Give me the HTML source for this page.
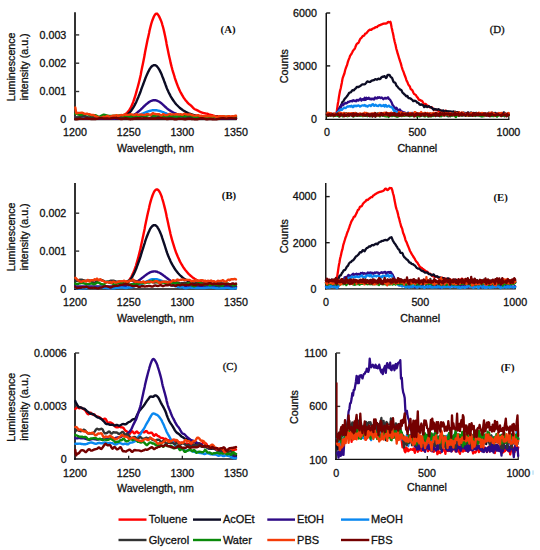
<!DOCTYPE html>
<html><head><meta charset="utf-8"><style>
html,body{margin:0;padding:0;background:#fff;}
svg{display:block;}
text{fill:#111;stroke:#111;stroke-width:0.3px;}
text.nb{stroke:none;}
</style></head><body>
<svg width="540" height="550" viewBox="0 0 540 550">
<rect width="540" height="550" fill="#fff"/>
<path d="M75.00 12.30 L75.00 120.20" stroke="#333" stroke-width="2.00" fill="none"/>
<path d="M74.00 119.60 L236.60 119.60" stroke="#222" stroke-width="1.20" fill="none"/>
<path d="M75.00 91.50 L79.20 91.50" stroke="#333" stroke-width="1.40" fill="none"/>
<path d="M75.00 63.20 L79.20 63.20" stroke="#333" stroke-width="1.40" fill="none"/>
<path d="M75.00 34.90 L79.20 34.90" stroke="#333" stroke-width="1.40" fill="none"/>
<path d="M128.70 119.60 L128.70 116.40" stroke="#222" stroke-width="1.20" fill="none"/>
<path d="M182.30 119.60 L182.30 116.40" stroke="#222" stroke-width="1.20" fill="none"/>
<path d="M236.00 119.60 L236.00 116.40" stroke="#222" stroke-width="1.20" fill="none"/>
<text x="66.30" y="123.30" font-size="10.70" text-anchor="end" font-family="Liberation Sans" font-weight="normal">0</text>
<text x="66.30" y="95.30" font-size="10.70" text-anchor="end" font-family="Liberation Sans" font-weight="normal">0.001</text>
<text x="66.30" y="67.00" font-size="10.70" text-anchor="end" font-family="Liberation Sans" font-weight="normal">0.002</text>
<text x="66.30" y="38.70" font-size="10.70" text-anchor="end" font-family="Liberation Sans" font-weight="normal">0.003</text>
<text x="75.00" y="136.10" font-size="10.70" text-anchor="middle" font-family="Liberation Sans" font-weight="normal">1200</text>
<text x="128.70" y="136.10" font-size="10.70" text-anchor="middle" font-family="Liberation Sans" font-weight="normal">1250</text>
<text x="182.30" y="136.10" font-size="10.70" text-anchor="middle" font-family="Liberation Sans" font-weight="normal">1300</text>
<text x="236.00" y="136.10" font-size="10.70" text-anchor="middle" font-family="Liberation Sans" font-weight="normal">1350</text>
<text x="155.40" y="151.80" font-size="10.70" text-anchor="middle" font-family="Liberation Sans" font-weight="normal">Wavelength, nm</text>
<text transform="translate(15.20,66.90) rotate(-90)" font-size="10.70" text-anchor="middle" font-family="Liberation Sans">Luminescence</text>
<text transform="translate(27.60,66.90) rotate(-90)" font-size="10.70" text-anchor="middle" font-family="Liberation Sans">intensity (a.u.)</text>
<path d="M75.3 117.7 75.8 117.7 76.3 117.6 76.8 117.5 77.3 117.4 77.7 117.3 78.2 117.2 78.7 117.2 79.2 117.2 79.7 117.2 80.2 117.2 80.7 117.2 81.2 117.2 81.6 117.2 82.1 117.2 82.6 117.2 83.1 117.3 83.6 117.3 84.1 117.4 84.6 117.5 85.1 117.5 85.6 117.6 86.0 117.6 86.5 117.6 87.0 117.6 87.5 117.6 88.0 117.6 88.5 117.6 89.0 117.7 89.5 117.7 90.0 117.8 90.4 117.8 90.9 117.7 91.4 117.7 91.9 117.6 92.4 117.6 92.9 117.6 93.4 117.6 93.9 117.6 94.3 117.6 94.8 117.6 95.3 117.6 95.8 117.5 96.3 117.5 96.8 117.4 97.3 117.4 97.8 117.3 98.3 117.3 98.7 117.2 99.2 117.2 99.7 117.1 100.2 117.1 100.7 117.1 101.2 117.1 101.7 117.2 102.2 117.2 102.7 117.1 103.1 117.1 103.6 117.1 104.1 117.1 104.6 117.2 105.1 117.3 105.6 117.3 106.1 117.4 106.6 117.5 107.0 117.5 107.5 117.5 108.0 117.4 108.5 117.4 109.0 117.3 109.5 117.3 110.0 117.3 110.5 117.3 111.0 117.3 111.4 117.4 111.9 117.4 112.4 117.4 112.9 117.4 113.4 117.4 113.9 117.4 114.4 117.3 114.9 117.3 115.4 117.3 115.8 117.2 116.3 117.2 116.8 117.1 117.3 117.1 117.8 117.1 118.3 117.1 118.8 117.1 119.3 117.0 119.7 117.0 120.2 116.9 120.7 116.7 121.2 116.5 121.7 116.3 122.2 116.0 122.7 115.8 123.2 115.5 123.7 115.2 124.1 115.0 124.6 114.7 125.1 114.4 125.6 114.1 126.1 113.7 126.6 113.3 127.1 112.8 127.6 112.2 128.1 111.7 128.5 111.1 129.0 110.4 129.5 109.7 130.0 108.9 130.5 108.0 131.0 107.1 131.5 106.1 132.0 105.1 132.4 103.9 132.9 102.7 133.4 101.4 133.9 100.0 134.4 98.5 134.9 96.9 135.4 95.3 135.9 93.6 136.4 91.9 136.8 90.2 137.3 88.5 137.8 86.7 138.3 84.9 138.8 83.0 139.3 81.0 139.8 78.9 140.3 76.7 140.8 74.4 141.2 72.0 141.7 69.6 142.2 67.1 142.7 64.7 143.2 62.2 143.7 59.7 144.2 57.2 144.7 54.6 145.1 52.0 145.6 49.4 146.1 46.9 146.6 44.4 147.1 42.0 147.6 39.6 148.1 37.4 148.6 35.2 149.1 33.0 149.5 30.8 150.0 28.7 150.5 26.7 151.0 24.8 151.5 23.0 152.0 21.4 152.5 20.0 153.0 18.7 153.5 17.5 153.9 16.5 154.4 15.6 154.9 14.8 155.4 14.2 155.9 13.8 156.4 13.6 156.9 13.6 157.4 13.9 157.8 14.4 158.3 15.1 158.8 15.9 159.3 16.9 159.8 17.9 160.3 19.0 160.8 20.2 161.3 21.4 161.8 22.8 162.2 24.3 162.7 26.0 163.2 27.8 163.7 29.8 164.2 31.9 164.7 34.2 165.2 36.5 165.7 38.9 166.2 41.4 166.6 43.9 167.1 46.4 167.6 48.8 168.1 51.3 168.6 53.7 169.1 56.0 169.6 58.2 170.1 60.3 170.5 62.4 171.0 64.4 171.5 66.4 172.0 68.2 172.5 70.1 173.0 71.8 173.5 73.4 174.0 75.0 174.5 76.6 174.9 78.1 175.4 79.6 175.9 81.0 176.4 82.4 176.9 83.8 177.4 85.1 177.9 86.4 178.4 87.5 178.9 88.7 179.3 89.8 179.8 90.8 180.3 91.8 180.8 92.7 181.3 93.6 181.8 94.5 182.3 95.3 182.8 96.1 183.2 96.9 183.7 97.7 184.2 98.4 184.7 99.1 185.2 99.8 185.7 100.4 186.2 101.0 186.7 101.6 187.2 102.2 187.6 102.7 188.1 103.2 188.6 103.7 189.1 104.1 189.6 104.5 190.1 104.9 190.6 105.3 191.1 105.7 191.6 106.2 192.0 106.6 192.5 107.1 193.0 107.7 193.5 108.1 194.0 108.6 194.5 109.0 195.0 109.3 195.5 109.5 195.9 109.7 196.4 109.9 196.9 110.2 197.4 110.4 197.9 110.7 198.4 110.9 198.9 111.2 199.4 111.5 199.9 111.7 200.3 112.0 200.8 112.2 201.3 112.4 201.8 112.5 202.3 112.7 202.8 112.9 203.3 113.0 203.8 113.1 204.3 113.2 204.7 113.3 205.2 113.4 205.7 113.5 206.2 113.6 206.7 113.6 207.2 113.7 207.7 113.9 208.2 114.1 208.6 114.3 209.1 114.5 209.6 114.6 210.1 114.8 210.6 114.9 211.1 115.0 211.6 115.1 212.1 115.2 212.6 115.4 213.0 115.5 213.5 115.7 214.0 115.8 214.5 116.0 215.0 116.1 215.5 116.1 216.0 116.2 216.5 116.2 217.0 116.3 217.4 116.3 217.9 116.4 218.4 116.4 218.9 116.5 219.4 116.6 219.9 116.6 220.4 116.6 220.9 116.5 221.3 116.4 221.8 116.4 222.3 116.4 222.8 116.5 223.3 116.7 223.8 116.9 224.3 117.1 224.8 117.2 225.3 117.2 225.7 117.2 226.2 117.1 226.7 117.0 227.2 117.0 227.7 117.0 228.2 117.0 228.7 117.1 229.2 117.1 229.7 117.1 230.1 117.1 230.6 117.1 231.1 117.1 231.6 117.1 232.1 117.1 232.6 117.1 233.1 117.1 233.6 117.1 234.0 117.1 234.5 117.2 235.0 117.2 235.5 117.2 236.0 117.1" stroke="#ff0000" stroke-width="2.40" fill="none" stroke-linejoin="round" stroke-linecap="round"/>
<path d="M75.3 118.6 75.8 118.6 76.3 118.6 76.8 118.6 77.3 118.6 77.7 118.6 78.2 118.6 78.7 118.6 79.2 118.6 79.7 118.6 80.2 118.6 80.7 118.6 81.2 118.6 81.6 118.6 82.1 118.6 82.6 118.6 83.1 118.6 83.6 118.6 84.1 118.6 84.6 118.6 85.1 118.6 85.6 118.6 86.0 118.6 86.5 118.6 87.0 118.6 87.5 118.6 88.0 118.6 88.5 118.6 89.0 118.6 89.5 118.6 90.0 118.6 90.4 118.6 90.9 118.6 91.4 118.6 91.9 118.6 92.4 118.6 92.9 118.6 93.4 118.6 93.9 118.6 94.3 118.6 94.8 118.6 95.3 118.6 95.8 118.6 96.3 118.6 96.8 118.6 97.3 118.6 97.8 118.6 98.3 118.6 98.7 118.6 99.2 118.6 99.7 118.6 100.2 118.6 100.7 118.6 101.2 118.6 101.7 118.6 102.2 118.6 102.7 118.6 103.1 118.6 103.6 118.6 104.1 118.6 104.6 118.6 105.1 118.6 105.6 118.6 106.1 118.6 106.6 118.6 107.0 118.6 107.5 118.6 108.0 118.6 108.5 118.6 109.0 118.6 109.5 118.6 110.0 118.5 110.5 118.5 111.0 118.5 111.4 118.5 111.9 118.5 112.4 118.5 112.9 118.5 113.4 118.5 113.9 118.4 114.4 118.4 114.9 118.4 115.4 118.4 115.8 118.3 116.3 118.3 116.8 118.2 117.3 118.2 117.8 118.1 118.3 118.1 118.8 118.0 119.3 117.9 119.7 117.8 120.2 117.7 120.7 117.6 121.2 117.5 121.7 117.4 122.2 117.2 122.7 117.1 123.2 116.9 123.7 116.7 124.1 116.5 124.6 116.3 125.1 116.0 125.6 115.7 126.1 115.4 126.6 115.1 127.1 114.8 127.6 114.4 128.1 114.0 128.5 113.6 129.0 113.1 129.5 112.6 130.0 112.1 130.5 111.5 131.0 110.9 131.5 110.2 132.0 109.6 132.4 108.8 132.9 108.1 133.4 107.3 133.9 106.4 134.4 105.6 134.9 104.6 135.4 103.7 135.9 102.7 136.4 101.7 136.8 100.6 137.3 99.5 137.8 98.3 138.3 97.2 138.8 95.9 139.3 94.7 139.8 93.5 140.3 92.2 140.8 90.9 141.2 89.6 141.7 88.2 142.2 86.9 142.7 85.6 143.2 84.3 143.7 82.9 144.2 81.6 144.7 80.3 145.1 79.1 145.6 77.8 146.1 76.6 146.6 75.4 147.1 74.3 147.6 73.2 148.1 72.1 148.6 71.2 149.1 70.2 149.5 69.4 150.0 68.6 150.5 67.9 151.0 67.2 151.5 66.7 152.0 66.2 152.5 65.8 153.0 65.5 153.5 65.3 153.9 65.1 154.4 65.1 154.9 65.2 155.4 65.3 155.9 65.5 156.4 65.9 156.9 66.3 157.4 66.8 157.8 67.4 158.3 68.1 158.8 68.9 159.3 69.7 159.8 70.6 160.3 71.6 160.8 72.6 161.3 73.7 161.8 74.8 162.2 76.0 162.7 77.3 163.2 78.5 163.7 79.8 164.2 81.2 164.7 82.5 165.2 83.8 165.7 85.2 166.2 86.5 166.6 87.7 167.1 88.9 167.6 90.0 168.1 91.1 168.6 92.2 169.1 93.2 169.6 94.2 170.1 95.1 170.5 96.0 171.0 96.9 171.5 97.7 172.0 98.5 172.5 99.3 173.0 100.0 173.5 100.7 174.0 101.4 174.5 102.1 174.9 102.7 175.4 103.3 175.9 103.9 176.4 104.5 176.9 105.0 177.4 105.5 177.9 106.0 178.4 106.5 178.9 107.0 179.3 107.4 179.8 107.8 180.3 108.3 180.8 108.6 181.3 109.0 181.8 109.4 182.3 109.7 182.8 110.1 183.2 110.4 183.7 110.7 184.2 111.0 184.7 111.3 185.2 111.6 185.7 111.9 186.2 112.1 186.7 112.4 187.2 112.6 187.6 112.8 188.1 113.1 188.6 113.3 189.1 113.5 189.6 113.7 190.1 113.9 190.6 114.0 191.1 114.2 191.6 114.4 192.0 114.5 192.5 114.7 193.0 114.9 193.5 115.0 194.0 115.1 194.5 115.3 195.0 115.4 195.5 115.5 195.9 115.6 196.4 115.7 196.9 115.9 197.4 116.0 197.9 116.1 198.4 116.2 198.9 116.3 199.4 116.3 199.9 116.4 200.3 116.5 200.8 116.6 201.3 116.7 201.8 116.7 202.3 116.8 202.8 116.9 203.3 117.0 203.8 117.0 204.3 117.1 204.7 117.1 205.2 117.2 205.7 117.2 206.2 117.3 206.7 117.3 207.2 117.4 207.7 117.4 208.2 117.5 208.6 117.5 209.1 117.6 209.6 117.6 210.1 117.6 210.6 117.7 211.1 117.7 211.6 117.8 212.1 117.8 212.6 117.8 213.0 117.8 213.5 117.9 214.0 117.9 214.5 117.9 215.0 118.0 215.5 118.0 216.0 118.0 216.5 118.0 217.0 118.0 217.4 118.1 217.9 118.1 218.4 118.1 218.9 118.1 219.4 118.1 219.9 118.2 220.4 118.2 220.9 118.2 221.3 118.2 221.8 118.2 222.3 118.2 222.8 118.3 223.3 118.3 223.8 118.3 224.3 118.3 224.8 118.3 225.3 118.3 225.7 118.3 226.2 118.3 226.7 118.3 227.2 118.4 227.7 118.4 228.2 118.4 228.7 118.4 229.2 118.4 229.7 118.4 230.1 118.4 230.6 118.4 231.1 118.4 231.6 118.4 232.1 118.4 232.6 118.4 233.1 118.4 233.6 118.5 234.0 118.5 234.5 118.5 235.0 118.5 235.5 118.5 236.0 118.5" stroke="#0c0c24" stroke-width="2.40" fill="none" stroke-linejoin="round" stroke-linecap="round"/>
<path d="M75.3 118.7 75.8 118.7 76.3 118.7 76.8 118.7 77.3 118.7 77.7 118.7 78.2 118.7 78.7 118.7 79.2 118.7 79.7 118.7 80.2 118.7 80.7 118.7 81.2 118.7 81.6 118.7 82.1 118.7 82.6 118.7 83.1 118.7 83.6 118.7 84.1 118.7 84.6 118.7 85.1 118.7 85.6 118.7 86.0 118.7 86.5 118.7 87.0 118.7 87.5 118.7 88.0 118.7 88.5 118.7 89.0 118.7 89.5 118.7 90.0 118.7 90.4 118.7 90.9 118.7 91.4 118.7 91.9 118.7 92.4 118.7 92.9 118.7 93.4 118.7 93.9 118.7 94.3 118.7 94.8 118.7 95.3 118.7 95.8 118.7 96.3 118.7 96.8 118.7 97.3 118.7 97.8 118.7 98.3 118.7 98.7 118.7 99.2 118.7 99.7 118.7 100.2 118.7 100.7 118.7 101.2 118.7 101.7 118.7 102.2 118.7 102.7 118.7 103.1 118.7 103.6 118.7 104.1 118.7 104.6 118.7 105.1 118.7 105.6 118.7 106.1 118.7 106.6 118.7 107.0 118.7 107.5 118.7 108.0 118.7 108.5 118.7 109.0 118.7 109.5 118.7 110.0 118.7 110.5 118.7 111.0 118.7 111.4 118.7 111.9 118.7 112.4 118.7 112.9 118.7 113.4 118.7 113.9 118.7 114.4 118.7 114.9 118.6 115.4 118.6 115.8 118.6 116.3 118.6 116.8 118.6 117.3 118.6 117.8 118.6 118.3 118.6 118.8 118.5 119.3 118.5 119.7 118.5 120.2 118.5 120.7 118.4 121.2 118.4 121.7 118.4 122.2 118.3 122.7 118.3 123.2 118.2 123.7 118.2 124.1 118.1 124.6 118.1 125.1 118.0 125.6 117.9 126.1 117.8 126.6 117.7 127.1 117.6 127.6 117.5 128.1 117.4 128.5 117.2 129.0 117.1 129.5 116.9 130.0 116.7 130.5 116.6 131.0 116.4 131.5 116.2 132.0 115.9 132.4 115.7 132.9 115.5 133.4 115.2 133.9 114.9 134.4 114.6 134.9 114.3 135.4 114.0 135.9 113.7 136.4 113.3 136.8 112.9 137.3 112.5 137.8 112.2 138.3 111.7 138.8 111.3 139.3 110.9 139.8 110.5 140.3 110.0 140.8 109.6 141.2 109.1 141.7 108.6 142.2 108.1 142.7 107.7 143.2 107.2 143.7 106.7 144.2 106.2 144.7 105.8 145.1 105.3 145.6 104.9 146.1 104.4 146.6 104.0 147.1 103.6 147.6 103.2 148.1 102.8 148.6 102.4 149.1 102.1 149.5 101.8 150.0 101.5 150.5 101.2 151.0 101.0 151.5 100.8 152.0 100.6 152.5 100.5 153.0 100.3 153.5 100.3 153.9 100.2 154.4 100.2 154.9 100.2 155.4 100.3 155.9 100.4 156.4 100.5 156.9 100.6 157.4 100.8 157.8 101.0 158.3 101.3 158.8 101.5 159.3 101.8 159.8 102.1 160.3 102.5 160.8 102.8 161.3 103.2 161.8 103.6 162.2 104.0 162.7 104.5 163.2 104.9 163.7 105.4 164.2 105.8 164.7 106.3 165.2 106.8 165.7 107.2 166.2 107.7 166.6 108.1 167.1 108.5 167.6 108.9 168.1 109.3 168.6 109.6 169.1 110.0 169.6 110.3 170.1 110.6 170.5 110.9 171.0 111.2 171.5 111.5 172.0 111.8 172.5 112.1 173.0 112.3 173.5 112.6 174.0 112.8 174.5 113.0 174.9 113.2 175.4 113.4 175.9 113.7 176.4 113.8 176.9 114.0 177.4 114.2 177.9 114.4 178.4 114.5 178.9 114.7 179.3 114.9 179.8 115.0 180.3 115.1 180.8 115.3 181.3 115.4 181.8 115.5 182.3 115.7 182.8 115.8 183.2 115.9 183.7 116.0 184.2 116.1 184.7 116.2 185.2 116.3 185.7 116.4 186.2 116.5 186.7 116.6 187.2 116.6 187.6 116.7 188.1 116.8 188.6 116.9 189.1 116.9 189.6 117.0 190.1 117.1 190.6 117.1 191.1 117.2 191.6 117.3 192.0 117.3 192.5 117.4 193.0 117.4 193.5 117.5 194.0 117.5 194.5 117.6 195.0 117.6 195.5 117.6 195.9 117.7 196.4 117.7 196.9 117.8 197.4 117.8 197.9 117.8 198.4 117.9 198.9 117.9 199.4 117.9 199.9 118.0 200.3 118.0 200.8 118.0 201.3 118.0 201.8 118.1 202.3 118.1 202.8 118.1 203.3 118.1 203.8 118.2 204.3 118.2 204.7 118.2 205.2 118.2 205.7 118.2 206.2 118.3 206.7 118.3 207.2 118.3 207.7 118.3 208.2 118.3 208.6 118.3 209.1 118.3 209.6 118.4 210.1 118.4 210.6 118.4 211.1 118.4 211.6 118.4 212.1 118.4 212.6 118.4 213.0 118.4 213.5 118.5 214.0 118.5 214.5 118.5 215.0 118.5 215.5 118.5 216.0 118.5 216.5 118.5 217.0 118.5 217.4 118.5 217.9 118.5 218.4 118.5 218.9 118.5 219.4 118.5 219.9 118.6 220.4 118.6 220.9 118.6 221.3 118.6 221.8 118.6 222.3 118.6 222.8 118.6 223.3 118.6 223.8 118.6 224.3 118.6 224.8 118.6 225.3 118.6 225.7 118.6 226.2 118.6 226.7 118.6 227.2 118.6 227.7 118.6 228.2 118.6 228.7 118.6 229.2 118.6 229.7 118.6 230.1 118.6 230.6 118.6 231.1 118.6 231.6 118.6 232.1 118.6 232.6 118.6 233.1 118.6 233.6 118.6 234.0 118.7 234.5 118.7 235.0 118.7 235.5 118.7 236.0 118.7" stroke="#2e0a86" stroke-width="2.40" fill="none" stroke-linejoin="round" stroke-linecap="round"/>
<path d="M75.3 117.7 75.8 117.7 76.3 117.7 76.8 117.7 77.3 117.7 77.7 117.7 78.2 117.7 78.7 117.7 79.2 117.7 79.7 117.7 80.2 117.7 80.7 117.7 81.2 117.7 81.6 117.7 82.1 117.7 82.6 117.7 83.1 117.7 83.6 117.7 84.1 117.7 84.6 117.7 85.1 117.7 85.6 117.7 86.0 117.7 86.5 117.7 87.0 117.7 87.5 117.7 88.0 117.7 88.5 117.7 89.0 117.7 89.5 117.7 90.0 117.7 90.4 117.7 90.9 117.7 91.4 117.7 91.9 117.7 92.4 117.7 92.9 117.7 93.4 117.7 93.9 117.7 94.3 117.7 94.8 117.7 95.3 117.7 95.8 117.7 96.3 117.7 96.8 117.7 97.3 117.7 97.8 117.7 98.3 117.7 98.7 117.7 99.2 117.7 99.7 117.7 100.2 117.7 100.7 117.7 101.2 117.7 101.7 117.7 102.2 117.7 102.7 117.7 103.1 117.7 103.6 117.7 104.1 117.7 104.6 117.7 105.1 117.7 105.6 117.7 106.1 117.7 106.6 117.7 107.0 117.7 107.5 117.7 108.0 117.7 108.5 117.7 109.0 117.7 109.5 117.7 110.0 117.7 110.5 117.7 111.0 117.7 111.4 117.7 111.9 117.7 112.4 117.7 112.9 117.7 113.4 117.7 113.9 117.7 114.4 117.7 114.9 117.7 115.4 117.7 115.8 117.7 116.3 117.7 116.8 117.7 117.3 117.7 117.8 117.7 118.3 117.7 118.8 117.7 119.3 117.7 119.7 117.7 120.2 117.6 120.7 117.6 121.2 117.6 121.7 117.6 122.2 117.6 122.7 117.6 123.2 117.6 123.7 117.6 124.1 117.5 124.6 117.5 125.1 117.5 125.6 117.5 126.1 117.4 126.6 117.4 127.1 117.4 127.6 117.3 128.1 117.3 128.5 117.2 129.0 117.2 129.5 117.1 130.0 117.1 130.5 117.0 131.0 117.0 131.5 116.9 132.0 116.8 132.4 116.7 132.9 116.6 133.4 116.5 133.9 116.4 134.4 116.3 134.9 116.2 135.4 116.1 135.9 115.9 136.4 115.8 136.8 115.7 137.3 115.5 137.8 115.4 138.3 115.2 138.8 115.0 139.3 114.9 139.8 114.7 140.3 114.5 140.8 114.3 141.2 114.1 141.7 113.9 142.2 113.7 142.7 113.5 143.2 113.3 143.7 113.1 144.2 112.9 144.7 112.7 145.1 112.5 145.6 112.3 146.1 112.1 146.6 111.9 147.1 111.8 147.6 111.6 148.1 111.4 148.6 111.2 149.1 111.1 149.5 111.0 150.0 110.8 150.5 110.7 151.0 110.6 151.5 110.5 152.0 110.4 152.5 110.3 153.0 110.3 153.5 110.2 153.9 110.2 154.4 110.2 154.9 110.2 155.4 110.2 155.9 110.3 156.4 110.3 156.9 110.4 157.4 110.4 157.8 110.5 158.3 110.6 158.8 110.7 159.3 110.9 159.8 111.0 160.3 111.1 160.8 111.3 161.3 111.5 161.8 111.6 162.2 111.8 162.7 112.0 163.2 112.2 163.7 112.4 164.2 112.6 164.7 112.8 165.2 113.0 165.7 113.2 166.2 113.4 166.6 113.6 167.1 113.8 167.6 114.0 168.1 114.2 168.6 114.4 169.1 114.5 169.6 114.7 170.1 114.9 170.5 115.1 171.0 115.2 171.5 115.4 172.0 115.6 172.5 115.7 173.0 115.8 173.5 116.0 174.0 116.1 174.5 116.2 174.9 116.3 175.4 116.5 175.9 116.6 176.4 116.6 176.9 116.7 177.4 116.8 177.9 116.9 178.4 117.0 178.9 117.0 179.3 117.1 179.8 117.2 180.3 117.2 180.8 117.3 181.3 117.3 181.8 117.3 182.3 117.4 182.8 117.4 183.2 117.4 183.7 117.5 184.2 117.5 184.7 117.5 185.2 117.5 185.7 117.6 186.2 117.6 186.7 117.6 187.2 117.6 187.6 117.6 188.1 117.6 188.6 117.6 189.1 117.6 189.6 117.7 190.1 117.7 190.6 117.7 191.1 117.7 191.6 117.7 192.0 117.7 192.5 117.7 193.0 117.7 193.5 117.7 194.0 117.7 194.5 117.7 195.0 117.7 195.5 117.7 195.9 117.7 196.4 117.7 196.9 117.7 197.4 117.7 197.9 117.7 198.4 117.7 198.9 117.7 199.4 117.7 199.9 117.7 200.3 117.7 200.8 117.7 201.3 117.7 201.8 117.7 202.3 117.7 202.8 117.7 203.3 117.7 203.8 117.7 204.3 117.7 204.7 117.7 205.2 117.7 205.7 117.7 206.2 117.7 206.7 117.7 207.2 117.7 207.7 117.7 208.2 117.7 208.6 117.7 209.1 117.7 209.6 117.7 210.1 117.7 210.6 117.7 211.1 117.7 211.6 117.7 212.1 117.7 212.6 117.7 213.0 117.7 213.5 117.7 214.0 117.7 214.5 117.7 215.0 117.7 215.5 117.7 216.0 117.7 216.5 117.7 217.0 117.7 217.4 117.7 217.9 117.7 218.4 117.7 218.9 117.7 219.4 117.7 219.9 117.7 220.4 117.7 220.9 117.7 221.3 117.7 221.8 117.7 222.3 117.7 222.8 117.7 223.3 117.7 223.8 117.7 224.3 117.7 224.8 117.7 225.3 117.7 225.7 117.7 226.2 117.7 226.7 117.7 227.2 117.7 227.7 117.7 228.2 117.7 228.7 117.7 229.2 117.7 229.7 117.7 230.1 117.7 230.6 117.7 231.1 117.7 231.6 117.7 232.1 117.7 232.6 117.7 233.1 117.7 233.6 117.7 234.0 117.7 234.5 117.7 235.0 117.7 235.5 117.7 236.0 117.7" stroke="#0a88f0" stroke-width="2.40" fill="none" stroke-linejoin="round" stroke-linecap="round"/>
<path d="M75.3 117.4 75.8 117.4 76.3 117.4 76.8 117.4 77.3 117.5 77.7 117.5 78.2 117.5 78.7 117.4 79.2 117.3 79.7 117.1 80.2 116.9 80.7 116.7 81.2 116.5 81.6 116.3 82.1 116.1 82.6 115.9 83.1 115.9 83.6 115.9 84.1 115.9 84.6 116.1 85.1 116.2 85.6 116.4 86.0 116.7 86.5 116.9 87.0 117.1 87.5 117.3 88.0 117.4 88.5 117.5 89.0 117.5 89.5 117.5 90.0 117.4 90.4 117.3 90.9 117.1 91.4 117.0 91.9 116.8 92.4 116.7 92.9 116.7 93.4 116.7 93.9 116.8 94.3 116.9 94.8 117.1 95.3 117.3 95.8 117.5 96.3 117.6 96.8 117.7 97.3 117.7 97.8 117.6 98.3 117.5 98.7 117.4 99.2 117.3 99.7 117.2 100.2 117.1 100.7 117.1 101.2 117.1 101.7 117.1 102.2 117.2 102.7 117.2 103.1 117.3 103.6 117.4 104.1 117.5 104.6 117.6 105.1 117.7 105.6 117.8 106.1 117.9 106.6 118.0 107.0 118.0 107.5 118.0 108.0 117.9 108.5 117.8 109.0 117.7 109.5 117.6 110.0 117.5 110.5 117.3 111.0 117.2 111.4 117.1 111.9 117.1 112.4 117.1 112.9 117.1 113.4 117.2 113.9 117.2 114.4 117.3 114.9 117.4 115.4 117.5 115.8 117.6 116.3 117.6 116.8 117.6 117.3 117.6 117.8 117.5 118.3 117.4 118.8 117.3 119.3 117.2 119.7 117.2 120.2 117.1 120.7 117.0 121.2 116.9 121.7 116.9 122.2 116.9 122.7 117.0 123.2 117.1 123.7 117.2 124.1 117.3 124.6 117.5 125.1 117.6 125.6 117.7 126.1 117.8 126.6 117.9 127.1 117.8 127.6 117.8 128.1 117.7 128.5 117.6 129.0 117.5 129.5 117.4 130.0 117.3 130.5 117.3 131.0 117.3 131.5 117.3 132.0 117.2 132.4 117.2 132.9 117.1 133.4 117.0 133.9 117.0 134.4 116.9 134.9 117.0 135.4 117.0 135.9 117.1 136.4 117.3 136.8 117.4 137.3 117.5 137.8 117.6 138.3 117.6 138.8 117.5 139.3 117.3 139.8 117.1 140.3 116.8 140.8 116.6 141.2 116.5 141.7 116.4 142.2 116.4 142.7 116.5 143.2 116.6 143.7 116.8 144.2 117.0 144.7 117.2 145.1 117.5 145.6 117.7 146.1 118.0 146.6 118.2 147.1 118.3 147.6 118.5 148.1 118.5 148.6 118.5 149.1 118.4 149.5 118.2 150.0 118.0 150.5 117.8 151.0 117.5 151.5 117.3 152.0 117.2 152.5 117.1 153.0 117.0 153.5 117.1 153.9 117.1 154.4 117.2 154.9 117.2 155.4 117.3 155.9 117.4 156.4 117.4 156.9 117.3 157.4 117.3 157.8 117.2 158.3 117.1 158.8 117.1 159.3 117.0 159.8 116.9 160.3 116.9 160.8 116.8 161.3 116.7 161.8 116.7 162.2 116.6 162.7 116.6 163.2 116.6 163.7 116.6 164.2 116.6 164.7 116.6 165.2 116.7 165.7 116.7 166.2 116.7 166.6 116.8 167.1 116.8 167.6 116.9 168.1 117.0 168.6 117.1 169.1 117.2 169.6 117.4 170.1 117.5 170.5 117.6 171.0 117.7 171.5 117.7 172.0 117.7 172.5 117.7 173.0 117.6 173.5 117.5 174.0 117.5 174.5 117.4 174.9 117.4 175.4 117.4 175.9 117.5 176.4 117.5 176.9 117.5 177.4 117.4 177.9 117.3 178.4 117.2 178.9 117.0 179.3 116.7 179.8 116.4 180.3 116.2 180.8 116.0 181.3 116.0 181.8 116.1 182.3 116.2 182.8 116.4 183.2 116.6 183.7 116.8 184.2 116.9 184.7 117.1 185.2 117.2 185.7 117.2 186.2 117.2 186.7 117.1 187.2 117.0 187.6 116.9 188.1 116.8 188.6 116.8 189.1 116.8 189.6 116.9 190.1 117.1 190.6 117.3 191.1 117.4 191.6 117.6 192.0 117.9 192.5 118.1 193.0 118.2 193.5 118.4 194.0 118.4 194.5 118.5 195.0 118.5 195.5 118.4 195.9 118.4 196.4 118.3 196.9 118.3 197.4 118.1 197.9 118.0 198.4 117.9 198.9 117.7 199.4 117.6 199.9 117.5 200.3 117.3 200.8 117.2 201.3 117.1 201.8 117.0 202.3 116.9 202.8 116.8 203.3 116.8 203.8 116.8 204.3 116.8 204.7 116.9 205.2 117.0 205.7 117.1 206.2 117.3 206.7 117.4 207.2 117.5 207.7 117.6 208.2 117.6 208.6 117.6 209.1 117.6 209.6 117.5 210.1 117.5 210.6 117.4 211.1 117.4 211.6 117.3 212.1 117.2 212.6 117.2 213.0 117.1 213.5 117.0 214.0 116.9 214.5 116.8 215.0 116.7 215.5 116.6 216.0 116.6 216.5 116.7 217.0 116.8 217.4 117.0 217.9 117.1 218.4 117.2 218.9 117.3 219.4 117.3 219.9 117.2 220.4 117.2 220.9 117.1 221.3 117.1 221.8 117.1 222.3 117.1 222.8 117.2 223.3 117.3 223.8 117.4 224.3 117.5 224.8 117.6 225.3 117.6 225.7 117.6 226.2 117.6 226.7 117.6 227.2 117.6 227.7 117.6 228.2 117.5 228.7 117.5 229.2 117.5 229.7 117.5 230.1 117.5 230.6 117.5 231.1 117.5 231.6 117.6 232.1 117.7 232.6 117.8 233.1 117.9 233.6 118.0 234.0 118.1 234.5 118.2 235.0 118.2 235.5 118.2 236.0 118.1" stroke="#333333" stroke-width="2.40" fill="none" stroke-linejoin="round" stroke-linecap="round"/>
<path d="M75.3 113.8 75.8 113.9 76.3 113.9 76.8 114.0 77.3 114.2 77.7 114.4 78.2 114.5 78.7 114.6 79.2 114.7 79.7 114.8 80.2 114.8 80.7 114.7 81.2 114.7 81.6 114.5 82.1 114.4 82.6 114.3 83.1 114.2 83.6 114.1 84.1 114.1 84.6 114.1 85.1 114.1 85.6 114.1 86.0 114.1 86.5 114.2 87.0 114.2 87.5 114.3 88.0 114.5 88.5 114.6 89.0 114.8 89.5 115.0 90.0 115.1 90.4 115.3 90.9 115.3 91.4 115.4 91.9 115.3 92.4 115.3 92.9 115.2 93.4 115.1 93.9 115.1 94.3 115.1 94.8 115.1 95.3 115.3 95.8 115.4 96.3 115.7 96.8 115.9 97.3 116.2 97.8 116.4 98.3 116.6 98.7 116.7 99.2 116.7 99.7 116.6 100.2 116.4 100.7 116.2 101.2 115.9 101.7 115.6 102.2 115.3 102.7 115.1 103.1 114.9 103.6 114.8 104.1 114.8 104.6 114.9 105.1 115.0 105.6 115.1 106.1 115.3 106.6 115.4 107.0 115.6 107.5 115.7 108.0 115.8 108.5 115.9 109.0 115.9 109.5 116.0 110.0 116.0 110.5 116.0 111.0 116.0 111.4 116.0 111.9 116.0 112.4 115.9 112.9 115.9 113.4 115.9 113.9 115.8 114.4 115.8 114.9 115.8 115.4 115.8 115.8 115.8 116.3 115.9 116.8 115.8 117.3 115.8 117.8 115.7 118.3 115.6 118.8 115.5 119.3 115.4 119.7 115.4 120.2 115.3 120.7 115.4 121.2 115.4 121.7 115.6 122.2 115.7 122.7 115.9 123.2 116.1 123.7 116.3 124.1 116.4 124.6 116.5 125.1 116.6 125.6 116.6 126.1 116.7 126.6 116.7 127.1 116.7 127.6 116.6 128.1 116.6 128.5 116.5 129.0 116.4 129.5 116.3 130.0 116.3 130.5 116.3 131.0 116.2 131.5 116.2 132.0 116.1 132.4 116.1 132.9 116.0 133.4 116.0 133.9 115.9 134.4 115.9 134.9 115.8 135.4 115.8 135.9 115.8 136.4 115.8 136.8 115.8 137.3 115.9 137.8 115.9 138.3 115.9 138.8 115.9 139.3 115.8 139.8 115.7 140.3 115.6 140.8 115.4 141.2 115.3 141.7 115.2 142.2 115.2 142.7 115.3 143.2 115.4 143.7 115.5 144.2 115.6 144.7 115.7 145.1 115.8 145.6 115.9 146.1 115.9 146.6 115.8 147.1 115.7 147.6 115.5 148.1 115.4 148.6 115.3 149.1 115.1 149.5 115.1 150.0 115.0 150.5 115.0 151.0 115.1 151.5 115.1 152.0 115.3 152.5 115.4 153.0 115.6 153.5 115.7 153.9 115.8 154.4 115.8 154.9 115.8 155.4 115.7 155.9 115.5 156.4 115.3 156.9 115.1 157.4 114.9 157.8 114.7 158.3 114.7 158.8 114.7 159.3 114.7 159.8 114.9 160.3 115.1 160.8 115.3 161.3 115.6 161.8 115.8 162.2 116.0 162.7 116.1 163.2 116.2 163.7 116.3 164.2 116.4 164.7 116.4 165.2 116.3 165.7 116.3 166.2 116.2 166.6 116.0 167.1 115.9 167.6 115.8 168.1 115.7 168.6 115.7 169.1 115.6 169.6 115.7 170.1 115.7 170.5 115.8 171.0 115.9 171.5 116.0 172.0 116.0 172.5 116.1 173.0 116.2 173.5 116.2 174.0 116.3 174.5 116.3 174.9 116.4 175.4 116.4 175.9 116.5 176.4 116.5 176.9 116.6 177.4 116.6 177.9 116.5 178.4 116.5 178.9 116.4 179.3 116.3 179.8 116.2 180.3 116.1 180.8 116.1 181.3 116.1 181.8 116.1 182.3 116.1 182.8 116.1 183.2 116.1 183.7 116.2 184.2 116.2 184.7 116.2 185.2 116.1 185.7 116.0 186.2 115.8 186.7 115.7 187.2 115.5 187.6 115.4 188.1 115.3 188.6 115.3 189.1 115.3 189.6 115.4 190.1 115.5 190.6 115.6 191.1 115.7 191.6 115.9 192.0 116.0 192.5 116.2 193.0 116.5 193.5 116.7 194.0 116.9 194.5 117.1 195.0 117.3 195.5 117.4 195.9 117.5 196.4 117.5 196.9 117.5 197.4 117.5 197.9 117.4 198.4 117.3 198.9 117.2 199.4 117.2 199.9 117.2 200.3 117.2 200.8 117.2 201.3 117.2 201.8 117.1 202.3 117.0 202.8 116.9 203.3 116.8 203.8 116.7 204.3 116.7 204.7 116.7 205.2 116.7 205.7 116.8 206.2 116.9 206.7 117.1 207.2 117.2 207.7 117.3 208.2 117.4 208.6 117.4 209.1 117.4 209.6 117.4 210.1 117.4 210.6 117.3 211.1 117.2 211.6 117.2 212.1 117.1 212.6 117.0 213.0 117.0 213.5 117.1 214.0 117.1 214.5 117.1 215.0 117.2 215.5 117.2 216.0 117.2 216.5 117.2 217.0 117.2 217.4 117.2 217.9 117.2 218.4 117.2 218.9 117.3 219.4 117.3 219.9 117.4 220.4 117.5 220.9 117.6 221.3 117.6 221.8 117.5 222.3 117.4 222.8 117.2 223.3 117.1 223.8 116.9 224.3 116.7 224.8 116.7 225.3 116.6 225.7 116.7 226.2 116.7 226.7 116.9 227.2 117.0 227.7 117.1 228.2 117.2 228.7 117.2 229.2 117.2 229.7 117.2 230.1 117.1 230.6 117.1 231.1 117.1 231.6 117.2 232.1 117.2 232.6 117.2 233.1 117.1 233.6 117.0 234.0 116.9 234.5 116.8 235.0 116.6 235.5 116.5 236.0 116.4" stroke="#0a8a0a" stroke-width="2.40" fill="none" stroke-linejoin="round" stroke-linecap="round"/>
<path d="M75.3 107.5 75.8 110.5 76.3 113.2 76.8 113.3 77.3 113.2 77.7 113.0 78.2 112.9 78.7 112.9 79.2 112.9 79.7 112.9 80.2 112.9 80.7 112.9 81.2 112.7 81.6 112.6 82.1 112.7 82.6 112.9 83.1 113.2 83.6 113.4 84.1 113.6 84.6 113.8 85.1 113.9 85.6 113.9 86.0 113.8 86.5 113.7 87.0 113.7 87.5 113.8 88.0 114.0 88.5 114.2 89.0 114.3 89.5 114.3 90.0 114.4 90.4 114.6 90.9 114.9 91.4 115.0 91.9 115.0 92.4 115.0 92.9 114.9 93.4 115.0 93.9 115.2 94.3 115.5 94.8 115.9 95.3 116.2 95.8 116.3 96.3 116.4 96.8 116.6 97.3 116.8 97.8 117.0 98.3 117.2 98.7 117.3 99.2 117.5 99.7 117.7 100.2 117.8 100.7 117.8 101.2 117.7 101.7 117.5 102.2 117.3 102.7 117.1 103.1 116.9 103.6 116.8 104.1 116.9 104.6 117.0 105.1 117.1 105.6 116.9 106.1 116.6 106.6 116.2 107.0 115.9 107.5 115.9 108.0 116.2 108.5 116.5 109.0 116.6 109.5 116.7 110.0 116.6 110.5 116.5 111.0 116.4 111.4 116.3 111.9 116.1 112.4 115.9 112.9 115.7 113.4 115.6 113.9 115.7 114.4 115.8 114.9 115.8 115.4 115.7 115.8 115.4 116.3 115.3 116.8 115.3 117.3 115.6 117.8 115.8 118.3 115.8 118.8 115.8 119.3 115.7 119.7 115.5 120.2 115.3 120.7 115.1 121.2 115.0 121.7 115.1 122.2 115.3 122.7 115.3 123.2 115.1 123.7 114.8 124.1 114.6 124.6 114.6 125.1 114.7 125.6 114.8 126.1 114.8 126.6 114.8 127.1 114.8 127.6 114.9 128.1 114.9 128.5 114.9 129.0 114.8 129.5 114.6 130.0 114.4 130.5 114.3 131.0 114.4 131.5 114.4 132.0 114.5 132.4 114.6 132.9 114.8 133.4 115.0 133.9 115.1 134.4 115.0 134.9 114.8 135.4 114.6 135.9 114.4 136.4 114.2 136.8 114.3 137.3 114.6 137.8 114.9 138.3 115.0 138.8 114.9 139.3 114.7 139.8 114.6 140.3 114.6 140.8 114.6 141.2 114.5 141.7 114.6 142.2 114.7 142.7 114.9 143.2 114.9 143.7 114.9 144.2 114.9 144.7 114.9 145.1 114.8 145.6 114.6 146.1 114.4 146.6 114.3 147.1 114.3 147.6 114.3 148.1 114.3 148.6 114.3 149.1 114.5 149.5 114.7 150.0 114.9 150.5 115.1 151.0 114.9 151.5 114.5 152.0 113.9 152.5 113.4 153.0 113.2 153.5 113.4 153.9 113.7 154.4 113.9 154.9 114.0 155.4 114.0 155.9 114.1 156.4 114.2 156.9 114.3 157.4 114.3 157.8 114.3 158.3 114.2 158.8 114.2 159.3 114.4 159.8 114.8 160.3 115.1 160.8 115.3 161.3 115.4 161.8 115.2 162.2 114.9 162.7 114.4 163.2 114.2 163.7 114.2 164.2 114.5 164.7 114.8 165.2 115.0 165.7 115.1 166.2 115.1 166.6 115.1 167.1 115.0 167.6 114.9 168.1 114.7 168.6 114.5 169.1 114.2 169.6 113.9 170.1 113.9 170.5 114.1 171.0 114.5 171.5 114.6 172.0 114.5 172.5 114.4 173.0 114.4 173.5 114.4 174.0 114.4 174.5 114.5 174.9 114.4 175.4 114.3 175.9 114.2 176.4 114.2 176.9 114.2 177.4 114.3 177.9 114.5 178.4 114.5 178.9 114.5 179.3 114.5 179.8 114.4 180.3 114.3 180.8 114.3 181.3 114.4 181.8 114.7 182.3 114.8 182.8 114.7 183.2 114.4 183.7 114.0 184.2 113.8 184.7 113.7 185.2 114.0 185.7 114.2 186.2 114.3 186.7 114.4 187.2 114.5 187.6 114.5 188.1 114.5 188.6 114.6 189.1 114.5 189.6 114.4 190.1 114.4 190.6 114.5 191.1 114.7 191.6 114.9 192.0 115.1 192.5 115.2 193.0 115.3 193.5 115.5 194.0 115.6 194.5 115.6 195.0 115.6 195.5 115.6 195.9 115.7 196.4 115.6 196.9 115.5 197.4 115.2 197.9 115.1 198.4 115.2 198.9 115.4 199.4 115.8 199.9 116.0 200.3 116.0 200.8 115.7 201.3 115.7 201.8 115.9 202.3 116.2 202.8 116.5 203.3 116.5 203.8 116.3 204.3 116.2 204.7 116.2 205.2 116.2 205.7 116.2 206.2 116.2 206.7 116.2 207.2 116.2 207.7 116.2 208.2 116.2 208.6 116.1 209.1 116.1 209.6 116.2 210.1 116.3 210.6 116.3 211.1 116.2 211.6 116.2 212.1 116.2 212.6 116.2 213.0 116.2 213.5 116.1 214.0 116.1 214.5 116.2 215.0 116.5 215.5 116.7 216.0 116.9 216.5 117.0 217.0 117.1 217.4 117.2 217.9 117.2 218.4 116.9 218.9 116.6 219.4 116.3 219.9 116.2 220.4 116.2 220.9 116.4 221.3 116.5 221.8 116.5 222.3 116.3 222.8 116.2 223.3 116.1 223.8 116.2 224.3 116.3 224.8 116.5 225.3 116.6 225.7 116.8 226.2 116.8 226.7 116.7 227.2 116.5 227.7 116.3 228.2 116.2 228.7 116.1 229.2 116.1 229.7 116.2 230.1 116.3 230.6 116.6 231.1 116.6 231.6 116.4 232.1 116.2 232.6 116.1 233.1 116.3 233.6 116.4 234.0 116.4 234.5 116.2 235.0 115.9 235.5 115.7 236.0 115.7" stroke="#f43c08" stroke-width="2.40" fill="none" stroke-linejoin="round" stroke-linecap="round"/>
<path d="M75.3 119.0 75.8 119.2 76.3 119.3 76.8 119.3 77.3 119.2 77.7 119.1 78.2 119.0 78.7 118.9 79.2 118.8 79.7 118.7 80.2 118.6 80.7 118.6 81.2 118.6 81.6 118.6 82.1 118.7 82.6 118.7 83.1 118.7 83.6 118.7 84.1 118.6 84.6 118.6 85.1 118.5 85.6 118.5 86.0 118.4 86.5 118.4 87.0 118.5 87.5 118.5 88.0 118.6 88.5 118.7 89.0 118.8 89.5 118.8 90.0 118.9 90.4 118.9 90.9 119.0 91.4 119.0 91.9 119.0 92.4 119.0 92.9 119.0 93.4 119.0 93.9 119.0 94.3 119.0 94.8 119.0 95.3 119.0 95.8 119.0 96.3 118.9 96.8 118.9 97.3 118.7 97.8 118.6 98.3 118.5 98.7 118.4 99.2 118.3 99.7 118.2 100.2 118.2 100.7 118.2 101.2 118.2 101.7 118.2 102.2 118.3 102.7 118.4 103.1 118.4 103.6 118.5 104.1 118.5 104.6 118.5 105.1 118.5 105.6 118.5 106.1 118.5 106.6 118.5 107.0 118.6 107.5 118.6 108.0 118.6 108.5 118.6 109.0 118.6 109.5 118.6 110.0 118.6 110.5 118.5 111.0 118.4 111.4 118.3 111.9 118.2 112.4 118.1 112.9 118.0 113.4 118.0 113.9 117.9 114.4 117.9 114.9 117.9 115.4 118.0 115.8 118.0 116.3 118.0 116.8 118.1 117.3 118.2 117.8 118.3 118.3 118.4 118.8 118.5 119.3 118.7 119.7 118.8 120.2 118.9 120.7 119.0 121.2 119.1 121.7 119.1 122.2 119.0 122.7 118.9 123.2 118.8 123.7 118.7 124.1 118.6 124.6 118.4 125.1 118.4 125.6 118.3 126.1 118.3 126.6 118.4 127.1 118.5 127.6 118.6 128.1 118.7 128.5 118.9 129.0 119.0 129.5 119.1 130.0 119.1 130.5 119.2 131.0 119.1 131.5 119.1 132.0 119.1 132.4 119.0 132.9 119.0 133.4 118.9 133.9 118.8 134.4 118.7 134.9 118.6 135.4 118.6 135.9 118.5 136.4 118.4 136.8 118.4 137.3 118.3 137.8 118.3 138.3 118.3 138.8 118.4 139.3 118.4 139.8 118.5 140.3 118.5 140.8 118.5 141.2 118.5 141.7 118.5 142.2 118.5 142.7 118.5 143.2 118.4 143.7 118.4 144.2 118.4 144.7 118.4 145.1 118.4 145.6 118.4 146.1 118.4 146.6 118.4 147.1 118.4 147.6 118.4 148.1 118.4 148.6 118.5 149.1 118.5 149.5 118.6 150.0 118.6 150.5 118.6 151.0 118.7 151.5 118.7 152.0 118.8 152.5 118.8 153.0 118.8 153.5 118.8 153.9 118.8 154.4 118.8 154.9 118.7 155.4 118.7 155.9 118.5 156.4 118.4 156.9 118.3 157.4 118.2 157.8 118.1 158.3 118.1 158.8 118.1 159.3 118.2 159.8 118.2 160.3 118.2 160.8 118.3 161.3 118.3 161.8 118.3 162.2 118.3 162.7 118.3 163.2 118.4 163.7 118.4 164.2 118.5 164.7 118.6 165.2 118.7 165.7 118.8 166.2 118.9 166.6 119.0 167.1 119.1 167.6 119.1 168.1 119.0 168.6 118.9 169.1 118.8 169.6 118.7 170.1 118.7 170.5 118.6 171.0 118.5 171.5 118.6 172.0 118.6 172.5 118.7 173.0 118.8 173.5 119.0 174.0 119.1 174.5 119.2 174.9 119.3 175.4 119.3 175.9 119.2 176.4 119.2 176.9 119.1 177.4 119.0 177.9 118.9 178.4 118.8 178.9 118.8 179.3 118.7 179.8 118.7 180.3 118.7 180.8 118.7 181.3 118.7 181.8 118.7 182.3 118.8 182.8 118.9 183.2 119.0 183.7 119.0 184.2 119.1 184.7 119.2 185.2 119.2 185.7 119.2 186.2 119.1 186.7 119.1 187.2 118.9 187.6 118.8 188.1 118.8 188.6 118.7 189.1 118.7 189.6 118.7 190.1 118.8 190.6 118.9 191.1 118.9 191.6 119.0 192.0 119.0 192.5 119.0 193.0 119.1 193.5 119.1 194.0 119.1 194.5 119.2 195.0 119.2 195.5 119.3 195.9 119.3 196.4 119.3 196.9 119.3 197.4 119.2 197.9 119.1 198.4 119.0 198.9 118.8 199.4 118.7 199.9 118.5 200.3 118.4 200.8 118.3 201.3 118.3 201.8 118.3 202.3 118.3 202.8 118.3 203.3 118.4 203.8 118.5 204.3 118.7 204.7 118.8 205.2 119.0 205.7 119.1 206.2 119.2 206.7 119.2 207.2 119.2 207.7 119.2 208.2 119.2 208.6 119.1 209.1 119.1 209.6 119.0 210.1 119.0 210.6 119.0 211.1 119.0 211.6 119.1 212.1 119.2 212.6 119.2 213.0 119.3 213.5 119.3 214.0 119.4 214.5 119.4 215.0 119.4 215.5 119.4 216.0 119.4 216.5 119.3 217.0 119.2 217.4 119.1 217.9 119.0 218.4 118.9 218.9 118.8 219.4 118.7 219.9 118.6 220.4 118.5 220.9 118.4 221.3 118.4 221.8 118.3 222.3 118.3 222.8 118.3 223.3 118.3 223.8 118.3 224.3 118.4 224.8 118.5 225.3 118.5 225.7 118.6 226.2 118.6 226.7 118.6 227.2 118.6 227.7 118.5 228.2 118.4 228.7 118.3 229.2 118.3 229.7 118.2 230.1 118.2 230.6 118.3 231.1 118.3 231.6 118.3 232.1 118.3 232.6 118.4 233.1 118.4 233.6 118.4 234.0 118.4 234.5 118.4 235.0 118.4 235.5 118.5 236.0 118.5" stroke="#740000" stroke-width="2.40" fill="none" stroke-linejoin="round" stroke-linecap="round"/>
<path d="M75.00 183.00 L75.00 289.65" stroke="#333" stroke-width="2.00" fill="none"/>
<path d="M74.00 289.00 L236.60 289.00" stroke="#111" stroke-width="1.30" fill="none"/>
<path d="M75.00 251.10 L79.20 251.10" stroke="#333" stroke-width="1.40" fill="none"/>
<path d="M75.00 213.20 L79.20 213.20" stroke="#333" stroke-width="1.40" fill="none"/>
<path d="M128.70 289.00 L128.70 285.80" stroke="#111" stroke-width="1.20" fill="none"/>
<path d="M182.30 289.00 L182.30 285.80" stroke="#111" stroke-width="1.20" fill="none"/>
<path d="M236.00 289.00 L236.00 285.80" stroke="#111" stroke-width="1.20" fill="none"/>
<text x="66.30" y="292.80" font-size="10.70" text-anchor="end" font-family="Liberation Sans" font-weight="normal">0</text>
<text x="66.30" y="254.90" font-size="10.70" text-anchor="end" font-family="Liberation Sans" font-weight="normal">0.001</text>
<text x="66.30" y="217.00" font-size="10.70" text-anchor="end" font-family="Liberation Sans" font-weight="normal">0.002</text>
<text x="75.00" y="306.30" font-size="10.70" text-anchor="middle" font-family="Liberation Sans" font-weight="normal">1200</text>
<text x="128.70" y="306.30" font-size="10.70" text-anchor="middle" font-family="Liberation Sans" font-weight="normal">1250</text>
<text x="182.30" y="306.30" font-size="10.70" text-anchor="middle" font-family="Liberation Sans" font-weight="normal">1300</text>
<text x="236.00" y="306.30" font-size="10.70" text-anchor="middle" font-family="Liberation Sans" font-weight="normal">1350</text>
<text x="155.40" y="321.90" font-size="10.70" text-anchor="middle" font-family="Liberation Sans" font-weight="normal">Wavelength, nm</text>
<text transform="translate(15.20,236.90) rotate(-90)" font-size="10.70" text-anchor="middle" font-family="Liberation Sans">Luminescence</text>
<text transform="translate(27.60,236.90) rotate(-90)" font-size="10.70" text-anchor="middle" font-family="Liberation Sans">intensity (a.u.)</text>
<path d="M75.3 287.1 75.8 287.1 76.3 287.1 76.8 287.1 77.3 287.1 77.7 287.1 78.2 287.1 78.7 287.1 79.2 287.1 79.7 287.1 80.2 287.1 80.7 287.1 81.2 287.1 81.6 287.1 82.1 287.1 82.6 287.1 83.1 287.1 83.6 287.1 84.1 287.1 84.6 287.1 85.1 287.1 85.6 287.1 86.0 287.1 86.5 287.1 87.0 287.1 87.5 287.1 88.0 287.1 88.5 287.1 89.0 287.1 89.5 287.1 90.0 287.1 90.4 287.1 90.9 287.1 91.4 287.1 91.9 287.1 92.4 287.1 92.9 287.1 93.4 287.1 93.9 287.1 94.3 287.1 94.8 287.1 95.3 287.1 95.8 287.1 96.3 287.1 96.8 287.1 97.3 287.1 97.8 287.1 98.3 287.1 98.7 287.1 99.2 287.1 99.7 287.1 100.2 287.1 100.7 287.1 101.2 287.1 101.7 287.1 102.2 287.1 102.7 287.1 103.1 287.1 103.6 287.1 104.1 287.1 104.6 287.1 105.1 287.1 105.6 287.1 106.1 287.1 106.6 287.1 107.0 287.1 107.5 287.1 108.0 287.1 108.5 287.1 109.0 287.1 109.5 287.1 110.0 287.1 110.5 287.0 111.0 287.0 111.4 287.0 111.9 287.0 112.4 287.0 112.9 287.0 113.4 287.0 113.9 286.9 114.4 286.9 114.9 286.9 115.4 286.8 115.8 286.8 116.3 286.8 116.8 286.7 117.3 286.7 117.8 286.6 118.3 286.5 118.8 286.5 119.3 286.4 119.7 286.3 120.2 286.2 120.7 286.0 121.2 285.9 121.7 285.7 122.2 285.6 122.7 285.4 123.2 285.2 123.7 284.9 124.1 284.7 124.6 284.4 125.1 284.1 125.6 283.8 126.1 283.4 126.6 283.0 127.1 282.6 127.6 282.1 128.1 281.6 128.5 281.0 129.0 280.4 129.5 279.7 130.0 279.0 130.5 278.3 131.0 277.4 131.5 276.6 132.0 275.6 132.4 274.6 132.9 273.6 133.4 272.4 133.9 271.2 134.4 270.0 134.9 268.6 135.4 267.2 135.9 265.8 136.4 264.2 136.8 262.6 137.3 260.9 137.8 259.1 138.3 257.3 138.8 255.4 139.3 253.4 139.8 251.4 140.3 249.3 140.8 247.1 141.2 244.9 141.7 242.7 142.2 240.4 142.7 238.1 143.2 235.7 143.7 233.3 144.2 230.9 144.7 228.5 145.1 226.1 145.6 223.7 146.1 221.3 146.6 219.0 147.1 216.6 147.6 214.3 148.1 212.1 148.6 209.9 149.1 207.8 149.5 205.7 150.0 203.8 150.5 201.9 151.0 200.1 151.5 198.5 152.0 197.0 152.5 195.5 153.0 194.3 153.5 193.1 153.9 192.1 154.4 191.3 154.9 190.6 155.4 190.1 155.9 189.7 156.4 189.5 156.9 189.4 157.4 189.5 157.8 189.8 158.3 190.2 158.8 190.7 159.3 191.4 159.8 192.3 160.3 193.3 160.8 194.4 161.3 195.6 161.8 197.0 162.2 198.5 162.7 200.1 163.2 201.8 163.7 203.7 164.2 205.6 164.7 207.6 165.2 209.6 165.7 211.7 166.2 213.9 166.6 216.2 167.1 218.4 167.6 220.7 168.1 223.1 168.6 225.4 169.1 227.7 169.6 229.9 170.1 232.0 170.5 234.0 171.0 236.0 171.5 237.9 172.0 239.7 172.5 241.4 173.0 243.1 173.5 244.7 174.0 246.3 174.5 247.8 174.9 249.2 175.4 250.6 175.9 252.0 176.4 253.3 176.9 254.5 177.4 255.7 177.9 256.9 178.4 258.0 178.9 259.1 179.3 260.1 179.8 261.1 180.3 262.1 180.8 263.0 181.3 263.9 181.8 264.7 182.3 265.6 182.8 266.3 183.2 267.1 183.7 267.8 184.2 268.6 184.7 269.2 185.2 269.9 185.7 270.5 186.2 271.1 186.7 271.7 187.2 272.3 187.6 272.8 188.1 273.4 188.6 273.9 189.1 274.4 189.6 274.8 190.1 275.3 190.6 275.7 191.1 276.1 191.6 276.5 192.0 276.9 192.5 277.3 193.0 277.7 193.5 278.0 194.0 278.4 194.5 278.7 195.0 279.0 195.5 279.3 195.9 279.6 196.4 279.9 196.9 280.1 197.4 280.4 197.9 280.6 198.4 280.9 198.9 281.1 199.4 281.3 199.9 281.5 200.3 281.7 200.8 281.9 201.3 282.1 201.8 282.3 202.3 282.5 202.8 282.7 203.3 282.8 203.8 283.0 204.3 283.1 204.7 283.3 205.2 283.4 205.7 283.6 206.2 283.7 206.7 283.8 207.2 283.9 207.7 284.0 208.2 284.2 208.6 284.3 209.1 284.4 209.6 284.5 210.1 284.6 210.6 284.7 211.1 284.8 211.6 284.8 212.1 284.9 212.6 285.0 213.0 285.1 213.5 285.2 214.0 285.2 214.5 285.3 215.0 285.4 215.5 285.4 216.0 285.5 216.5 285.5 217.0 285.6 217.4 285.7 217.9 285.7 218.4 285.8 218.9 285.8 219.4 285.9 219.9 285.9 220.4 286.0 220.9 286.0 221.3 286.0 221.8 286.1 222.3 286.1 222.8 286.1 223.3 286.2 223.8 286.2 224.3 286.2 224.8 286.3 225.3 286.3 225.7 286.3 226.2 286.4 226.7 286.4 227.2 286.4 227.7 286.4 228.2 286.5 228.7 286.5 229.2 286.5 229.7 286.5 230.1 286.6 230.6 286.6 231.1 286.6 231.6 286.6 232.1 286.6 232.6 286.7 233.1 286.7 233.6 286.7 234.0 286.7 234.5 286.7 235.0 286.7 235.5 286.7 236.0 286.8" stroke="#ff0000" stroke-width="2.40" fill="none" stroke-linejoin="round" stroke-linecap="round"/>
<path d="M75.3 287.6 75.8 287.6 76.3 287.6 76.8 287.6 77.3 287.6 77.7 287.6 78.2 287.6 78.7 287.6 79.2 287.6 79.7 287.6 80.2 287.6 80.7 287.6 81.2 287.6 81.6 287.6 82.1 287.6 82.6 287.6 83.1 287.6 83.6 287.6 84.1 287.6 84.6 287.6 85.1 287.6 85.6 287.6 86.0 287.6 86.5 287.6 87.0 287.6 87.5 287.6 88.0 287.6 88.5 287.6 89.0 287.6 89.5 287.6 90.0 287.6 90.4 287.6 90.9 287.6 91.4 287.6 91.9 287.6 92.4 287.6 92.9 287.6 93.4 287.6 93.9 287.6 94.3 287.6 94.8 287.6 95.3 287.6 95.8 287.6 96.3 287.6 96.8 287.6 97.3 287.6 97.8 287.6 98.3 287.6 98.7 287.6 99.2 287.6 99.7 287.6 100.2 287.6 100.7 287.6 101.2 287.6 101.7 287.6 102.2 287.6 102.7 287.6 103.1 287.6 103.6 287.6 104.1 287.6 104.6 287.6 105.1 287.6 105.6 287.6 106.1 287.6 106.6 287.6 107.0 287.6 107.5 287.6 108.0 287.6 108.5 287.6 109.0 287.6 109.5 287.6 110.0 287.5 110.5 287.5 111.0 287.5 111.4 287.5 111.9 287.5 112.4 287.5 112.9 287.5 113.4 287.5 113.9 287.4 114.4 287.4 114.9 287.4 115.4 287.3 115.8 287.3 116.3 287.3 116.8 287.2 117.3 287.2 117.8 287.1 118.3 287.0 118.8 286.9 119.3 286.9 119.7 286.8 120.2 286.7 120.7 286.5 121.2 286.4 121.7 286.3 122.2 286.1 122.7 285.9 123.2 285.7 123.7 285.5 124.1 285.3 124.6 285.0 125.1 284.7 125.6 284.4 126.1 284.1 126.6 283.7 127.1 283.3 127.6 282.9 128.1 282.4 128.5 281.9 129.0 281.4 129.5 280.8 130.0 280.2 130.5 279.6 131.0 278.9 131.5 278.1 132.0 277.4 132.4 276.5 132.9 275.6 133.4 274.7 133.9 273.8 134.4 272.7 134.9 271.7 135.4 270.6 135.9 269.4 136.4 268.2 136.8 266.9 137.3 265.6 137.8 264.3 138.3 262.9 138.8 261.5 139.3 260.1 139.8 258.6 140.3 257.1 140.8 255.6 141.2 254.0 141.7 252.5 142.2 250.9 142.7 249.4 143.2 247.8 143.7 246.2 144.2 244.7 144.7 243.1 145.1 241.6 145.6 240.2 146.1 238.7 146.6 237.3 147.1 236.0 147.6 234.7 148.1 233.5 148.6 232.3 149.1 231.2 149.5 230.2 150.0 229.2 150.5 228.4 151.0 227.6 151.5 227.0 152.0 226.4 152.5 225.9 153.0 225.6 153.5 225.3 153.9 225.1 154.4 225.1 154.9 225.2 155.4 225.3 155.9 225.6 156.4 226.0 156.9 226.5 157.4 227.1 157.8 227.8 158.3 228.6 158.8 229.5 159.3 230.5 159.8 231.5 160.3 232.7 160.8 233.9 161.3 235.1 161.8 236.5 162.2 237.9 162.7 239.3 163.2 240.8 163.7 242.3 164.2 243.9 164.7 245.4 165.2 247.0 165.7 248.6 166.2 250.1 166.6 251.5 167.1 252.9 167.6 254.2 168.1 255.5 168.6 256.7 169.1 257.9 169.6 259.0 170.1 260.1 170.5 261.2 171.0 262.2 171.5 263.2 172.0 264.1 172.5 265.0 173.0 265.9 173.5 266.7 174.0 267.5 174.5 268.3 174.9 269.0 175.4 269.7 175.9 270.4 176.4 271.1 176.9 271.7 177.4 272.3 177.9 272.9 178.4 273.5 178.9 274.0 179.3 274.5 179.8 275.0 180.3 275.5 180.8 276.0 181.3 276.4 181.8 276.8 182.3 277.3 182.8 277.7 183.2 278.0 183.7 278.4 184.2 278.8 184.7 279.1 185.2 279.4 185.7 279.7 186.2 280.0 186.7 280.3 187.2 280.6 187.6 280.9 188.1 281.1 188.6 281.4 189.1 281.6 189.6 281.8 190.1 282.1 190.6 282.3 191.1 282.5 191.6 282.7 192.0 282.9 192.5 283.0 193.0 283.2 193.5 283.4 194.0 283.6 194.5 283.7 195.0 283.9 195.5 284.0 195.9 284.1 196.4 284.3 196.9 284.4 197.4 284.5 197.9 284.6 198.4 284.8 198.9 284.9 199.4 285.0 199.9 285.1 200.3 285.2 200.8 285.3 201.3 285.3 201.8 285.4 202.3 285.5 202.8 285.6 203.3 285.7 203.8 285.7 204.3 285.8 204.7 285.9 205.2 286.0 205.7 286.0 206.2 286.1 206.7 286.1 207.2 286.2 207.7 286.2 208.2 286.3 208.6 286.3 209.1 286.4 209.6 286.4 210.1 286.5 210.6 286.5 211.1 286.6 211.6 286.6 212.1 286.6 212.6 286.7 213.0 286.7 213.5 286.8 214.0 286.8 214.5 286.8 215.0 286.8 215.5 286.9 216.0 286.9 216.5 286.9 217.0 287.0 217.4 287.0 217.9 287.0 218.4 287.0 218.9 287.0 219.4 287.1 219.9 287.1 220.4 287.1 220.9 287.1 221.3 287.1 221.8 287.2 222.3 287.2 222.8 287.2 223.3 287.2 223.8 287.2 224.3 287.2 224.8 287.3 225.3 287.3 225.7 287.3 226.2 287.3 226.7 287.3 227.2 287.3 227.7 287.3 228.2 287.3 228.7 287.3 229.2 287.4 229.7 287.4 230.1 287.4 230.6 287.4 231.1 287.4 231.6 287.4 232.1 287.4 232.6 287.4 233.1 287.4 233.6 287.4 234.0 287.4 234.5 287.4 235.0 287.4 235.5 287.5 236.0 287.5" stroke="#0c0c24" stroke-width="2.40" fill="none" stroke-linejoin="round" stroke-linecap="round"/>
<path d="M75.3 286.4 75.8 286.4 76.3 286.4 76.8 286.4 77.3 286.4 77.7 286.4 78.2 286.4 78.7 286.4 79.2 286.4 79.7 286.4 80.2 286.4 80.7 286.4 81.2 286.4 81.6 286.4 82.1 286.4 82.6 286.4 83.1 286.4 83.6 286.4 84.1 286.4 84.6 286.4 85.1 286.4 85.6 286.4 86.0 286.4 86.5 286.4 87.0 286.4 87.5 286.4 88.0 286.4 88.5 286.4 89.0 286.4 89.5 286.4 90.0 286.4 90.4 286.4 90.9 286.4 91.4 286.4 91.9 286.4 92.4 286.4 92.9 286.4 93.4 286.4 93.9 286.4 94.3 286.4 94.8 286.4 95.3 286.4 95.8 286.4 96.3 286.4 96.8 286.4 97.3 286.4 97.8 286.4 98.3 286.4 98.7 286.4 99.2 286.4 99.7 286.4 100.2 286.4 100.7 286.4 101.2 286.4 101.7 286.4 102.2 286.4 102.7 286.4 103.1 286.4 103.6 286.4 104.1 286.4 104.6 286.4 105.1 286.4 105.6 286.4 106.1 286.4 106.6 286.4 107.0 286.4 107.5 286.4 108.0 286.4 108.5 286.4 109.0 286.4 109.5 286.4 110.0 286.4 110.5 286.4 111.0 286.4 111.4 286.4 111.9 286.4 112.4 286.4 112.9 286.4 113.4 286.4 113.9 286.4 114.4 286.4 114.9 286.4 115.4 286.4 115.8 286.3 116.3 286.3 116.8 286.3 117.3 286.3 117.8 286.3 118.3 286.3 118.8 286.3 119.3 286.3 119.7 286.2 120.2 286.2 120.7 286.2 121.2 286.2 121.7 286.1 122.2 286.1 122.7 286.1 123.2 286.0 123.7 286.0 124.1 285.9 124.6 285.9 125.1 285.8 125.6 285.7 126.1 285.7 126.6 285.6 127.1 285.5 127.6 285.4 128.1 285.3 128.5 285.2 129.0 285.1 129.5 285.0 130.0 284.8 130.5 284.7 131.0 284.5 131.5 284.3 132.0 284.2 132.4 284.0 132.9 283.8 133.4 283.6 133.9 283.3 134.4 283.1 134.9 282.8 135.4 282.6 135.9 282.3 136.4 282.0 136.8 281.7 137.3 281.4 137.8 281.1 138.3 280.8 138.8 280.4 139.3 280.1 139.8 279.7 140.3 279.4 140.8 279.0 141.2 278.6 141.7 278.2 142.2 277.8 142.7 277.5 143.2 277.1 143.7 276.7 144.2 276.3 144.7 275.9 145.1 275.5 145.6 275.2 146.1 274.8 146.6 274.5 147.1 274.1 147.6 273.8 148.1 273.5 148.6 273.2 149.1 272.9 149.5 272.7 150.0 272.4 150.5 272.2 151.0 272.0 151.5 271.9 152.0 271.7 152.5 271.6 153.0 271.5 153.5 271.5 153.9 271.4 154.4 271.4 154.9 271.4 155.4 271.5 155.9 271.5 156.4 271.6 156.9 271.7 157.4 271.9 157.8 272.1 158.3 272.3 158.8 272.5 159.3 272.7 159.8 273.0 160.3 273.3 160.8 273.6 161.3 273.9 161.8 274.2 162.2 274.5 162.7 274.9 163.2 275.2 163.7 275.6 164.2 276.0 164.7 276.3 165.2 276.7 165.7 277.1 166.2 277.5 166.6 277.8 167.1 278.2 167.6 278.6 168.1 278.9 168.6 279.3 169.1 279.7 169.6 280.0 170.1 280.3 170.5 280.7 171.0 281.0 171.5 281.3 172.0 281.6 172.5 281.9 173.0 282.2 173.5 282.4 174.0 282.7 174.5 282.9 174.9 283.1 175.4 283.4 175.9 283.6 176.4 283.8 176.9 283.9 177.4 284.1 177.9 284.3 178.4 284.4 178.9 284.6 179.3 284.7 179.8 284.8 180.3 285.0 180.8 285.1 181.3 285.2 181.8 285.3 182.3 285.3 182.8 285.4 183.2 285.5 183.7 285.6 184.2 285.6 184.7 285.7 185.2 285.7 185.7 285.8 186.2 285.8 186.7 285.9 187.2 285.9 187.6 285.9 188.1 286.0 188.6 286.0 189.1 286.0 189.6 286.0 190.1 286.1 190.6 286.1 191.1 286.1 191.6 286.1 192.0 286.1 192.5 286.1 193.0 286.2 193.5 286.2 194.0 286.2 194.5 286.2 195.0 286.2 195.5 286.2 195.9 286.2 196.4 286.2 196.9 286.2 197.4 286.2 197.9 286.2 198.4 286.2 198.9 286.2 199.4 286.2 199.9 286.2 200.3 286.3 200.8 286.3 201.3 286.3 201.8 286.3 202.3 286.3 202.8 286.3 203.3 286.3 203.8 286.3 204.3 286.3 204.7 286.3 205.2 286.3 205.7 286.3 206.2 286.3 206.7 286.3 207.2 286.3 207.7 286.3 208.2 286.3 208.6 286.3 209.1 286.3 209.6 286.3 210.1 286.3 210.6 286.3 211.1 286.3 211.6 286.3 212.1 286.3 212.6 286.3 213.0 286.3 213.5 286.3 214.0 286.3 214.5 286.3 215.0 286.3 215.5 286.3 216.0 286.3 216.5 286.3 217.0 286.3 217.4 286.3 217.9 286.3 218.4 286.3 218.9 286.3 219.4 286.3 219.9 286.3 220.4 286.3 220.9 286.3 221.3 286.3 221.8 286.3 222.3 286.3 222.8 286.3 223.3 286.3 223.8 286.3 224.3 286.3 224.8 286.3 225.3 286.3 225.7 286.3 226.2 286.3 226.7 286.3 227.2 286.3 227.7 286.3 228.2 286.3 228.7 286.3 229.2 286.3 229.7 286.3 230.1 286.3 230.6 286.3 231.1 286.3 231.6 286.3 232.1 286.3 232.6 286.3 233.1 286.3 233.6 286.3 234.0 286.3 234.5 286.3 235.0 286.3 235.5 286.4 236.0 286.4" stroke="#2e0a86" stroke-width="2.40" fill="none" stroke-linejoin="round" stroke-linecap="round"/>
<path d="M75.3 287.8 75.8 287.9 76.3 288.0 76.8 288.1 77.3 288.2 77.7 288.3 78.2 288.4 78.7 288.5 79.2 288.5 79.7 288.5 80.2 288.5 80.7 288.5 81.2 288.5 81.6 288.4 82.1 288.3 82.6 288.3 83.1 288.3 83.6 288.2 84.1 288.2 84.6 288.2 85.1 288.2 85.6 288.2 86.0 288.1 86.5 288.1 87.0 288.0 87.5 288.0 88.0 288.0 88.5 288.0 89.0 288.0 89.5 288.0 90.0 288.0 90.4 288.0 90.9 288.0 91.4 287.9 91.9 287.9 92.4 287.8 92.9 287.8 93.4 287.8 93.9 287.8 94.3 287.9 94.8 287.9 95.3 288.0 95.8 288.0 96.3 288.0 96.8 288.0 97.3 287.9 97.8 287.9 98.3 287.8 98.7 287.7 99.2 287.6 99.7 287.6 100.2 287.6 100.7 287.6 101.2 287.7 101.7 287.8 102.2 287.8 102.7 287.9 103.1 287.9 103.6 287.9 104.1 287.9 104.6 287.9 105.1 287.9 105.6 287.9 106.1 287.9 106.6 288.0 107.0 288.0 107.5 288.1 108.0 288.1 108.5 288.2 109.0 288.2 109.5 288.3 110.0 288.3 110.5 288.3 111.0 288.4 111.4 288.4 111.9 288.4 112.4 288.4 112.9 288.4 113.4 288.4 113.9 288.3 114.4 288.2 114.9 288.1 115.4 288.0 115.8 287.9 116.3 287.9 116.8 287.8 117.3 287.8 117.8 287.8 118.3 287.7 118.8 287.7 119.3 287.7 119.7 287.6 120.2 287.6 120.7 287.5 121.2 287.5 121.7 287.5 122.2 287.5 122.7 287.6 123.2 287.6 123.7 287.7 124.1 287.8 124.6 287.9 125.1 288.0 125.6 288.0 126.1 288.0 126.6 288.0 127.1 287.9 127.6 287.8 128.1 287.6 128.5 287.5 129.0 287.5 129.5 287.5 130.0 287.4 130.5 287.4 131.0 287.4 131.5 287.4 132.0 287.3 132.4 287.2 132.9 287.0 133.4 286.8 133.9 286.6 134.4 286.3 134.9 286.0 135.4 285.8 135.9 285.6 136.4 285.4 136.8 285.3 137.3 285.2 137.8 285.2 138.3 285.2 138.8 285.1 139.3 285.0 139.8 284.9 140.3 284.7 140.8 284.5 141.2 284.3 141.7 284.0 142.2 283.7 142.7 283.3 143.2 283.0 143.7 282.7 144.2 282.5 144.7 282.3 145.1 282.0 145.6 281.8 146.1 281.6 146.6 281.5 147.1 281.2 147.6 281.0 148.1 280.8 148.6 280.5 149.1 280.3 149.5 280.1 150.0 279.9 150.5 279.7 151.0 279.5 151.5 279.4 152.0 279.3 152.5 279.2 153.0 279.1 153.5 279.1 153.9 279.1 154.4 279.1 154.9 279.1 155.4 279.1 155.9 279.1 156.4 279.2 156.9 279.3 157.4 279.4 157.8 279.5 158.3 279.6 158.8 279.8 159.3 280.0 159.8 280.1 160.3 280.3 160.8 280.5 161.3 280.7 161.8 280.9 162.2 281.1 162.7 281.4 163.2 281.6 163.7 281.9 164.2 282.2 164.7 282.5 165.2 282.8 165.7 283.1 166.2 283.3 166.6 283.6 167.1 283.8 167.6 283.9 168.1 284.1 168.6 284.3 169.1 284.5 169.6 284.7 170.1 284.9 170.5 285.1 171.0 285.3 171.5 285.5 172.0 285.6 172.5 285.7 173.0 285.8 173.5 285.9 174.0 285.9 174.5 286.0 174.9 286.0 175.4 286.1 175.9 286.2 176.4 286.4 176.9 286.5 177.4 286.7 177.9 286.8 178.4 287.0 178.9 287.1 179.3 287.2 179.8 287.2 180.3 287.2 180.8 287.2 181.3 287.3 181.8 287.3 182.3 287.4 182.8 287.5 183.2 287.7 183.7 287.8 184.2 288.0 184.7 288.1 185.2 288.2 185.7 288.2 186.2 288.2 186.7 288.1 187.2 288.0 187.6 287.9 188.1 287.7 188.6 287.6 189.1 287.6 189.6 287.6 190.1 287.6 190.6 287.6 191.1 287.6 191.6 287.7 192.0 287.7 192.5 287.8 193.0 287.8 193.5 287.9 194.0 287.9 194.5 287.9 195.0 288.0 195.5 288.0 195.9 288.0 196.4 288.0 196.9 288.0 197.4 288.0 197.9 288.0 198.4 288.0 198.9 288.0 199.4 288.1 199.9 288.1 200.3 288.1 200.8 288.1 201.3 288.1 201.8 288.1 202.3 288.1 202.8 288.1 203.3 288.0 203.8 288.0 204.3 288.0 204.7 288.0 205.2 288.0 205.7 287.9 206.2 287.8 206.7 287.8 207.2 287.7 207.7 287.6 208.2 287.6 208.6 287.5 209.1 287.5 209.6 287.5 210.1 287.5 210.6 287.5 211.1 287.5 211.6 287.6 212.1 287.6 212.6 287.7 213.0 287.7 213.5 287.8 214.0 287.8 214.5 287.9 215.0 288.0 215.5 288.1 216.0 288.2 216.5 288.2 217.0 288.3 217.4 288.3 217.9 288.4 218.4 288.4 218.9 288.4 219.4 288.4 219.9 288.4 220.4 288.4 220.9 288.3 221.3 288.3 221.8 288.3 222.3 288.3 222.8 288.3 223.3 288.3 223.8 288.2 224.3 288.2 224.8 288.1 225.3 288.0 225.7 288.0 226.2 287.9 226.7 287.9 227.2 287.9 227.7 287.9 228.2 287.9 228.7 288.0 229.2 288.1 229.7 288.3 230.1 288.4 230.6 288.5 231.1 288.5 231.6 288.6 232.1 288.6 232.6 288.6 233.1 288.5 233.6 288.5 234.0 288.4 234.5 288.4 235.0 288.4 235.5 288.3 236.0 288.3" stroke="#0a88f0" stroke-width="2.40" fill="none" stroke-linejoin="round" stroke-linecap="round"/>
<path d="M75.3 280.7 75.8 280.9 76.3 281.0 76.8 281.0 77.3 281.0 77.7 280.8 78.2 280.6 78.7 280.3 79.2 280.1 79.7 279.8 80.2 279.7 80.7 279.6 81.2 279.6 81.6 279.7 82.1 279.8 82.6 280.0 83.1 280.1 83.6 280.3 84.1 280.4 84.6 280.5 85.1 280.6 85.6 280.7 86.0 280.7 86.5 280.7 87.0 280.6 87.5 280.6 88.0 280.5 88.5 280.5 89.0 280.5 89.5 280.5 90.0 280.6 90.4 280.8 90.9 281.0 91.4 281.3 91.9 281.6 92.4 282.0 92.9 282.2 93.4 282.5 93.9 282.6 94.3 282.6 94.8 282.5 95.3 282.3 95.8 282.0 96.3 281.7 96.8 281.3 97.3 280.9 97.8 280.6 98.3 280.3 98.7 280.2 99.2 280.0 99.7 280.0 100.2 280.0 100.7 280.0 101.2 280.0 101.7 280.1 102.2 280.2 102.7 280.4 103.1 280.6 103.6 280.8 104.1 281.0 104.6 281.3 105.1 281.5 105.6 281.7 106.1 281.8 106.6 281.8 107.0 281.8 107.5 281.8 108.0 281.6 108.5 281.5 109.0 281.3 109.5 281.1 110.0 281.0 110.5 280.8 111.0 280.7 111.4 280.6 111.9 280.6 112.4 280.6 112.9 280.6 113.4 280.7 113.9 280.8 114.4 281.0 114.9 281.1 115.4 281.3 115.8 281.5 116.3 281.6 116.8 281.6 117.3 281.7 117.8 281.6 118.3 281.6 118.8 281.5 119.3 281.5 119.7 281.5 120.2 281.5 120.7 281.6 121.2 281.6 121.7 281.8 122.2 281.9 122.7 282.1 123.2 282.3 123.7 282.4 124.1 282.5 124.6 282.5 125.1 282.5 125.6 282.3 126.1 282.1 126.6 281.8 127.1 281.5 127.6 281.2 128.1 280.9 128.5 280.7 129.0 280.5 129.5 280.4 130.0 280.3 130.5 280.4 131.0 280.4 131.5 280.5 132.0 280.6 132.4 280.7 132.9 280.7 133.4 280.8 133.9 280.8 134.4 280.8 134.9 280.9 135.4 281.0 135.9 281.1 136.4 281.3 136.8 281.5 137.3 281.7 137.8 281.9 138.3 282.1 138.8 282.3 139.3 282.4 139.8 282.4 140.3 282.5 140.8 282.5 141.2 282.5 141.7 282.5 142.2 282.5 142.7 282.5 143.2 282.4 143.7 282.4 144.2 282.3 144.7 282.3 145.1 282.3 145.6 282.2 146.1 282.2 146.6 282.1 147.1 282.0 147.6 281.9 148.1 281.8 148.6 281.7 149.1 281.6 149.5 281.5 150.0 281.5 150.5 281.5 151.0 281.6 151.5 281.8 152.0 281.9 152.5 282.1 153.0 282.3 153.5 282.4 153.9 282.5 154.4 282.5 154.9 282.5 155.4 282.4 155.9 282.3 156.4 282.1 156.9 282.0 157.4 281.8 157.8 281.7 158.3 281.6 158.8 281.6 159.3 281.6 159.8 281.7 160.3 281.8 160.8 281.9 161.3 282.0 161.8 282.1 162.2 282.1 162.7 282.1 163.2 282.1 163.7 282.0 164.2 281.9 164.7 281.8 165.2 281.7 165.7 281.7 166.2 281.7 166.6 281.8 167.1 281.9 167.6 282.0 168.1 282.2 168.6 282.2 169.1 282.3 169.6 282.4 170.1 282.5 170.5 282.5 171.0 282.5 171.5 282.6 172.0 282.6 172.5 282.6 173.0 282.6 173.5 282.6 174.0 282.5 174.5 282.4 174.9 282.4 175.4 282.3 175.9 282.3 176.4 282.3 176.9 282.4 177.4 282.5 177.9 282.6 178.4 282.8 178.9 283.0 179.3 283.1 179.8 283.3 180.3 283.4 180.8 283.4 181.3 283.3 181.8 283.3 182.3 283.2 182.8 283.1 183.2 283.0 183.7 282.9 184.2 282.9 184.7 282.8 185.2 282.9 185.7 282.9 186.2 283.1 186.7 283.2 187.2 283.3 187.6 283.3 188.1 283.3 188.6 283.3 189.1 283.2 189.6 283.2 190.1 283.1 190.6 283.0 191.1 282.9 191.6 282.7 192.0 282.6 192.5 282.5 193.0 282.4 193.5 282.4 194.0 282.4 194.5 282.4 195.0 282.4 195.5 282.4 195.9 282.5 196.4 282.6 196.9 282.7 197.4 282.8 197.9 282.9 198.4 283.0 198.9 283.1 199.4 283.2 199.9 283.3 200.3 283.4 200.8 283.4 201.3 283.4 201.8 283.4 202.3 283.4 202.8 283.4 203.3 283.4 203.8 283.5 204.3 283.5 204.7 283.6 205.2 283.6 205.7 283.6 206.2 283.5 206.7 283.4 207.2 283.3 207.7 283.1 208.2 283.0 208.6 282.9 209.1 282.9 209.6 283.0 210.1 283.1 210.6 283.2 211.1 283.3 211.6 283.4 212.1 283.5 212.6 283.5 213.0 283.5 213.5 283.4 214.0 283.3 214.5 283.2 215.0 283.0 215.5 282.9 216.0 282.7 216.5 282.6 217.0 282.5 217.4 282.3 217.9 282.2 218.4 282.2 218.9 282.3 219.4 282.4 219.9 282.5 220.4 282.7 220.9 283.0 221.3 283.2 221.8 283.3 222.3 283.5 222.8 283.6 223.3 283.7 223.8 283.8 224.3 283.8 224.8 283.8 225.3 283.8 225.7 283.9 226.2 283.9 226.7 284.0 227.2 284.1 227.7 284.1 228.2 284.2 228.7 284.3 229.2 284.4 229.7 284.6 230.1 284.7 230.6 284.8 231.1 284.9 231.6 285.0 232.1 285.0 232.6 285.0 233.1 284.9 233.6 284.7 234.0 284.6 234.5 284.5 235.0 284.3 235.5 284.2 236.0 284.2" stroke="#333333" stroke-width="2.40" fill="none" stroke-linejoin="round" stroke-linecap="round"/>
<path d="M75.3 283.5 75.8 283.8 76.3 284.0 76.8 284.1 77.3 284.1 77.7 284.0 78.2 283.8 78.7 283.6 79.2 283.5 79.7 283.3 80.2 283.2 80.7 283.2 81.2 283.1 81.6 283.1 82.1 283.1 82.6 283.1 83.1 283.2 83.6 283.3 84.1 283.4 84.6 283.6 85.1 283.7 85.6 283.8 86.0 283.9 86.5 284.0 87.0 284.0 87.5 284.1 88.0 284.1 88.5 284.1 89.0 284.0 89.5 283.9 90.0 283.8 90.4 283.6 90.9 283.4 91.4 283.4 91.9 283.5 92.4 283.7 92.9 283.9 93.4 284.1 93.9 284.2 94.3 284.2 94.8 284.0 95.3 283.8 95.8 283.5 96.3 283.1 96.8 282.8 97.3 282.6 97.8 282.5 98.3 282.6 98.7 282.7 99.2 283.0 99.7 283.3 100.2 283.6 100.7 283.9 101.2 284.1 101.7 284.2 102.2 284.3 102.7 284.4 103.1 284.5 103.6 284.5 104.1 284.3 104.6 283.9 105.1 283.4 105.6 282.9 106.1 282.4 106.6 282.0 107.0 281.8 107.5 281.8 108.0 282.0 108.5 282.3 109.0 282.6 109.5 282.8 110.0 283.0 110.5 283.0 111.0 283.1 111.4 283.2 111.9 283.3 112.4 283.5 112.9 283.8 113.4 284.0 113.9 284.3 114.4 284.5 114.9 284.6 115.4 284.6 115.8 284.4 116.3 284.1 116.8 283.7 117.3 283.4 117.8 283.0 118.3 282.8 118.8 282.7 119.3 282.6 119.7 282.6 120.2 282.7 120.7 282.9 121.2 283.0 121.7 283.2 122.2 283.3 122.7 283.5 123.2 283.5 123.7 283.5 124.1 283.4 124.6 283.3 125.1 283.2 125.6 283.2 126.1 283.3 126.6 283.6 127.1 283.9 127.6 284.2 128.1 284.4 128.5 284.7 129.0 284.8 129.5 284.8 130.0 284.7 130.5 284.6 131.0 284.5 131.5 284.4 132.0 284.3 132.4 284.2 132.9 284.2 133.4 284.2 133.9 284.2 134.4 284.2 134.9 284.3 135.4 284.3 135.9 284.3 136.4 284.3 136.8 284.3 137.3 284.2 137.8 284.0 138.3 283.8 138.8 283.7 139.3 283.5 139.8 283.3 140.3 283.1 140.8 283.1 141.2 283.1 141.7 283.2 142.2 283.3 142.7 283.4 143.2 283.4 143.7 283.4 144.2 283.3 144.7 283.1 145.1 283.0 145.6 282.8 146.1 282.7 146.6 282.6 147.1 282.5 147.6 282.5 148.1 282.5 148.6 282.6 149.1 282.6 149.5 282.6 150.0 282.4 150.5 282.2 151.0 281.9 151.5 281.6 152.0 281.2 152.5 280.9 153.0 280.7 153.5 280.7 153.9 280.7 154.4 280.9 154.9 281.1 155.4 281.4 155.9 281.7 156.4 282.0 156.9 282.2 157.4 282.4 157.8 282.5 158.3 282.6 158.8 282.7 159.3 282.7 159.8 282.7 160.3 282.6 160.8 282.6 161.3 282.6 161.8 282.7 162.2 282.6 162.7 282.5 163.2 282.4 163.7 282.5 164.2 282.6 164.7 282.8 165.2 282.9 165.7 283.1 166.2 283.2 166.6 283.2 167.1 283.2 167.6 282.9 168.1 282.6 168.6 282.3 169.1 282.1 169.6 282.0 170.1 282.1 170.5 282.4 171.0 282.7 171.5 283.0 172.0 283.2 172.5 283.4 173.0 283.4 173.5 283.5 174.0 283.4 174.5 283.4 174.9 283.4 175.4 283.4 175.9 283.3 176.4 283.2 176.9 283.2 177.4 283.2 177.9 283.3 178.4 283.6 178.9 284.0 179.3 284.4 179.8 284.7 180.3 284.9 180.8 285.1 181.3 285.0 181.8 284.9 182.3 284.8 182.8 284.7 183.2 284.6 183.7 284.7 184.2 284.7 184.7 284.8 185.2 284.7 185.7 284.6 186.2 284.5 186.7 284.2 187.2 283.9 187.6 283.7 188.1 283.4 188.6 283.3 189.1 283.3 189.6 283.5 190.1 283.8 190.6 284.1 191.1 284.5 191.6 284.9 192.0 285.3 192.5 285.7 193.0 286.0 193.5 286.1 194.0 286.2 194.5 286.1 195.0 286.0 195.5 285.7 195.9 285.5 196.4 285.1 196.9 284.7 197.4 284.3 197.9 283.9 198.4 283.5 198.9 283.3 199.4 283.1 199.9 282.9 200.3 282.9 200.8 283.0 201.3 283.3 201.8 283.5 202.3 283.9 202.8 284.2 203.3 284.5 203.8 284.7 204.3 284.9 204.7 285.1 205.2 285.0 205.7 284.9 206.2 284.7 206.7 284.5 207.2 284.5 207.7 284.5 208.2 284.7 208.6 284.9 209.1 285.1 209.6 285.2 210.1 285.3 210.6 285.2 211.1 285.1 211.6 284.9 212.1 284.7 212.6 284.6 213.0 284.5 213.5 284.4 214.0 284.4 214.5 284.5 215.0 284.5 215.5 284.7 216.0 284.9 216.5 285.1 217.0 285.2 217.4 285.3 217.9 285.2 218.4 285.2 218.9 285.2 219.4 285.3 219.9 285.4 220.4 285.5 220.9 285.7 221.3 285.8 221.8 285.9 222.3 285.8 222.8 285.6 223.3 285.3 223.8 284.8 224.3 284.4 224.8 284.0 225.3 283.6 225.7 283.4 226.2 283.3 226.7 283.4 227.2 283.5 227.7 283.7 228.2 283.9 228.7 284.0 229.2 284.1 229.7 284.2 230.1 284.3 230.6 284.4 231.1 284.6 231.6 284.8 232.1 285.0 232.6 285.2 233.1 285.4 233.6 285.5 234.0 285.4 234.5 285.3 235.0 285.2 235.5 284.9 236.0 284.6" stroke="#0a8a0a" stroke-width="2.40" fill="none" stroke-linejoin="round" stroke-linecap="round"/>
<path d="M75.3 277.8 75.8 278.1 76.3 278.7 76.8 279.3 77.3 279.7 77.7 280.1 78.2 280.3 78.7 280.5 79.2 280.8 79.7 281.2 80.2 281.5 80.7 281.7 81.2 281.8 81.6 281.8 82.1 281.5 82.6 281.2 83.1 281.1 83.6 281.1 84.1 280.9 84.6 280.8 85.1 281.0 85.6 281.3 86.0 281.6 86.5 281.3 87.0 280.5 87.5 279.9 88.0 280.0 88.5 280.7 89.0 281.4 89.5 281.5 90.0 281.1 90.4 280.5 90.9 280.2 91.4 280.3 91.9 280.4 92.4 280.3 92.9 280.3 93.4 280.2 93.9 279.9 94.3 279.4 94.8 279.3 95.3 279.6 95.8 279.9 96.3 279.5 96.8 278.8 97.3 278.7 97.8 279.5 98.3 280.1 98.7 280.3 99.2 280.1 99.7 279.7 100.2 279.3 100.7 279.4 101.2 280.1 101.7 280.6 102.2 280.7 102.7 280.7 103.1 280.8 103.6 281.0 104.1 281.5 104.6 282.0 105.1 282.3 105.6 282.2 106.1 282.2 106.6 282.2 107.0 282.3 107.5 282.3 108.0 282.3 108.5 282.5 109.0 282.5 109.5 282.4 110.0 282.1 110.5 282.0 111.0 282.4 111.4 282.8 111.9 282.8 112.4 282.4 112.9 281.9 113.4 281.7 113.9 281.7 114.4 282.0 114.9 282.4 115.4 282.6 115.8 282.6 116.3 282.6 116.8 282.4 117.3 282.2 117.8 281.9 118.3 281.7 118.8 281.7 119.3 281.6 119.7 281.4 120.2 281.3 120.7 281.3 121.2 281.4 121.7 281.3 122.2 281.3 122.7 281.2 123.2 281.0 123.7 280.8 124.1 280.8 124.6 281.2 125.1 281.6 125.6 281.6 126.1 281.3 126.6 281.3 127.1 281.7 127.6 281.8 128.1 281.6 128.5 281.5 129.0 281.4 129.5 281.1 130.0 280.8 130.5 280.7 131.0 280.8 131.5 280.8 132.0 280.4 132.4 279.9 132.9 279.5 133.4 279.8 133.9 280.6 134.4 281.3 134.9 281.7 135.4 282.0 135.9 281.9 136.4 281.7 136.8 281.6 137.3 281.6 137.8 281.8 138.3 282.1 138.8 282.1 139.3 282.0 139.8 282.0 140.3 282.2 140.8 282.3 141.2 282.3 141.7 282.3 142.2 282.2 142.7 281.9 143.2 281.5 143.7 281.5 144.2 282.1 144.7 282.8 145.1 283.1 145.6 282.8 146.1 282.4 146.6 282.0 147.1 281.8 147.6 281.8 148.1 281.7 148.6 281.6 149.1 281.8 149.5 282.0 150.0 281.9 150.5 281.7 151.0 281.6 151.5 281.8 152.0 282.1 152.5 282.3 153.0 282.1 153.5 281.9 153.9 281.7 154.4 281.5 154.9 281.3 155.4 281.2 155.9 281.2 156.4 281.2 156.9 281.2 157.4 281.4 157.8 281.7 158.3 282.1 158.8 282.6 159.3 282.9 159.8 282.8 160.3 282.5 160.8 282.5 161.3 282.5 161.8 282.1 162.2 281.7 162.7 281.7 163.2 281.9 163.7 281.8 164.2 281.8 164.7 281.9 165.2 282.0 165.7 282.0 166.2 282.0 166.6 282.1 167.1 282.3 167.6 282.5 168.1 282.5 168.6 282.1 169.1 281.8 169.6 282.0 170.1 282.4 170.5 282.3 171.0 281.9 171.5 281.4 172.0 281.1 172.5 280.6 173.0 280.2 173.5 280.2 174.0 280.5 174.5 280.9 174.9 280.9 175.4 280.7 175.9 280.6 176.4 280.4 176.9 279.9 177.4 279.5 177.9 279.7 178.4 280.2 178.9 280.5 179.3 280.3 179.8 280.0 180.3 279.8 180.8 279.9 181.3 280.0 181.8 279.8 182.3 279.5 182.8 279.4 183.2 279.6 183.7 279.8 184.2 279.9 184.7 280.1 185.2 280.1 185.7 280.0 186.2 279.9 186.7 279.8 187.2 279.8 187.6 279.9 188.1 280.0 188.6 280.1 189.1 280.0 189.6 280.0 190.1 280.1 190.6 280.6 191.1 281.1 191.6 281.3 192.0 281.1 192.5 280.9 193.0 280.9 193.5 281.2 194.0 281.4 194.5 281.1 195.0 280.5 195.5 280.0 195.9 280.0 196.4 280.2 196.9 280.5 197.4 280.8 197.9 281.0 198.4 280.8 198.9 280.7 199.4 280.6 199.9 280.4 200.3 280.4 200.8 280.3 201.3 280.3 201.8 280.3 202.3 280.3 202.8 280.4 203.3 280.5 203.8 280.9 204.3 281.2 204.7 281.0 205.2 280.7 205.7 280.9 206.2 281.3 206.7 281.5 207.2 281.3 207.7 280.9 208.2 280.7 208.6 280.9 209.1 281.2 209.6 281.3 210.1 281.1 210.6 280.7 211.1 280.5 211.6 280.8 212.1 281.4 212.6 281.6 213.0 281.3 213.5 281.1 214.0 281.2 214.5 281.7 215.0 282.0 215.5 282.0 216.0 281.9 216.5 281.7 217.0 281.5 217.4 281.1 217.9 280.8 218.4 280.9 218.9 281.2 219.4 281.2 219.9 281.0 220.4 281.0 220.9 281.1 221.3 281.1 221.8 280.8 222.3 280.4 222.8 280.2 223.3 280.4 223.8 280.9 224.3 281.4 224.8 281.6 225.3 281.6 225.7 281.5 226.2 281.4 226.7 281.1 227.2 280.5 227.7 280.0 228.2 279.6 228.7 279.6 229.2 279.9 229.7 280.2 230.1 280.1 230.6 279.5 231.1 279.2 231.6 279.3 232.1 279.4 232.6 279.2 233.1 279.2 233.6 279.3 234.0 279.1 234.5 278.9 235.0 279.0 235.5 279.3 236.0 279.4" stroke="#f43c08" stroke-width="2.40" fill="none" stroke-linejoin="round" stroke-linecap="round"/>
<path d="M75.3 287.1 75.8 287.4 76.3 287.8 76.8 288.0 77.3 288.1 77.7 288.1 78.2 287.9 78.7 287.8 79.2 287.7 79.7 287.7 80.2 287.8 80.7 287.8 81.2 287.7 81.6 287.5 82.1 287.3 82.6 287.2 83.1 287.3 83.6 287.4 84.1 287.4 84.6 287.4 85.1 287.2 85.6 287.0 86.0 286.8 86.5 286.8 87.0 287.0 87.5 287.2 88.0 287.5 88.5 287.8 89.0 287.9 89.5 287.9 90.0 288.0 90.4 288.0 90.9 287.9 91.4 287.9 91.9 287.8 92.4 287.7 92.9 287.6 93.4 287.6 93.9 287.7 94.3 287.7 94.8 287.8 95.3 287.9 95.8 288.0 96.3 288.1 96.8 288.2 97.3 288.4 97.8 288.4 98.3 288.4 98.7 288.1 99.2 287.9 99.7 287.7 100.2 287.6 100.7 287.6 101.2 287.6 101.7 287.5 102.2 287.3 102.7 287.0 103.1 286.8 103.6 286.6 104.1 286.4 104.6 286.4 105.1 286.4 105.6 286.3 106.1 286.3 106.6 286.3 107.0 286.4 107.5 286.5 108.0 286.6 108.5 286.8 109.0 287.0 109.5 287.3 110.0 287.5 110.5 287.6 111.0 287.5 111.4 287.3 111.9 287.0 112.4 286.6 112.9 286.4 113.4 286.3 113.9 286.2 114.4 286.1 114.9 286.0 115.4 285.9 115.8 285.9 116.3 285.9 116.8 285.9 117.3 285.9 117.8 285.7 118.3 285.5 118.8 285.4 119.3 285.2 119.7 285.1 120.2 285.0 120.7 285.0 121.2 284.9 121.7 284.9 122.2 284.8 122.7 284.7 123.2 284.5 123.7 284.3 124.1 284.2 124.6 284.1 125.1 284.1 125.6 284.0 126.1 284.1 126.6 284.2 127.1 284.3 127.6 284.4 128.1 284.5 128.5 284.6 129.0 284.8 129.5 284.9 130.0 285.1 130.5 285.3 131.0 285.5 131.5 285.7 132.0 285.9 132.4 286.0 132.9 286.1 133.4 286.1 133.9 286.1 134.4 286.1 134.9 286.0 135.4 286.0 135.9 285.8 136.4 285.8 136.8 285.9 137.3 286.1 137.8 286.4 138.3 286.7 138.8 286.9 139.3 286.9 139.8 286.8 140.3 286.7 140.8 286.5 141.2 286.3 141.7 286.2 142.2 286.1 142.7 286.2 143.2 286.2 143.7 286.3 144.2 286.4 144.7 286.5 145.1 286.5 145.6 286.4 146.1 286.4 146.6 286.3 147.1 286.3 147.6 286.2 148.1 286.1 148.6 286.0 149.1 285.9 149.5 285.9 150.0 286.0 150.5 286.2 151.0 286.3 151.5 286.5 152.0 286.6 152.5 286.5 153.0 286.3 153.5 286.1 153.9 285.8 154.4 285.6 154.9 285.5 155.4 285.5 155.9 285.5 156.4 285.7 156.9 285.8 157.4 285.9 157.8 286.0 158.3 285.9 158.8 285.8 159.3 285.5 159.8 285.3 160.3 285.1 160.8 285.1 161.3 285.3 161.8 285.6 162.2 285.9 162.7 286.1 163.2 286.1 163.7 285.9 164.2 285.7 164.7 285.5 165.2 285.3 165.7 285.2 166.2 285.2 166.6 285.2 167.1 285.3 167.6 285.3 168.1 285.2 168.6 285.1 169.1 284.9 169.6 284.8 170.1 284.9 170.5 285.1 171.0 285.4 171.5 285.6 172.0 285.6 172.5 285.4 173.0 285.2 173.5 285.2 174.0 285.3 174.5 285.5 174.9 285.8 175.4 286.0 175.9 285.9 176.4 285.6 176.9 285.3 177.4 285.0 177.9 284.9 178.4 284.9 178.9 285.0 179.3 285.1 179.8 285.3 180.3 285.3 180.8 285.1 181.3 284.9 181.8 284.7 182.3 284.5 182.8 284.5 183.2 284.6 183.7 284.8 184.2 284.9 184.7 285.0 185.2 284.9 185.7 284.7 186.2 284.7 186.7 284.7 187.2 284.8 187.6 284.9 188.1 284.9 188.6 285.0 189.1 284.9 189.6 284.7 190.1 284.4 190.6 284.3 191.1 284.2 191.6 284.2 192.0 284.2 192.5 284.5 193.0 284.8 193.5 285.0 194.0 285.1 194.5 285.1 195.0 285.1 195.5 285.1 195.9 284.9 196.4 284.7 196.9 284.6 197.4 284.4 197.9 284.4 198.4 284.3 198.9 284.4 199.4 284.6 199.9 284.7 200.3 284.8 200.8 284.8 201.3 284.9 201.8 284.8 202.3 284.8 202.8 284.7 203.3 284.6 203.8 284.5 204.3 284.4 204.7 284.3 205.2 284.2 205.7 284.2 206.2 284.3 206.7 284.4 207.2 284.4 207.7 284.3 208.2 284.0 208.6 283.6 209.1 283.4 209.6 283.2 210.1 283.3 210.6 283.4 211.1 283.7 211.6 284.0 212.1 284.1 212.6 284.2 213.0 284.1 213.5 284.0 214.0 283.8 214.5 283.8 215.0 283.9 215.5 284.0 216.0 284.0 216.5 284.0 217.0 284.0 217.4 284.0 217.9 284.1 218.4 284.2 218.9 284.2 219.4 284.2 219.9 284.2 220.4 284.2 220.9 284.3 221.3 284.2 221.8 284.1 222.3 283.9 222.8 283.8 223.3 283.7 223.8 283.8 224.3 284.0 224.8 284.2 225.3 284.3 225.7 284.3 226.2 284.2 226.7 284.1 227.2 284.0 227.7 283.9 228.2 283.9 228.7 284.0 229.2 284.1 229.7 284.2 230.1 284.3 230.6 284.3 231.1 284.2 231.6 283.9 232.1 283.6 232.6 283.4 233.1 283.4 233.6 283.6 234.0 283.9 234.5 284.0 235.0 284.0 235.5 283.9 236.0 283.6" stroke="#740000" stroke-width="2.40" fill="none" stroke-linejoin="round" stroke-linecap="round"/>
<path d="M75.00 353.00 L75.00 459.65" stroke="#333" stroke-width="2.00" fill="none"/>
<path d="M74.00 459.00 L236.60 459.00" stroke="#111" stroke-width="1.30" fill="none"/>
<path d="M75.00 405.90 L79.20 405.90" stroke="#333" stroke-width="1.40" fill="none"/>
<path d="M75.00 353.00 L79.20 353.00" stroke="#333" stroke-width="1.40" fill="none"/>
<path d="M128.70 459.00 L128.70 455.80" stroke="#111" stroke-width="1.20" fill="none"/>
<path d="M182.30 459.00 L182.30 455.80" stroke="#111" stroke-width="1.20" fill="none"/>
<path d="M236.00 459.00 L236.00 455.80" stroke="#111" stroke-width="1.20" fill="none"/>
<text x="66.80" y="463.10" font-size="10.70" text-anchor="end" font-family="Liberation Sans" font-weight="normal">0</text>
<text x="66.80" y="409.70" font-size="10.70" text-anchor="end" font-family="Liberation Sans" font-weight="normal">0.0003</text>
<text x="66.80" y="356.80" font-size="10.70" text-anchor="end" font-family="Liberation Sans" font-weight="normal">0.0006</text>
<text x="75.00" y="476.70" font-size="10.70" text-anchor="middle" font-family="Liberation Sans" font-weight="normal">1200</text>
<text x="128.70" y="476.70" font-size="10.70" text-anchor="middle" font-family="Liberation Sans" font-weight="normal">1250</text>
<text x="182.30" y="476.70" font-size="10.70" text-anchor="middle" font-family="Liberation Sans" font-weight="normal">1300</text>
<text x="236.00" y="476.70" font-size="10.70" text-anchor="middle" font-family="Liberation Sans" font-weight="normal">1350</text>
<text x="155.40" y="491.90" font-size="10.70" text-anchor="middle" font-family="Liberation Sans" font-weight="normal">Wavelength, nm</text>
<text transform="translate(15.20,407.20) rotate(-90)" font-size="10.70" text-anchor="middle" font-family="Liberation Sans">Luminescence</text>
<text transform="translate(27.60,407.20) rotate(-90)" font-size="10.70" text-anchor="middle" font-family="Liberation Sans">intensity (a.u.)</text>
<path d="M75.3 409.0 75.8 408.5 76.3 408.1 76.8 407.6 77.3 407.4 77.7 407.3 78.2 407.5 78.7 407.9 79.2 408.2 79.7 408.3 80.2 408.0 80.7 407.9 81.2 407.8 81.6 407.9 82.1 408.2 82.6 408.5 83.1 408.9 83.6 409.1 84.1 409.4 84.6 409.7 85.1 410.1 85.6 410.8 86.0 411.5 86.5 412.4 87.0 413.2 87.5 413.8 88.0 414.1 88.5 414.2 89.0 413.9 89.5 413.4 90.0 412.8 90.4 412.6 90.9 412.9 91.4 413.5 91.9 414.1 92.4 414.5 92.9 414.6 93.4 414.5 93.9 414.3 94.3 414.4 94.8 414.9 95.3 415.4 95.8 415.8 96.3 416.1 96.8 416.4 97.3 416.6 97.8 416.7 98.3 416.8 98.7 417.0 99.2 417.2 99.7 417.4 100.2 417.8 100.7 418.2 101.2 418.7 101.7 419.0 102.2 419.2 102.7 419.4 103.1 419.5 103.6 419.3 104.1 418.9 104.6 418.7 105.1 418.6 105.6 419.0 106.1 419.7 106.6 420.7 107.0 421.6 107.5 422.2 108.0 422.6 108.5 422.7 109.0 422.6 109.5 422.5 110.0 422.4 110.5 422.5 111.0 422.7 111.4 423.0 111.9 423.2 112.4 423.5 112.9 423.9 113.4 424.4 113.9 425.0 114.4 425.7 114.9 426.3 115.4 426.7 115.8 427.0 116.3 427.1 116.8 427.3 117.3 427.3 117.8 427.3 118.3 427.1 118.8 426.9 119.3 426.7 119.7 426.7 120.2 426.9 120.7 427.2 121.2 427.3 121.7 427.4 122.2 427.4 122.7 427.5 123.2 427.8 123.7 428.2 124.1 428.8 124.6 429.6 125.1 430.4 125.6 430.9 126.1 431.2 126.6 431.4 127.1 431.6 127.6 432.0 128.1 432.5 128.5 433.2 129.0 433.7 129.5 433.9 130.0 433.6 130.5 432.8 131.0 432.0 131.5 431.4 132.0 431.2 132.4 431.4 132.9 431.9 133.4 432.6 133.9 433.1 134.4 433.3 134.9 433.2 135.4 432.7 135.9 432.2 136.4 431.7 136.8 431.5 137.3 431.8 137.8 432.4 138.3 433.0 138.8 433.4 139.3 433.5 139.8 433.3 140.3 433.0 140.8 432.7 141.2 432.3 141.7 431.8 142.2 431.5 142.7 431.6 143.2 431.9 143.7 432.2 144.2 432.3 144.7 432.1 145.1 431.7 145.6 431.2 146.1 431.0 146.6 431.2 147.1 431.7 147.6 432.4 148.1 432.9 148.6 433.1 149.1 433.1 149.5 433.1 150.0 432.9 150.5 432.8 151.0 432.7 151.5 432.7 152.0 432.9 152.5 433.6 153.0 434.5 153.5 435.3 153.9 435.8 154.4 435.7 154.9 435.2 155.4 434.6 155.9 434.3 156.4 434.6 156.9 435.2 157.4 435.7 157.8 435.9 158.3 436.1 158.8 436.3 159.3 436.6 159.8 437.1 160.3 437.5 160.8 437.8 161.3 437.9 161.8 437.9 162.2 438.0 162.7 438.1 163.2 438.4 163.7 438.8 164.2 438.9 164.7 438.9 165.2 438.8 165.7 438.8 166.2 439.1 166.6 439.5 167.1 439.9 167.6 440.2 168.1 440.4 168.6 440.4 169.1 440.3 169.6 440.3 170.1 440.4 170.5 440.6 171.0 440.6 171.5 440.4 172.0 440.3 172.5 440.3 173.0 440.5 173.5 440.9 174.0 441.4 174.5 441.8 174.9 441.9 175.4 442.0 175.9 442.0 176.4 442.0 176.9 441.9 177.4 441.8 177.9 441.8 178.4 441.9 178.9 442.1 179.3 442.3 179.8 442.7 180.3 442.9 180.8 442.9 181.3 442.9 181.8 442.8 182.3 442.8 182.8 443.0 183.2 443.3 183.7 443.5 184.2 443.6 184.7 443.7 185.2 443.7 185.7 443.6 186.2 443.5 186.7 443.4 187.2 443.6 187.6 443.9 188.1 444.0 188.6 444.2 189.1 444.3 189.6 444.4 190.1 444.7 190.6 444.9 191.1 444.9 191.6 444.5 192.0 443.8 192.5 443.1 193.0 442.6 193.5 442.4 194.0 442.3 194.5 442.2 195.0 442.3 195.5 442.5 195.9 443.2 196.4 444.0 196.9 444.9 197.4 445.3 197.9 445.2 198.4 444.7 198.9 444.0 199.4 443.5 199.9 443.4 200.3 443.7 200.8 444.1 201.3 444.2 201.8 444.0 202.3 443.5 202.8 442.8 203.3 442.4 203.8 442.3 204.3 442.5 204.7 442.8 205.2 443.0 205.7 443.3 206.2 443.8 206.7 444.5 207.2 445.5 207.7 446.6 208.2 447.4 208.6 447.8 209.1 447.9 209.6 447.8 210.1 447.7 210.6 447.7 211.1 447.9 211.6 448.1 212.1 448.1 212.6 448.1 213.0 448.2 213.5 448.2 214.0 448.3 214.5 448.4 215.0 448.3 215.5 448.2 216.0 448.1 216.5 448.1 217.0 448.2 217.4 448.5 217.9 448.9 218.4 449.4 218.9 449.8 219.4 450.0 219.9 450.2 220.4 450.1 220.9 449.8 221.3 449.3 221.8 448.9 222.3 448.7 222.8 448.9 223.3 449.3 223.8 449.7 224.3 449.8 224.8 449.9 225.3 449.9 225.7 449.9 226.2 450.1 226.7 450.6 227.2 451.2 227.7 451.7 228.2 451.9 228.7 451.8 229.2 451.4 229.7 450.9 230.1 450.5 230.6 450.5 231.1 450.6 231.6 450.9 232.1 451.1 232.6 451.2 233.1 451.0 233.6 450.5 234.0 450.1 234.5 449.7 235.0 449.5 235.5 449.5 236.0 449.6" stroke="#ff0000" stroke-width="2.40" fill="none" stroke-linejoin="round" stroke-linecap="round"/>
<path d="M75.3 401.1 75.8 402.2 76.3 403.2 76.8 404.2 77.3 405.1 77.7 405.9 78.2 406.6 78.7 407.3 79.2 407.3 79.7 407.3 80.2 407.3 80.7 407.4 81.2 407.6 81.6 407.8 82.1 408.1 82.6 408.3 83.1 408.5 83.6 408.6 84.1 408.7 84.6 408.9 85.1 409.3 85.6 409.8 86.0 410.3 86.5 410.7 87.0 411.2 87.5 411.5 88.0 411.9 88.5 412.3 89.0 412.7 89.5 413.2 90.0 413.6 90.4 413.8 90.9 413.9 91.4 413.8 91.9 413.8 92.4 413.9 92.9 414.1 93.4 414.4 93.9 414.7 94.3 415.1 94.8 415.4 95.3 415.8 95.8 416.1 96.3 416.5 96.8 416.9 97.3 417.2 97.8 417.5 98.3 417.6 98.7 417.7 99.2 417.9 99.7 418.1 100.2 418.4 100.7 418.7 101.2 419.0 101.7 419.4 102.2 419.8 102.7 420.2 103.1 420.7 103.6 421.1 104.1 421.7 104.6 422.2 105.1 422.9 105.6 423.5 106.1 423.9 106.6 424.1 107.0 424.1 107.5 424.0 108.0 424.1 108.5 424.2 109.0 424.4 109.5 424.6 110.0 424.8 110.5 424.9 111.0 424.9 111.4 424.8 111.9 424.7 112.4 424.7 112.9 424.9 113.4 425.2 113.9 425.4 114.4 425.5 114.9 425.5 115.4 425.4 115.8 425.1 116.3 424.9 116.8 424.9 117.3 425.0 117.8 425.2 118.3 425.5 118.8 425.7 119.3 425.7 119.7 425.5 120.2 425.3 120.7 425.0 121.2 424.8 121.7 424.5 122.2 424.2 122.7 424.1 123.2 424.0 123.7 424.1 124.1 424.2 124.6 424.3 125.1 424.4 125.6 424.3 126.1 424.1 126.6 423.7 127.1 423.3 127.6 422.8 128.1 422.5 128.5 422.2 129.0 422.0 129.5 421.8 130.0 421.6 130.5 421.3 131.0 420.9 131.5 420.4 132.0 420.0 132.4 419.6 132.9 419.4 133.4 419.3 133.9 419.2 134.4 419.1 134.9 418.9 135.4 418.4 135.9 417.6 136.4 416.7 136.8 415.6 137.3 414.6 137.8 413.6 138.3 412.6 138.8 411.8 139.3 411.0 139.8 410.3 140.3 409.8 140.8 409.2 141.2 408.7 141.7 408.2 142.2 407.6 142.7 407.0 143.2 406.4 143.7 405.7 144.2 405.1 144.7 404.4 145.1 403.7 145.6 402.9 146.1 402.1 146.6 401.3 147.1 400.6 147.6 400.0 148.1 399.3 148.6 398.7 149.1 398.0 149.5 397.4 150.0 396.9 150.5 396.6 151.0 396.5 151.5 396.6 152.0 396.7 152.5 396.8 153.0 396.8 153.5 396.6 153.9 396.2 154.4 395.8 154.9 395.5 155.4 395.4 155.9 395.5 156.4 395.7 156.9 396.0 157.4 396.5 157.8 397.0 158.3 397.6 158.8 398.4 159.3 399.3 159.8 400.4 160.3 401.5 160.8 402.6 161.3 403.5 161.8 404.3 162.2 405.1 162.7 405.9 163.2 406.8 163.7 407.7 164.2 408.7 164.7 409.7 165.2 410.8 165.7 412.0 166.2 413.3 166.6 414.7 167.1 416.0 167.6 417.4 168.1 418.6 168.6 419.7 169.1 420.8 169.6 421.7 170.1 422.5 170.5 423.2 171.0 423.9 171.5 424.6 172.0 425.3 172.5 426.1 173.0 427.0 173.5 427.8 174.0 428.7 174.5 429.6 174.9 430.4 175.4 431.1 175.9 431.7 176.4 432.3 176.9 432.7 177.4 433.1 177.9 433.4 178.4 433.7 178.9 434.0 179.3 434.4 179.8 434.9 180.3 435.4 180.8 435.9 181.3 436.4 181.8 436.7 182.3 437.0 182.8 437.2 183.2 437.5 183.7 437.9 184.2 438.2 184.7 438.6 185.2 438.9 185.7 439.0 186.2 439.0 186.7 438.9 187.2 439.0 187.6 439.1 188.1 439.3 188.6 439.7 189.1 440.1 189.6 440.5 190.1 440.9 190.6 441.2 191.1 441.4 191.6 441.5 192.0 441.5 192.5 441.5 193.0 441.4 193.5 441.4 194.0 441.6 194.5 441.8 195.0 442.1 195.5 442.5 195.9 442.9 196.4 443.2 196.9 443.4 197.4 443.5 197.9 443.5 198.4 443.4 198.9 443.5 199.4 443.6 199.9 443.8 200.3 444.1 200.8 444.4 201.3 444.7 201.8 445.1 202.3 445.5 202.8 445.9 203.3 446.1 203.8 446.3 204.3 446.5 204.7 446.6 205.2 446.7 205.7 446.9 206.2 447.1 206.7 447.2 207.2 447.4 207.7 447.5 208.2 447.5 208.6 447.6 209.1 447.8 209.6 448.1 210.1 448.5 210.6 448.7 211.1 448.8 211.6 448.8 212.1 448.6 212.6 448.4 213.0 448.3 213.5 448.2 214.0 448.2 214.5 448.3 215.0 448.5 215.5 448.7 216.0 448.8 216.5 448.9 217.0 449.0 217.4 449.2 217.9 449.4 218.4 449.5 218.9 449.6 219.4 449.7 219.9 449.8 220.4 449.9 220.9 450.0 221.3 450.2 221.8 450.6 222.3 451.0 222.8 451.3 223.3 451.5 223.8 451.6 224.3 451.6 224.8 451.6 225.3 451.8 225.7 452.2 226.2 452.6 226.7 453.1 227.2 453.5 227.7 453.7 228.2 453.8 228.7 453.9 229.2 454.0 229.7 454.2 230.1 454.5 230.6 454.7 231.1 454.8 231.6 454.7 232.1 454.3 232.6 454.0 233.1 453.8 233.6 453.9 234.0 454.2 234.5 454.6 235.0 455.1 235.5 455.5 236.0 455.8" stroke="#0c0c24" stroke-width="2.40" fill="none" stroke-linejoin="round" stroke-linecap="round"/>
<path d="M75.3 438.2 75.8 438.3 76.3 438.4 76.8 438.4 77.3 438.4 77.7 438.2 78.2 438.1 78.7 438.0 79.2 438.0 79.7 438.1 80.2 438.1 80.7 438.2 81.2 438.2 81.6 438.3 82.1 438.3 82.6 438.3 83.1 438.3 83.6 438.3 84.1 438.4 84.6 438.5 85.1 438.6 85.6 438.8 86.0 438.9 86.5 439.1 87.0 439.2 87.5 439.3 88.0 439.4 88.5 439.6 89.0 439.6 89.5 439.7 90.0 439.6 90.4 439.5 90.9 439.4 91.4 439.2 91.9 439.1 92.4 439.0 92.9 438.9 93.4 439.0 93.9 439.1 94.3 439.1 94.8 439.2 95.3 439.3 95.8 439.4 96.3 439.5 96.8 439.5 97.3 439.5 97.8 439.5 98.3 439.4 98.7 439.3 99.2 439.3 99.7 439.3 100.2 439.3 100.7 439.4 101.2 439.4 101.7 439.4 102.2 439.3 102.7 439.2 103.1 439.1 103.6 439.1 104.1 439.1 104.6 439.1 105.1 439.1 105.6 439.0 106.1 439.0 106.6 439.0 107.0 439.0 107.5 439.0 108.0 439.0 108.5 439.0 109.0 438.9 109.5 438.7 110.0 438.5 110.5 438.3 111.0 438.2 111.4 438.2 111.9 438.2 112.4 438.3 112.9 438.4 113.4 438.4 113.9 438.4 114.4 438.4 114.9 438.2 115.4 438.1 115.8 437.9 116.3 437.7 116.8 437.6 117.3 437.5 117.8 437.4 118.3 437.3 118.8 437.4 119.3 437.4 119.7 437.4 120.2 437.3 120.7 437.1 121.2 436.7 121.7 436.3 122.2 435.9 122.7 435.6 123.2 435.4 123.7 435.4 124.1 435.5 124.6 435.5 125.1 435.4 125.6 435.2 126.1 434.8 126.6 434.4 127.1 433.9 127.6 433.4 128.1 432.9 128.5 432.5 129.0 432.1 129.5 431.6 130.0 431.0 130.5 430.4 131.0 429.6 131.5 428.8 132.0 427.9 132.4 426.8 132.9 425.7 133.4 424.6 133.9 423.6 134.4 422.6 134.9 421.6 135.4 420.7 135.9 419.8 136.4 418.7 136.8 417.4 137.3 416.0 137.8 414.4 138.3 412.8 138.8 411.2 139.3 409.6 139.8 408.0 140.3 406.4 140.8 404.6 141.2 402.6 141.7 400.4 142.2 398.1 142.7 395.8 143.2 393.4 143.7 391.1 144.2 388.9 144.7 386.8 145.1 384.6 145.6 382.5 146.1 380.4 146.6 378.4 147.1 376.4 147.6 374.5 148.1 372.5 148.6 370.7 149.1 369.0 149.5 367.3 150.0 365.8 150.5 364.2 151.0 362.8 151.5 361.6 152.0 360.5 152.5 359.6 153.0 359.1 153.5 359.0 153.9 359.2 154.4 359.7 154.9 360.3 155.4 361.1 155.9 362.0 156.4 363.0 156.9 364.1 157.4 365.4 157.8 366.9 158.3 368.4 158.8 370.0 159.3 371.6 159.8 373.3 160.3 375.1 160.8 377.0 161.3 379.0 161.8 381.2 162.2 383.4 162.7 385.6 163.2 387.5 163.7 389.3 164.2 391.1 164.7 392.8 165.2 394.7 165.7 396.6 166.2 398.6 166.6 400.6 167.1 402.6 167.6 404.5 168.1 406.1 168.6 407.5 169.1 408.8 169.6 409.9 170.1 411.0 170.5 412.2 171.0 413.5 171.5 414.7 172.0 415.9 172.5 417.0 173.0 418.0 173.5 418.9 174.0 419.9 174.5 420.8 174.9 421.8 175.4 422.7 175.9 423.6 176.4 424.5 176.9 425.2 177.4 425.9 177.9 426.5 178.4 427.1 178.9 427.6 179.3 428.3 179.8 429.1 180.3 430.1 180.8 431.0 181.3 432.0 181.8 432.7 182.3 433.3 182.8 433.6 183.2 433.8 183.7 433.9 184.2 434.1 184.7 434.5 185.2 435.0 185.7 435.6 186.2 436.1 186.7 436.6 187.2 437.0 187.6 437.4 188.1 437.8 188.6 438.2 189.1 438.6 189.6 439.0 190.1 439.4 190.6 439.8 191.1 440.0 191.6 440.2 192.0 440.4 192.5 440.5 193.0 440.7 193.5 440.9 194.0 441.1 194.5 441.4 195.0 441.7 195.5 441.9 195.9 442.2 196.4 442.4 196.9 442.7 197.4 443.1 197.9 443.5 198.4 443.8 198.9 444.0 199.4 444.0 199.9 444.0 200.3 444.1 200.8 444.3 201.3 444.6 201.8 445.0 202.3 445.4 202.8 445.8 203.3 446.1 203.8 446.3 204.3 446.4 204.7 446.4 205.2 446.5 205.7 446.6 206.2 446.8 206.7 447.1 207.2 447.4 207.7 447.8 208.2 448.2 208.6 448.4 209.1 448.5 209.6 448.5 210.1 448.3 210.6 448.1 211.1 447.9 211.6 447.9 212.1 447.9 212.6 448.0 213.0 448.2 213.5 448.3 214.0 448.5 214.5 448.8 215.0 449.1 215.5 449.4 216.0 449.8 216.5 450.1 217.0 450.4 217.4 450.6 217.9 450.7 218.4 450.9 218.9 451.0 219.4 451.2 219.9 451.4 220.4 451.7 220.9 452.1 221.3 452.5 221.8 452.8 222.3 453.1 222.8 453.3 223.3 453.3 223.8 453.3 224.3 453.3 224.8 453.3 225.3 453.4 225.7 453.6 226.2 453.7 226.7 453.9 227.2 454.1 227.7 454.2 228.2 454.3 228.7 454.5 229.2 454.7 229.7 455.0 230.1 455.3 230.6 455.5 231.1 455.6 231.6 455.7 232.1 455.7 232.6 455.8 233.1 455.9 233.6 456.1 234.0 456.4 234.5 456.7 235.0 457.0 235.5 457.2 236.0 457.2" stroke="#2e0a86" stroke-width="2.40" fill="none" stroke-linejoin="round" stroke-linecap="round"/>
<path d="M75.3 443.8 75.8 443.8 76.3 443.8 76.8 443.8 77.3 443.8 77.7 443.8 78.2 443.7 78.7 443.6 79.2 443.6 79.7 443.6 80.2 443.7 80.7 443.8 81.2 443.9 81.6 444.0 82.1 444.0 82.6 444.1 83.1 444.1 83.6 444.2 84.1 444.3 84.6 444.3 85.1 444.3 85.6 444.3 86.0 444.2 86.5 444.0 87.0 443.8 87.5 443.7 88.0 443.4 88.5 443.2 89.0 443.0 89.5 442.9 90.0 442.7 90.4 442.6 90.9 442.5 91.4 442.5 91.9 442.6 92.4 442.8 92.9 442.9 93.4 443.1 93.9 443.3 94.3 443.5 94.8 443.6 95.3 443.7 95.8 443.8 96.3 443.7 96.8 443.6 97.3 443.4 97.8 443.2 98.3 443.1 98.7 443.0 99.2 443.0 99.7 443.0 100.2 443.1 100.7 443.2 101.2 443.3 101.7 443.4 102.2 443.3 102.7 443.1 103.1 442.9 103.6 442.7 104.1 442.5 104.6 442.5 105.1 442.5 105.6 442.7 106.1 442.9 106.6 443.1 107.0 443.2 107.5 443.2 108.0 443.1 108.5 443.1 109.0 443.0 109.5 443.0 110.0 443.0 110.5 443.0 111.0 443.1 111.4 443.1 111.9 443.1 112.4 443.2 112.9 443.4 113.4 443.6 113.9 443.9 114.4 444.1 114.9 444.4 115.4 444.5 115.8 444.4 116.3 444.3 116.8 444.1 117.3 443.8 117.8 443.5 118.3 443.2 118.8 443.1 119.3 443.0 119.7 443.0 120.2 443.1 120.7 443.3 121.2 443.5 121.7 443.7 122.2 444.0 122.7 444.1 123.2 444.2 123.7 444.1 124.1 443.9 124.6 443.7 125.1 443.6 125.6 443.7 126.1 443.8 126.6 444.1 127.1 444.3 127.6 444.4 128.1 444.3 128.5 444.0 129.0 443.5 129.5 443.1 130.0 442.8 130.5 442.6 131.0 442.6 131.5 442.6 132.0 442.5 132.4 442.4 132.9 442.3 133.4 442.0 133.9 441.8 134.4 441.5 134.9 441.2 135.4 440.8 135.9 440.2 136.4 439.5 136.8 438.8 137.3 438.0 137.8 437.3 138.3 436.7 138.8 436.1 139.3 435.6 139.8 435.0 140.3 434.4 140.8 433.7 141.2 433.0 141.7 432.2 142.2 431.3 142.7 430.5 143.2 429.7 143.7 429.0 144.2 428.2 144.7 427.3 145.1 426.4 145.6 425.5 146.1 424.5 146.6 423.7 147.1 422.8 147.6 422.0 148.1 421.1 148.6 420.3 149.1 419.5 149.5 418.6 150.0 417.7 150.5 416.8 151.0 415.9 151.5 415.1 152.0 414.4 152.5 413.9 153.0 413.6 153.5 413.5 153.9 413.5 154.4 413.7 154.9 413.9 155.4 414.2 155.9 414.5 156.4 414.6 156.9 414.8 157.4 415.1 157.8 415.4 158.3 415.9 158.8 416.4 159.3 417.0 159.8 417.7 160.3 418.4 160.8 419.1 161.3 419.9 161.8 420.7 162.2 421.7 162.7 422.7 163.2 423.7 163.7 424.8 164.2 425.9 164.7 427.2 165.2 428.4 165.7 429.6 166.2 430.7 166.6 431.7 167.1 432.7 167.6 433.6 168.1 434.4 168.6 435.3 169.1 436.2 169.6 437.1 170.1 438.0 170.5 438.9 171.0 439.7 171.5 440.4 172.0 441.0 172.5 441.6 173.0 442.2 173.5 442.9 174.0 443.6 174.5 444.3 174.9 445.0 175.4 445.6 175.9 446.2 176.4 446.7 176.9 447.2 177.4 447.6 177.9 447.8 178.4 448.0 178.9 448.1 179.3 448.1 179.8 448.0 180.3 448.0 180.8 448.0 181.3 448.1 181.8 448.4 182.3 448.8 182.8 449.2 183.2 449.5 183.7 449.9 184.2 450.2 184.7 450.5 185.2 450.7 185.7 450.8 186.2 450.9 186.7 450.8 187.2 450.6 187.6 450.4 188.1 450.2 188.6 450.0 189.1 450.0 189.6 450.1 190.1 450.3 190.6 450.5 191.1 450.7 191.6 450.9 192.0 451.1 192.5 451.2 193.0 451.4 193.5 451.6 194.0 451.8 194.5 451.9 195.0 452.0 195.5 452.0 195.9 451.9 196.4 451.8 196.9 451.9 197.4 452.0 197.9 452.2 198.4 452.5 198.9 452.8 199.4 452.9 199.9 453.0 200.3 453.0 200.8 453.0 201.3 453.1 201.8 453.2 202.3 453.3 202.8 453.5 203.3 453.7 203.8 453.9 204.3 454.0 204.7 454.0 205.2 453.9 205.7 453.7 206.2 453.4 206.7 453.2 207.2 453.1 207.7 453.1 208.2 453.3 208.6 453.5 209.1 453.8 209.6 454.0 210.1 454.1 210.6 454.2 211.1 454.3 211.6 454.3 212.1 454.4 212.6 454.5 213.0 454.6 213.5 454.6 214.0 454.6 214.5 454.6 215.0 454.6 215.5 454.6 216.0 454.6 216.5 454.8 217.0 455.1 217.4 455.3 217.9 455.6 218.4 455.7 218.9 455.7 219.4 455.6 219.9 455.4 220.4 455.3 220.9 455.2 221.3 455.3 221.8 455.5 222.3 455.7 222.8 456.0 223.3 456.1 223.8 456.1 224.3 456.0 224.8 455.7 225.3 455.5 225.7 455.4 226.2 455.4 226.7 455.5 227.2 455.7 227.7 455.8 228.2 455.9 228.7 456.0 229.2 456.1 229.7 456.2 230.1 456.5 230.6 456.8 231.1 457.1 231.6 457.4 232.1 457.6 232.6 457.8 233.1 458.0 233.6 458.2 234.0 458.3 234.5 458.4 235.0 458.4 235.5 458.4 236.0 458.2" stroke="#0a88f0" stroke-width="2.40" fill="none" stroke-linejoin="round" stroke-linecap="round"/>
<path d="M75.3 431.2 75.8 430.8 76.3 430.4 76.8 430.1 77.3 429.9 77.7 430.0 78.2 430.3 78.7 430.6 79.2 430.8 79.7 430.9 80.2 431.1 80.7 431.2 81.2 431.1 81.6 431.0 82.1 430.9 82.6 430.6 83.1 430.2 83.6 429.8 84.1 429.7 84.6 430.0 85.1 430.4 85.6 430.9 86.0 431.5 86.5 432.1 87.0 432.5 87.5 432.9 88.0 433.2 88.5 433.6 89.0 433.7 89.5 433.5 90.0 433.5 90.4 433.5 90.9 433.5 91.4 433.4 91.9 433.5 92.4 433.5 92.9 433.4 93.4 433.0 93.9 432.5 94.3 432.0 94.8 431.4 95.3 430.6 95.8 429.8 96.3 429.2 96.8 428.9 97.3 428.8 97.8 429.0 98.3 429.3 98.7 429.5 99.2 429.5 99.7 429.3 100.2 429.1 100.7 429.0 101.2 428.9 101.7 428.8 102.2 429.0 102.7 429.5 103.1 430.4 103.6 431.5 104.1 432.4 104.6 433.1 105.1 433.4 105.6 433.4 106.1 433.2 106.6 433.1 107.0 432.9 107.5 432.6 108.0 432.1 108.5 431.7 109.0 431.5 109.5 431.7 110.0 432.2 110.5 432.8 111.0 433.3 111.4 433.6 111.9 433.5 112.4 433.1 112.9 432.6 113.4 432.3 113.9 432.3 114.4 432.4 114.9 432.5 115.4 432.5 115.8 432.5 116.3 432.4 116.8 432.5 117.3 432.8 117.8 433.2 118.3 433.6 118.8 433.9 119.3 433.9 119.7 433.7 120.2 433.5 120.7 433.1 121.2 432.8 121.7 432.4 122.2 432.0 122.7 431.9 123.2 432.2 123.7 432.8 124.1 433.8 124.6 434.7 125.1 435.1 125.6 434.8 126.1 434.3 126.6 433.9 127.1 433.9 127.6 434.3 128.1 434.9 128.5 435.4 129.0 435.9 129.5 436.4 130.0 437.1 130.5 437.7 131.0 438.1 131.5 438.2 132.0 438.2 132.4 438.0 132.9 437.6 133.4 437.2 133.9 437.0 134.4 436.9 134.9 437.0 135.4 437.3 135.9 437.9 136.4 438.5 136.8 438.7 137.3 438.7 137.8 438.6 138.3 438.5 138.8 438.1 139.3 437.6 139.8 437.2 140.3 437.1 140.8 437.3 141.2 437.6 141.7 438.1 142.2 438.5 142.7 438.6 143.2 438.6 143.7 438.6 144.2 438.7 144.7 438.6 145.1 438.4 145.6 438.0 146.1 437.7 146.6 437.7 147.1 438.1 147.6 438.6 148.1 438.9 148.6 438.7 149.1 438.3 149.5 437.8 150.0 437.6 150.5 437.9 151.0 438.4 151.5 439.0 152.0 439.5 152.5 439.9 153.0 440.1 153.5 440.1 153.9 440.3 154.4 440.5 154.9 440.6 155.4 440.5 155.9 440.4 156.4 440.1 156.9 439.8 157.4 439.6 157.8 439.6 158.3 439.8 158.8 439.9 159.3 440.1 159.8 440.5 160.3 441.1 160.8 441.6 161.3 442.0 161.8 442.1 162.2 441.9 162.7 441.3 163.2 440.9 163.7 440.7 164.2 440.9 164.7 441.4 165.2 442.3 165.7 443.2 166.2 443.9 166.6 444.1 167.1 443.8 167.6 443.1 168.1 442.6 168.6 442.5 169.1 442.7 169.6 442.9 170.1 443.0 170.5 442.9 171.0 442.6 171.5 442.4 172.0 442.6 172.5 442.9 173.0 443.2 173.5 443.5 174.0 443.9 174.5 444.2 174.9 444.4 175.4 444.2 175.9 443.6 176.4 442.9 176.9 442.5 177.4 442.7 177.9 443.2 178.4 444.1 178.9 444.8 179.3 445.3 179.8 445.4 180.3 445.0 180.8 444.5 181.3 444.0 181.8 443.5 182.3 443.1 182.8 443.0 183.2 443.1 183.7 443.4 184.2 443.7 184.7 444.1 185.2 444.6 185.7 445.1 186.2 445.4 186.7 445.5 187.2 445.4 187.6 445.2 188.1 444.9 188.6 444.8 189.1 445.0 189.6 445.5 190.1 446.0 190.6 446.4 191.1 446.6 191.6 446.6 192.0 446.3 192.5 445.8 193.0 445.2 193.5 444.8 194.0 444.7 194.5 444.7 195.0 445.0 195.5 445.3 195.9 445.6 196.4 445.7 196.9 445.6 197.4 445.4 197.9 445.1 198.4 444.7 198.9 444.5 199.4 444.6 199.9 445.0 200.3 445.6 200.8 446.2 201.3 446.6 201.8 446.7 202.3 446.6 202.8 446.6 203.3 446.8 203.8 447.0 204.3 447.2 204.7 447.2 205.2 447.0 205.7 446.7 206.2 446.6 206.7 446.9 207.2 447.3 207.7 447.8 208.2 448.2 208.6 448.5 209.1 448.6 209.6 448.5 210.1 448.3 210.6 448.3 211.1 448.3 211.6 448.3 212.1 448.3 212.6 448.5 213.0 448.6 213.5 448.7 214.0 448.6 214.5 448.5 215.0 448.3 215.5 448.3 216.0 448.4 216.5 448.9 217.0 449.5 217.4 450.2 217.9 450.6 218.4 450.7 218.9 450.6 219.4 450.5 219.9 450.5 220.4 450.5 220.9 450.3 221.3 449.9 221.8 449.4 222.3 449.0 222.8 449.0 223.3 449.4 223.8 450.0 224.3 450.6 224.8 451.1 225.3 451.4 225.7 451.7 226.2 451.9 226.7 452.1 227.2 452.1 227.7 451.8 228.2 451.3 228.7 450.9 229.2 450.7 229.7 450.8 230.1 451.0 230.6 451.3 231.1 451.7 231.6 452.0 232.1 452.4 232.6 453.0 233.1 453.7 233.6 454.2 234.0 454.7 234.5 455.0 235.0 455.0 235.5 454.6 236.0 454.0" stroke="#333333" stroke-width="2.40" fill="none" stroke-linejoin="round" stroke-linecap="round"/>
<path d="M75.3 434.8 75.8 435.1 76.3 435.3 76.8 435.5 77.3 435.7 77.7 435.9 78.2 436.1 78.7 436.4 79.2 436.6 79.7 436.7 80.2 436.7 80.7 436.7 81.2 436.6 81.6 436.6 82.1 436.7 82.6 436.9 83.1 437.1 83.6 437.2 84.1 437.1 84.6 437.0 85.1 437.0 85.6 437.0 86.0 437.1 86.5 437.6 87.0 438.1 87.5 438.7 88.0 439.3 88.5 439.6 89.0 439.6 89.5 439.3 90.0 438.9 90.4 438.6 90.9 438.5 91.4 438.5 91.9 438.5 92.4 438.4 92.9 438.4 93.4 438.3 93.9 438.3 94.3 438.2 94.8 438.0 95.3 438.0 95.8 438.2 96.3 438.4 96.8 438.8 97.3 439.2 97.8 439.4 98.3 439.4 98.7 439.2 99.2 438.9 99.7 438.7 100.2 438.8 100.7 439.0 101.2 439.4 101.7 439.8 102.2 440.0 102.7 440.0 103.1 439.9 103.6 439.7 104.1 439.6 104.6 439.5 105.1 439.5 105.6 439.7 106.1 440.0 106.6 440.1 107.0 440.1 107.5 440.0 108.0 439.8 108.5 439.7 109.0 439.5 109.5 439.3 110.0 439.0 110.5 438.8 111.0 438.7 111.4 438.9 111.9 439.3 112.4 439.8 112.9 440.2 113.4 440.4 113.9 440.7 114.4 441.2 114.9 441.8 115.4 442.2 115.8 442.2 116.3 442.0 116.8 441.8 117.3 441.7 117.8 441.7 118.3 441.8 118.8 441.6 119.3 441.2 119.7 440.6 120.2 440.2 120.7 440.1 121.2 440.2 121.7 440.1 122.2 439.8 122.7 439.2 123.2 438.8 123.7 438.7 124.1 439.0 124.6 439.7 125.1 440.4 125.6 440.9 126.1 441.1 126.6 441.2 127.1 441.2 127.6 441.2 128.1 441.0 128.5 440.6 129.0 440.0 129.5 439.4 130.0 439.0 130.5 439.0 131.0 439.2 131.5 439.5 132.0 439.8 132.4 440.0 132.9 440.0 133.4 439.8 133.9 439.6 134.4 439.5 134.9 439.3 135.4 439.2 135.9 439.5 136.4 440.0 136.8 440.7 137.3 441.3 137.8 441.7 138.3 441.8 138.8 441.8 139.3 441.9 139.8 442.1 140.3 442.4 140.8 442.5 141.2 442.5 141.7 442.2 142.2 441.9 142.7 441.8 143.2 442.0 143.7 442.2 144.2 442.6 144.7 443.1 145.1 443.6 145.6 444.1 146.1 444.6 146.6 445.0 147.1 445.0 147.6 444.6 148.1 444.0 148.6 443.5 149.1 443.1 149.5 442.7 150.0 442.5 150.5 442.5 151.0 442.7 151.5 442.9 152.0 443.2 152.5 443.5 153.0 443.6 153.5 443.5 153.9 443.5 154.4 443.8 154.9 444.2 155.4 444.8 155.9 445.2 156.4 445.4 156.9 445.2 157.4 445.0 157.8 444.8 158.3 444.9 158.8 445.2 159.3 445.5 159.8 445.5 160.3 445.5 160.8 445.3 161.3 445.4 161.8 445.6 162.2 446.0 162.7 446.4 163.2 446.8 163.7 446.6 164.2 446.0 164.7 445.4 165.2 445.0 165.7 445.0 166.2 445.2 166.6 445.6 167.1 446.0 167.6 446.1 168.1 446.1 168.6 446.1 169.1 446.2 169.6 446.2 170.1 446.0 170.5 445.9 171.0 445.8 171.5 446.1 172.0 446.6 172.5 447.3 173.0 447.8 173.5 448.2 174.0 448.3 174.5 448.3 174.9 448.2 175.4 447.9 175.9 447.5 176.4 447.1 176.9 446.6 177.4 446.4 177.9 446.6 178.4 447.3 178.9 448.4 179.3 449.4 179.8 450.1 180.3 450.1 180.8 449.7 181.3 449.1 181.8 448.5 182.3 448.3 182.8 448.7 183.2 449.5 183.7 450.5 184.2 451.3 184.7 451.7 185.2 451.8 185.7 451.7 186.2 451.4 186.7 451.0 187.2 450.7 187.6 450.6 188.1 450.4 188.6 450.1 189.1 449.9 189.6 449.7 190.1 449.6 190.6 449.7 191.1 450.1 191.6 450.7 192.0 451.1 192.5 451.2 193.0 450.9 193.5 450.4 194.0 450.1 194.5 450.2 195.0 450.8 195.5 451.6 195.9 452.3 196.4 452.7 196.9 452.7 197.4 452.5 197.9 452.2 198.4 451.9 198.9 451.8 199.4 451.7 199.9 451.7 200.3 451.8 200.8 452.0 201.3 452.1 201.8 452.3 202.3 452.3 202.8 452.3 203.3 452.0 203.8 451.5 204.3 450.9 204.7 450.3 205.2 449.9 205.7 450.1 206.2 450.8 206.7 451.6 207.2 452.2 207.7 452.6 208.2 452.6 208.6 452.6 209.1 452.5 209.6 452.5 210.1 452.7 210.6 453.0 211.1 453.3 211.6 453.7 212.1 453.8 212.6 453.7 213.0 453.5 213.5 453.3 214.0 453.1 214.5 453.1 215.0 453.2 215.5 453.2 216.0 453.0 216.5 452.7 217.0 452.6 217.4 452.7 217.9 453.0 218.4 453.3 218.9 453.5 219.4 453.6 219.9 453.4 220.4 453.2 220.9 453.0 221.3 453.1 221.8 453.3 222.3 453.5 222.8 453.6 223.3 453.5 223.8 453.3 224.3 453.0 224.8 452.8 225.3 452.9 225.7 453.3 226.2 453.7 226.7 454.1 227.2 454.4 227.7 454.3 228.2 454.0 228.7 453.7 229.2 453.5 229.7 453.7 230.1 454.2 230.6 454.7 231.1 454.8 231.6 454.5 232.1 453.7 232.6 452.9 233.1 452.4 233.6 452.3 234.0 452.6 234.5 453.0 235.0 453.5 235.5 453.9 236.0 454.1" stroke="#0a8a0a" stroke-width="2.40" fill="none" stroke-linejoin="round" stroke-linecap="round"/>
<path d="M75.3 427.1 75.8 427.0 76.3 427.1 76.8 427.3 77.3 427.9 77.7 428.7 78.2 429.5 78.7 429.9 79.2 429.7 79.7 429.5 80.2 429.5 80.7 429.6 81.2 429.9 81.6 430.3 82.1 430.7 82.6 430.9 83.1 431.1 83.6 431.3 84.1 431.5 84.6 431.6 85.1 431.5 85.6 431.5 86.0 431.6 86.5 432.0 87.0 432.7 87.5 433.2 88.0 433.5 88.5 433.4 89.0 433.2 89.5 433.0 90.0 433.1 90.4 433.2 90.9 433.3 91.4 433.2 91.9 432.9 92.4 432.7 92.9 432.7 93.4 433.0 93.9 433.7 94.3 434.3 94.8 434.9 95.3 435.3 95.8 435.4 96.3 435.2 96.8 434.8 97.3 434.2 97.8 433.8 98.3 433.5 98.7 433.5 99.2 433.6 99.7 433.6 100.2 433.5 100.7 433.3 101.2 433.2 101.7 433.5 102.2 434.4 102.7 435.5 103.1 436.5 103.6 437.1 104.1 437.3 104.6 437.1 105.1 436.8 105.6 436.5 106.1 436.5 106.6 436.7 107.0 436.8 107.5 436.9 108.0 436.9 108.5 436.8 109.0 436.6 109.5 436.2 110.0 435.8 110.5 435.9 111.0 436.2 111.4 436.7 111.9 437.1 112.4 437.4 112.9 437.6 113.4 437.9 113.9 438.1 114.4 438.6 114.9 439.1 115.4 439.4 115.8 439.2 116.3 439.0 116.8 438.9 117.3 438.7 117.8 438.5 118.3 438.0 118.8 437.5 119.3 437.1 119.7 436.7 120.2 436.5 120.7 436.1 121.2 435.6 121.7 435.1 122.2 434.9 122.7 435.2 123.2 435.6 123.7 436.1 124.1 436.5 124.6 436.7 125.1 436.7 125.6 436.5 126.1 436.6 126.6 436.8 127.1 437.0 127.6 437.4 128.1 437.8 128.5 438.3 129.0 438.7 129.5 438.9 130.0 438.9 130.5 438.7 131.0 438.3 131.5 437.8 132.0 437.6 132.4 437.6 132.9 437.8 133.4 438.0 133.9 438.0 134.4 438.2 134.9 438.6 135.4 439.0 135.9 439.4 136.4 439.7 136.8 439.9 137.3 439.9 137.8 440.0 138.3 440.3 138.8 440.7 139.3 440.8 139.8 440.8 140.3 440.8 140.8 441.0 141.2 441.2 141.7 441.1 142.2 440.9 142.7 440.6 143.2 440.2 143.7 439.8 144.2 439.5 144.7 439.3 145.1 439.2 145.6 439.0 146.1 439.0 146.6 439.3 147.1 439.7 147.6 440.0 148.1 440.1 148.6 439.9 149.1 439.5 149.5 438.9 150.0 438.3 150.5 438.0 151.0 438.2 151.5 438.4 152.0 438.7 152.5 439.0 153.0 439.3 153.5 439.6 153.9 439.9 154.4 440.1 154.9 440.4 155.4 440.8 155.9 441.3 156.4 442.1 156.9 442.8 157.4 443.4 157.8 443.7 158.3 443.6 158.8 443.4 159.3 443.1 159.8 443.0 160.3 443.1 160.8 443.2 161.3 443.3 161.8 443.2 162.2 443.0 162.7 442.6 163.2 442.2 163.7 441.7 164.2 441.2 164.7 440.9 165.2 440.5 165.7 440.3 166.2 440.2 166.6 440.3 167.1 440.5 167.6 441.0 168.1 441.5 168.6 441.8 169.1 441.9 169.6 441.7 170.1 441.5 170.5 441.2 171.0 441.1 171.5 441.0 172.0 440.7 172.5 440.2 173.0 439.7 173.5 439.5 174.0 439.5 174.5 439.7 174.9 440.0 175.4 440.1 175.9 440.0 176.4 440.0 176.9 440.2 177.4 440.7 177.9 441.5 178.4 442.3 178.9 442.9 179.3 443.3 179.8 443.3 180.3 443.2 180.8 442.9 181.3 442.6 181.8 442.5 182.3 442.7 182.8 442.8 183.2 442.7 183.7 442.2 184.2 441.4 184.7 440.6 185.2 440.0 185.7 440.0 186.2 440.4 186.7 440.9 187.2 441.2 187.6 441.2 188.1 441.1 188.6 441.1 189.1 441.4 189.6 441.9 190.1 442.5 190.6 443.0 191.1 443.3 191.6 443.0 192.0 442.4 192.5 441.9 193.0 441.5 193.5 441.2 194.0 441.2 194.5 441.2 195.0 441.1 195.5 440.5 195.9 439.7 196.4 438.9 196.9 438.2 197.4 437.7 197.9 437.6 198.4 437.9 198.9 438.2 199.4 438.7 199.9 439.3 200.3 440.0 200.8 440.5 201.3 440.8 201.8 440.9 202.3 440.8 202.8 440.8 203.3 441.0 203.8 441.4 204.3 442.1 204.7 443.1 205.2 444.0 205.7 444.9 206.2 445.6 206.7 446.1 207.2 446.5 207.7 446.7 208.2 446.6 208.6 446.5 209.1 446.3 209.6 446.0 210.1 445.8 210.6 445.6 211.1 445.2 211.6 444.9 212.1 444.7 212.6 444.8 213.0 445.1 213.5 445.7 214.0 446.2 214.5 446.8 215.0 447.3 215.5 447.9 216.0 448.6 216.5 449.3 217.0 449.6 217.4 449.6 217.9 449.2 218.4 448.7 218.9 448.5 219.4 448.5 219.9 448.6 220.4 448.8 220.9 448.8 221.3 448.6 221.8 448.4 222.3 448.7 222.8 449.4 223.3 450.4 223.8 451.3 224.3 452.0 224.8 452.3 225.3 452.1 225.7 451.4 226.2 450.7 226.7 450.1 227.2 449.7 227.7 449.6 228.2 449.5 228.7 449.4 229.2 449.1 229.7 448.8 230.1 448.4 230.6 448.3 231.1 448.4 231.6 448.5 232.1 448.6 232.6 448.7 233.1 448.6 233.6 448.5 234.0 448.4 234.5 448.3 235.0 448.1 235.5 447.6 236.0 447.4" stroke="#f43c08" stroke-width="2.40" fill="none" stroke-linejoin="round" stroke-linecap="round"/>
<path d="M75.3 449.9 75.8 454.2 76.3 455.3 76.8 453.9 77.3 453.5 77.7 453.7 78.2 453.6 78.7 453.3 79.2 452.8 79.7 452.0 80.2 451.4 80.7 450.8 81.2 450.4 81.6 450.2 82.1 450.2 82.6 450.3 83.1 450.4 83.6 450.5 84.1 450.9 84.6 451.4 85.1 451.8 85.6 452.1 86.0 452.0 86.5 451.6 87.0 451.0 87.5 450.3 88.0 449.8 88.5 449.4 89.0 449.3 89.5 449.4 90.0 449.7 90.4 450.1 90.9 450.5 91.4 450.6 91.9 450.6 92.4 450.4 92.9 450.1 93.4 449.9 93.9 449.6 94.3 449.5 94.8 449.4 95.3 449.2 95.8 449.1 96.3 449.0 96.8 448.8 97.3 448.6 97.8 448.2 98.3 447.8 98.7 447.5 99.2 447.5 99.7 447.8 100.2 448.3 100.7 448.8 101.2 449.0 101.7 448.7 102.2 448.1 102.7 447.4 103.1 446.7 103.6 446.0 104.1 445.3 104.6 444.6 105.1 444.0 105.6 443.8 106.1 444.1 106.6 444.6 107.0 445.0 107.5 445.3 108.0 445.3 108.5 445.2 109.0 445.1 109.5 445.0 110.0 445.2 110.5 445.7 111.0 446.5 111.4 447.4 111.9 448.2 112.4 448.7 112.9 448.6 113.4 447.9 113.9 447.3 114.4 447.0 114.9 447.1 115.4 447.5 115.8 448.2 116.3 448.8 116.8 449.2 117.3 449.3 117.8 449.2 118.3 449.0 118.8 448.5 119.3 448.0 119.7 447.5 120.2 447.2 120.7 447.3 121.2 448.0 121.7 449.0 122.2 450.0 122.7 450.8 123.2 451.2 123.7 451.3 124.1 451.2 124.6 451.3 125.1 451.5 125.6 451.6 126.1 451.5 126.6 451.1 127.1 450.8 127.6 450.5 128.1 450.3 128.5 450.0 129.0 449.8 129.5 449.7 130.0 449.9 130.5 450.4 131.0 450.9 131.5 451.5 132.0 451.9 132.4 451.9 132.9 451.4 133.4 450.9 133.9 450.4 134.4 450.1 134.9 450.0 135.4 450.1 135.9 450.3 136.4 450.4 136.8 450.4 137.3 450.4 137.8 450.4 138.3 450.4 138.8 450.4 139.3 450.5 139.8 450.7 140.3 450.9 140.8 451.1 141.2 451.2 141.7 451.0 142.2 450.8 142.7 450.6 143.2 450.4 143.7 450.3 144.2 450.1 144.7 449.8 145.1 449.6 145.6 449.5 146.1 449.6 146.6 449.7 147.1 449.7 147.6 449.6 148.1 449.4 148.6 449.0 149.1 448.7 149.5 448.4 150.0 448.1 150.5 447.9 151.0 447.6 151.5 447.3 152.0 447.3 152.5 447.7 153.0 448.2 153.5 448.7 153.9 449.0 154.4 449.0 154.9 448.7 155.4 448.3 155.9 448.0 156.4 447.8 156.9 447.7 157.4 447.4 157.8 447.1 158.3 446.9 158.8 446.9 159.3 446.8 159.8 446.6 160.3 446.3 160.8 445.9 161.3 445.6 161.8 445.6 162.2 445.9 162.7 446.2 163.2 446.3 163.7 446.1 164.2 445.7 164.7 445.3 165.2 445.0 165.7 444.9 166.2 445.0 166.6 445.3 167.1 445.7 167.6 446.0 168.1 446.2 168.6 446.3 169.1 446.3 169.6 446.3 170.1 446.6 170.5 447.0 171.0 447.2 171.5 447.2 172.0 447.2 172.5 447.3 173.0 447.4 173.5 447.5 174.0 447.6 174.5 447.8 174.9 447.8 175.4 447.7 175.9 447.6 176.4 447.5 176.9 447.1 177.4 446.6 177.9 446.3 178.4 446.3 178.9 446.5 179.3 446.7 179.8 446.9 180.3 447.0 180.8 447.1 181.3 447.2 181.8 447.6 182.3 447.9 182.8 448.0 183.2 447.9 183.7 447.7 184.2 447.7 184.7 447.9 185.2 448.0 185.7 447.9 186.2 447.5 186.7 447.0 187.2 446.7 187.6 446.7 188.1 446.9 188.6 447.1 189.1 447.4 189.6 447.6 190.1 447.7 190.6 447.7 191.1 447.6 191.6 447.4 192.0 447.3 192.5 447.2 193.0 447.2 193.5 447.3 194.0 447.3 194.5 447.3 195.0 447.2 195.5 447.1 195.9 447.2 196.4 447.2 196.9 447.2 197.4 447.1 197.9 446.9 198.4 446.6 198.9 446.3 199.4 445.9 199.9 445.5 200.3 445.4 200.8 445.5 201.3 445.7 201.8 446.2 202.3 446.5 202.8 446.6 203.3 446.4 203.8 446.1 204.3 445.8 204.7 445.7 205.2 445.9 205.7 446.3 206.2 446.5 206.7 446.5 207.2 446.4 207.7 446.2 208.2 446.2 208.6 446.4 209.1 447.0 209.6 447.5 210.1 447.9 210.6 447.9 211.1 447.8 211.6 447.4 212.1 447.1 212.6 447.0 213.0 447.2 213.5 447.6 214.0 448.1 214.5 448.4 215.0 448.5 215.5 448.4 216.0 448.1 216.5 448.0 217.0 448.1 217.4 448.5 217.9 449.2 218.4 449.6 218.9 449.7 219.4 449.5 219.9 449.0 220.4 448.5 220.9 448.2 221.3 448.2 221.8 448.3 222.3 448.2 222.8 447.8 223.3 447.5 223.8 447.3 224.3 447.5 224.8 448.0 225.3 449.0 225.7 450.0 226.2 450.6 226.7 450.9 227.2 450.7 227.7 450.2 228.2 449.5 228.7 448.8 229.2 448.4 229.7 448.2 230.1 448.1 230.6 448.1 231.1 448.0 231.6 448.0 232.1 448.0 232.6 447.9 233.1 447.8 233.6 447.6 234.0 447.5 234.5 447.5 235.0 447.4 235.5 447.3 236.0 446.9" stroke="#740000" stroke-width="2.40" fill="none" stroke-linejoin="round" stroke-linecap="round"/>
<path d="M326.25 13.00 L326.25 120.00" stroke="#111" stroke-width="1.50" fill="none"/>
<path d="M325.50 119.40 L509.40 119.40" stroke="#111" stroke-width="1.20" fill="none"/>
<path d="M326.25 65.90 L330.20 65.90" stroke="#111" stroke-width="1.40" fill="none"/>
<path d="M326.25 13.00 L330.20 13.00" stroke="#111" stroke-width="1.40" fill="none"/>
<path d="M417.40 119.40 L417.40 116.20" stroke="#111" stroke-width="1.20" fill="none"/>
<path d="M508.80 119.40 L508.80 116.20" stroke="#111" stroke-width="1.20" fill="none"/>
<text x="316.90" y="122.80" font-size="10.70" text-anchor="end" font-family="Liberation Sans" font-weight="normal">0</text>
<text x="316.90" y="69.70" font-size="10.70" text-anchor="end" font-family="Liberation Sans" font-weight="normal">3000</text>
<text x="316.90" y="16.80" font-size="10.70" text-anchor="end" font-family="Liberation Sans" font-weight="normal">6000</text>
<text x="327.00" y="135.90" font-size="10.70" text-anchor="middle" font-family="Liberation Sans" font-weight="normal">0</text>
<text x="417.30" y="135.90" font-size="10.70" text-anchor="middle" font-family="Liberation Sans" font-weight="normal">500</text>
<text x="508.40" y="135.90" font-size="10.70" text-anchor="middle" font-family="Liberation Sans" font-weight="normal">1000</text>
<text x="417.30" y="151.80" font-size="10.70" text-anchor="middle" font-family="Liberation Sans" font-weight="normal">Channel</text>
<text transform="translate(287.60,66.20) rotate(-90)" font-size="10.70" text-anchor="middle" font-family="Liberation Sans">Counts</text>
<path d="M327.0 114.3 327.4 114.3 327.9 114.3 328.3 114.3 328.7 114.1 329.2 113.6 329.6 113.3 330.0 113.4 330.5 114.0 330.9 114.6 331.3 114.6 331.8 114.5 332.2 114.6 332.6 114.9 333.1 114.8 333.5 114.3 333.9 114.0 334.4 114.2 334.8 114.4 335.2 114.5 335.7 114.6 336.1 114.6 336.5 113.5 337.0 110.0 337.4 106.8 337.8 104.0 338.3 101.4 338.7 98.7 339.1 95.9 339.6 93.3 340.0 91.0 340.5 89.1 340.9 87.4 341.3 85.3 341.8 82.9 342.2 80.5 342.6 78.4 343.1 76.9 343.5 75.8 343.9 74.8 344.4 73.5 344.8 71.7 345.2 70.0 345.7 68.5 346.1 67.4 346.5 66.3 347.0 65.2 347.4 63.7 347.8 62.1 348.3 60.6 348.7 59.6 349.1 58.6 349.6 57.3 350.0 56.1 350.4 55.3 350.9 54.8 351.3 54.2 351.7 53.3 352.2 52.5 352.6 51.6 353.0 50.8 353.5 50.1 353.9 49.6 354.3 49.2 354.8 48.6 355.2 47.6 355.6 46.4 356.1 45.3 356.5 44.4 356.9 43.8 357.4 43.5 357.8 43.3 358.2 43.0 358.7 42.4 359.1 41.5 359.5 40.4 360.0 39.4 360.4 38.7 360.8 38.3 361.3 37.9 361.7 37.5 362.1 36.9 362.6 36.3 363.0 35.8 363.4 35.8 363.9 35.8 364.3 35.4 364.7 34.5 365.2 33.7 365.6 33.4 366.1 33.4 366.5 33.2 366.9 32.6 367.4 31.9 367.8 31.5 368.2 31.0 368.7 30.6 369.1 30.1 369.5 29.8 370.0 29.6 370.4 29.7 370.8 29.8 371.3 29.8 371.7 29.5 372.1 29.0 372.6 28.7 373.0 28.5 373.4 28.4 373.9 28.3 374.3 28.1 374.7 27.9 375.2 27.5 375.6 27.1 376.0 27.1 376.5 27.2 376.9 27.2 377.3 26.7 377.8 26.1 378.2 25.8 378.6 25.7 379.1 25.4 379.5 25.2 379.9 25.1 380.4 25.0 380.8 24.6 381.2 24.5 381.7 24.5 382.1 24.3 382.5 24.0 383.0 23.9 383.4 23.8 383.8 23.6 384.3 23.5 384.7 23.6 385.1 23.7 385.6 23.6 386.0 23.4 386.4 23.4 386.9 23.2 387.3 22.8 387.7 22.3 388.2 22.0 388.6 22.0 389.0 22.3 389.5 22.4 389.9 22.1 390.3 21.8 390.8 23.0 391.2 25.3 391.6 27.4 392.1 29.5 392.5 31.5 393.0 33.5 393.4 35.4 393.8 37.7 394.3 39.9 394.7 41.7 395.1 43.3 395.6 45.1 396.0 47.2 396.4 49.1 396.9 50.6 397.3 52.1 397.7 53.7 398.2 55.1 398.6 56.5 399.0 57.9 399.5 59.3 399.9 60.6 400.3 61.9 400.8 63.4 401.2 64.9 401.6 66.5 402.1 68.1 402.5 69.3 402.9 70.4 403.4 71.5 403.8 72.7 404.2 74.0 404.7 75.2 405.1 76.3 405.5 77.3 406.0 78.7 406.4 80.1 406.8 81.1 407.3 81.9 407.7 82.8 408.1 83.9 408.6 84.9 409.0 85.5 409.4 85.9 409.9 86.6 410.3 87.9 410.7 89.0 411.2 89.5 411.6 89.6 412.0 90.0 412.5 90.6 412.9 91.5 413.3 92.5 413.8 93.4 414.2 94.0 414.6 94.2 415.1 94.5 415.5 94.7 415.9 95.2 416.4 96.0 416.8 96.8 417.2 97.1 417.7 97.6 418.1 98.4 418.6 99.3 419.0 99.8 419.4 99.9 419.9 100.0 420.3 100.3 420.7 100.5 421.2 100.6 421.6 100.7 422.0 101.0 422.5 101.6 422.9 102.3 423.3 103.1 423.8 103.9 424.2 104.3 424.6 104.2 425.1 103.9 425.5 103.9 425.9 104.2 426.4 104.6 426.8 105.3 427.2 106.0 427.7 106.3 428.1 106.0 428.5 106.0 429.0 106.3 429.4 106.8 429.8 107.3 430.3 107.6 430.7 107.5 431.1 107.3 431.6 107.2 432.0 107.5 432.4 108.1 432.9 108.7 433.3 109.1 433.7 109.4 434.2 109.7 434.6 109.6 435.0 109.2 435.5 109.2 435.9 109.6 436.3 110.2 436.8 110.2 437.2 109.9 437.6 110.0 438.1 110.6 438.5 111.0 438.9 111.1 439.4 110.8 439.8 110.5 440.2 110.5 440.7 110.5 441.1 110.6 441.5 110.8 442.0 111.2 442.4 111.4 442.8 111.5 443.3 111.6 443.7 111.8 444.2 111.7 444.6 111.3 445.0 110.8 445.5 110.6 445.9 110.9 446.3 111.5 446.8 112.0 447.2 112.1 447.6 112.0 448.1 112.0 448.5 112.1 448.9 112.2 449.4 112.2 449.8 112.4 450.2 112.9 450.7 113.5 451.1 113.7 451.5 113.5 452.0 113.3 452.4 113.3 452.8 113.3 453.3 113.0 453.7 112.8 454.1 112.9 454.6 113.4 455.0 113.7 455.4 113.4 455.9 112.8 456.3 112.6 456.7 112.7 457.2 112.8 457.6 112.7 458.0 112.5 458.5 112.5 458.9 112.9 459.3 113.2 459.8 113.1 460.2 113.0 460.6 113.2 461.1 113.6 461.5 113.6 461.9 113.3 462.4 113.2 462.8 113.3 463.2 113.5 463.7 113.6 464.1 113.8 464.5 113.9 465.0 114.0 465.4 114.2 465.8 114.1 466.3 113.9 466.7 113.8 467.1 113.8 467.6 113.5 468.0 113.2 468.4 113.1 468.9 113.3 469.3 113.7 469.7 114.1 470.2 114.4 470.6 114.6 471.1 114.7 471.5 114.6 471.9 114.3 472.4 113.9 472.8 113.6 473.2 113.7 473.7 114.2 474.1 115.0 474.5 115.3 475.0 115.0 475.4 114.3 475.8 114.1 476.3 114.3 476.7 114.4 477.1 114.3 477.6 114.4 478.0 114.7 478.4 115.1 478.9 115.1 479.3 114.7 479.7 114.1 480.2 113.6 480.6 113.5 481.0 113.7 481.5 114.0 481.9 114.4 482.3 114.6 482.8 114.4 483.2 113.9 483.6 113.5 484.1 113.5 484.5 113.5 484.9 113.6 485.4 113.7 485.8 113.7 486.2 113.7 486.7 113.8 487.1 114.0 487.5 114.2 488.0 114.2 488.4 114.3 488.8 114.6 489.3 114.9 489.7 114.7 490.1 114.6 490.6 114.5 491.0 114.4 491.4 114.2 491.9 114.1 492.3 114.3 492.7 114.4 493.2 114.3 493.6 113.9 494.0 113.4 494.5 113.3 494.9 113.7 495.3 114.3 495.8 114.8 496.2 115.2 496.7 115.2 497.1 114.8 497.5 114.1 498.0 113.6 498.4 113.8 498.8 114.2 499.3 114.6 499.7 114.8 500.1 114.7 500.6 114.4 501.0 114.0 501.4 114.1 501.9 114.5 502.3 114.7 502.7 114.5 503.2 114.3 503.6 114.3 504.0 114.5 504.5 114.4 504.9 114.1 505.3 114.2 505.8 114.5 506.2 114.7 506.6 114.6 507.1 114.5 507.5 114.5 507.9 114.1 508.4 113.7 508.8 113.7" stroke="#ff0000" stroke-width="2.30" fill="none" stroke-linejoin="round" stroke-linecap="round"/>
<path d="M327.0 114.4 327.4 114.1 327.9 113.6 328.3 113.5 328.7 113.8 329.2 114.0 329.6 114.1 330.0 114.3 330.5 114.6 330.9 114.8 331.3 114.9 331.8 114.8 332.2 114.6 332.6 114.2 333.1 114.1 333.5 114.2 333.9 114.4 334.4 114.3 334.8 114.2 335.2 114.3 335.7 114.4 336.1 114.4 336.5 114.2 337.0 114.2 337.4 114.1 337.8 113.1 338.3 112.1 338.7 111.2 339.1 110.0 339.6 108.5 340.0 107.0 340.5 106.1 340.9 105.6 341.3 104.9 341.8 103.7 342.2 102.5 342.6 101.8 343.1 101.5 343.5 101.1 343.9 100.3 344.4 99.4 344.8 98.7 345.2 98.3 345.7 97.9 346.1 97.4 346.5 96.9 347.0 96.3 347.4 95.8 347.8 95.1 348.3 94.4 348.7 93.6 349.1 93.0 349.6 92.6 350.0 92.5 350.4 92.4 350.9 92.2 351.3 91.8 351.7 91.1 352.2 90.5 352.6 90.2 353.0 90.3 353.5 90.4 353.9 90.2 354.3 89.7 354.8 89.1 355.2 88.8 355.6 88.5 356.1 87.9 356.5 87.2 356.9 86.8 357.4 86.9 357.8 87.1 358.2 87.2 358.7 86.9 359.1 86.6 359.5 86.4 360.0 86.2 360.4 85.9 360.8 85.5 361.3 85.1 361.7 84.7 362.1 84.5 362.6 84.3 363.0 84.3 363.4 84.3 363.9 84.3 364.3 84.3 364.7 84.2 365.2 83.9 365.6 83.5 366.1 83.0 366.5 82.4 366.9 81.8 367.4 81.4 367.8 81.4 368.2 81.7 368.7 81.8 369.1 81.8 369.5 81.9 370.0 82.0 370.4 81.9 370.8 81.4 371.3 81.0 371.7 80.6 372.1 80.5 372.6 80.5 373.0 80.4 373.4 80.2 373.9 80.1 374.3 79.9 374.7 79.6 375.2 79.2 375.6 79.2 376.0 79.4 376.5 79.5 376.9 79.7 377.3 79.5 377.8 79.1 378.2 78.6 378.6 78.7 379.1 79.0 379.5 79.2 379.9 79.1 380.4 78.8 380.8 78.3 381.2 77.6 381.7 77.1 382.1 76.8 382.5 76.7 383.0 76.8 383.4 76.8 383.8 76.6 384.3 76.2 384.7 76.2 385.1 76.7 385.6 77.5 386.0 78.0 386.4 77.8 386.9 76.7 387.3 75.5 387.7 74.9 388.2 74.9 388.6 75.0 389.0 75.0 389.5 75.0 389.9 75.4 390.3 76.4 390.8 77.1 391.2 77.3 391.6 77.5 392.1 78.0 392.5 79.1 393.0 80.5 393.4 81.6 393.8 82.3 394.3 82.5 394.7 82.6 395.1 82.7 395.6 83.4 396.0 84.5 396.4 85.5 396.9 86.1 397.3 86.4 397.7 86.9 398.2 87.6 398.6 88.1 399.0 88.4 399.5 88.7 399.9 89.2 400.3 89.6 400.8 89.8 401.2 90.0 401.6 90.6 402.1 91.7 402.5 92.6 402.9 92.9 403.4 93.2 403.8 93.7 404.2 94.2 404.7 94.5 405.1 94.8 405.5 95.4 406.0 96.0 406.4 96.3 406.8 96.0 407.3 95.9 407.7 96.5 408.1 97.5 408.6 98.1 409.0 98.2 409.4 98.2 409.9 98.3 410.3 98.4 410.7 98.6 411.2 99.0 411.6 99.4 412.0 99.7 412.5 100.1 412.9 100.7 413.3 101.2 413.8 101.2 414.2 100.9 414.6 100.7 415.1 100.8 415.5 101.0 415.9 101.2 416.4 101.6 416.8 102.2 417.2 102.6 417.7 102.7 418.1 102.8 418.6 103.1 419.0 103.7 419.4 104.3 419.9 104.7 420.3 104.8 420.7 104.5 421.2 104.4 421.6 104.6 422.0 104.9 422.5 105.0 422.9 105.1 423.3 105.5 423.8 106.4 424.2 107.1 424.6 107.0 425.1 106.3 425.5 105.7 425.9 105.7 426.4 106.2 426.8 106.8 427.2 107.1 427.7 106.8 428.1 106.3 428.5 106.2 429.0 106.5 429.4 106.8 429.8 107.0 430.3 107.2 430.7 107.1 431.1 107.2 431.6 107.7 432.0 108.1 432.4 108.3 432.9 108.7 433.3 109.5 433.7 109.8 434.2 109.3 434.6 109.0 435.0 109.3 435.5 109.5 435.9 109.4 436.3 109.4 436.8 109.6 437.2 109.8 437.6 109.5 438.1 109.3 438.5 109.2 438.9 109.4 439.4 109.7 439.8 110.0 440.2 110.2 440.7 110.5 441.1 110.8 441.5 110.8 442.0 110.7 442.4 110.6 442.8 110.5 443.3 110.5 443.7 110.8 444.2 111.4 444.6 112.0 445.0 112.0 445.5 111.4 445.9 110.9 446.3 110.9 446.8 111.3 447.2 111.5 447.6 111.3 448.1 111.2 448.5 111.4 448.9 111.4 449.4 111.3 449.8 111.3 450.2 111.5 450.7 111.6 451.1 111.6 451.5 111.6 452.0 111.9 452.4 112.0 452.8 111.8 453.3 111.5 453.7 111.5 454.1 111.9 454.6 112.0 455.0 111.7 455.4 111.8 455.9 112.2 456.3 112.5 456.7 112.4 457.2 112.3 457.6 112.3 458.0 112.1 458.5 112.1 458.9 112.5 459.3 113.1 459.8 113.6 460.2 113.7 460.6 113.7 461.1 113.7 461.5 113.6 461.9 113.5 462.4 113.2 462.8 112.9 463.2 112.7 463.7 112.7 464.1 112.8 464.5 112.9 465.0 113.0 465.4 113.3 465.8 113.7 466.3 114.0 466.7 114.0 467.1 113.4 467.6 112.8 468.0 112.4 468.4 112.6 468.9 113.1 469.3 113.5 469.7 113.5 470.2 113.0 470.6 112.7 471.1 112.6 471.5 112.6 471.9 112.9 472.4 113.5 472.8 113.7 473.2 113.3 473.7 112.9 474.1 113.0 474.5 113.5 475.0 113.8 475.4 113.5 475.8 113.1 476.3 112.9 476.7 113.1 477.1 113.5 477.6 113.8 478.0 114.0 478.4 114.0 478.9 113.9 479.3 114.0 479.7 114.2 480.2 114.1 480.6 113.8 481.0 113.6 481.5 113.4 481.9 113.4 482.3 113.7 482.8 113.9 483.2 113.8 483.6 113.7 484.1 113.8 484.5 113.8 484.9 113.7 485.4 113.5 485.8 113.8 486.2 114.1 486.7 114.4 487.1 114.6 487.5 114.7 488.0 114.7 488.4 114.8 488.8 114.6 489.3 114.0 489.7 113.7 490.1 113.8 490.6 114.1 491.0 114.1 491.4 113.8 491.9 113.2 492.3 112.7 492.7 112.8 493.2 113.3 493.6 113.9 494.0 114.1 494.5 113.6 494.9 113.0 495.3 112.8 495.8 113.2 496.2 113.8 496.7 114.2 497.1 114.4 497.5 114.4 498.0 114.4 498.4 114.3 498.8 114.1 499.3 113.9 499.7 113.9 500.1 114.1 500.6 114.3 501.0 114.2 501.4 114.1 501.9 114.1 502.3 114.0 502.7 113.7 503.2 113.1 503.6 112.6 504.0 112.4 504.5 112.7 504.9 113.3 505.3 113.9 505.8 114.2 506.2 114.5 506.6 114.8 507.1 114.9 507.5 114.8 507.9 114.6 508.4 114.2 508.8 113.7" stroke="#0c0c24" stroke-width="2.30" fill="none" stroke-linejoin="round" stroke-linecap="round"/>
<path d="M327.0 114.5 327.4 114.0 327.9 113.2 328.3 113.4 328.7 114.3 329.2 114.6 329.6 114.2 330.0 114.3 330.5 114.9 330.9 115.0 331.3 114.3 331.8 113.9 332.2 113.8 332.6 113.8 333.1 114.0 333.5 114.2 333.9 114.3 334.4 114.2 334.8 114.4 335.2 114.8 335.7 113.9 336.1 113.5 336.5 113.5 337.0 112.3 337.4 112.1 337.8 111.9 338.3 110.9 338.7 109.4 339.1 108.3 339.6 108.4 340.0 108.0 340.5 107.4 340.9 107.3 341.3 105.9 341.8 104.5 342.2 104.3 342.6 104.9 343.1 105.2 343.5 104.8 343.9 104.0 344.4 103.7 344.8 103.7 345.2 102.9 345.7 102.8 346.1 103.4 346.5 103.3 347.0 103.0 347.4 102.7 347.8 102.0 348.3 101.9 348.7 102.0 349.1 101.7 349.6 101.7 350.0 101.3 350.4 101.1 350.9 101.2 351.3 100.9 351.7 100.9 352.2 101.4 352.6 101.2 353.0 100.4 353.5 100.2 353.9 100.5 354.3 100.8 354.8 101.0 355.2 100.8 355.6 100.7 356.1 101.3 356.5 101.1 356.9 100.0 357.4 99.9 357.8 100.4 358.2 100.5 358.7 100.5 359.1 99.8 359.5 99.4 360.0 99.3 360.4 98.5 360.8 99.3 361.3 100.6 361.7 100.2 362.1 99.5 362.6 99.1 363.0 99.2 363.4 99.8 363.9 100.0 364.3 98.6 364.7 97.8 365.2 99.1 365.6 99.9 366.1 98.8 366.5 97.8 366.9 98.2 367.4 98.9 367.8 98.9 368.2 98.3 368.7 97.7 369.1 98.3 369.5 99.1 370.0 98.7 370.4 98.6 370.8 99.3 371.3 99.4 371.7 98.6 372.1 98.6 372.6 99.0 373.0 98.7 373.4 98.9 373.9 99.5 374.3 99.0 374.7 97.9 375.2 97.5 375.6 98.1 376.0 98.4 376.5 98.4 376.9 98.5 377.3 97.7 377.8 97.2 378.2 97.7 378.6 97.8 379.1 97.4 379.5 97.2 379.9 97.6 380.4 97.9 380.8 98.1 381.2 98.0 381.7 97.5 382.1 97.7 382.5 98.1 383.0 98.7 383.4 99.2 383.8 98.6 384.3 98.4 384.7 98.2 385.1 97.8 385.6 98.2 386.0 98.6 386.4 98.3 386.9 98.3 387.3 98.0 387.7 97.3 388.2 97.4 388.6 98.5 389.0 99.0 389.5 99.2 389.9 99.6 390.3 100.2 390.8 101.0 391.2 101.7 391.6 102.4 392.1 103.7 392.5 105.0 393.0 105.4 393.4 105.8 393.8 106.7 394.3 107.4 394.7 107.6 395.1 108.0 395.6 108.9 396.0 108.6 396.4 107.7 396.9 108.4 397.3 109.7 397.7 110.4 398.2 110.6 398.6 110.3 399.0 109.9 399.5 109.7 399.9 109.4 400.3 110.2 400.8 110.9 401.2 111.2 401.6 112.6 402.1 112.6 402.5 111.8 402.9 112.2 403.4 112.6 403.8 112.5 404.2 112.6 404.7 112.5 405.1 112.7 405.5 113.1 406.0 113.3 406.4 113.3 406.8 113.5 407.3 113.8 407.7 113.5 408.1 112.7 408.6 113.0 409.0 114.3 409.4 114.7 409.9 114.0 410.3 113.7 410.7 114.1 411.2 113.8 411.6 113.1 412.0 113.0 412.5 113.0 412.9 113.2 413.3 114.1 413.8 114.2 414.2 113.2 414.6 113.4 415.1 114.3 415.5 114.6 415.9 114.3 416.4 113.7 416.8 113.6 417.2 114.1 417.7 114.5 418.1 114.3 418.6 114.1 419.0 113.9 419.4 113.6 419.9 113.8 420.3 113.7 420.7 113.8 421.2 114.1 421.6 114.6 422.0 114.9 422.5 114.6 422.9 113.9 423.3 114.5 423.8 115.0 424.2 115.1 424.6 115.0 425.1 114.1 425.5 114.3 425.9 115.0 426.4 114.7 426.8 114.3 427.2 114.4 427.7 114.1 428.1 113.8 428.5 114.1 429.0 114.7 429.4 115.3 429.8 115.7 430.3 114.9 430.7 113.9 431.1 114.0 431.6 113.9 432.0 113.9 432.4 114.0 432.9 113.7 433.3 113.6 433.7 113.9 434.2 114.2 434.6 114.2 435.0 114.6 435.5 115.2 435.9 115.1 436.3 114.9 436.8 115.4 437.2 115.8 437.6 115.2 438.1 114.2 438.5 114.5 438.9 115.0 439.4 114.9 439.8 114.5 440.2 114.1 440.7 113.8 441.1 113.6 441.5 113.9 442.0 114.5 442.4 114.1 442.8 113.8 443.3 114.2 443.7 114.3 444.2 114.1 444.6 114.2 445.0 114.2 445.5 114.4 445.9 114.5 446.3 114.3 446.8 114.0 447.2 113.9 447.6 113.9 448.1 113.9 448.5 114.5 448.9 114.9 449.4 115.4 449.8 115.1 450.2 114.3 450.7 114.1 451.1 114.5 451.5 114.8 452.0 114.8 452.4 114.8 452.8 114.8 453.3 114.7 453.7 114.2 454.1 114.2 454.6 114.4 455.0 114.1 455.4 114.5 455.9 115.1 456.3 114.6 456.7 114.4 457.2 114.5 457.6 113.9 458.0 114.1 458.5 114.5 458.9 114.2 459.3 114.2 459.8 114.7 460.2 114.7 460.6 113.9 461.1 113.6 461.5 114.1 461.9 114.5 462.4 114.8 462.8 115.0 463.2 115.2 463.7 114.7 464.1 113.5 464.5 113.2 465.0 113.6 465.4 113.8 465.8 114.2 466.3 114.5 466.7 114.5 467.1 115.0 467.6 115.1 468.0 114.5 468.4 114.4 468.9 114.6 469.3 114.3 469.7 114.4 470.2 114.9 470.6 115.1 471.1 114.8 471.5 114.7 471.9 114.7 472.4 114.5 472.8 114.5 473.2 114.5 473.7 114.0 474.1 113.6 474.5 113.7 475.0 113.9 475.4 114.9 475.8 115.5 476.3 115.0 476.7 114.9 477.1 114.7 477.6 114.2 478.0 114.3 478.4 114.2 478.9 114.2 479.3 114.5 479.7 114.1 480.2 114.1 480.6 114.9 481.0 115.1 481.5 114.8 481.9 114.3 482.3 113.8 482.8 114.0 483.2 114.3 483.6 114.2 484.1 114.5 484.5 114.7 484.9 114.8 485.4 115.2 485.8 114.9 486.2 113.9 486.7 113.8 487.1 114.3 487.5 114.8 488.0 115.5 488.4 115.1 488.8 114.0 489.3 113.4 489.7 113.6 490.1 114.0 490.6 113.9 491.0 113.5 491.4 113.7 491.9 114.2 492.3 113.9 492.7 113.2 493.2 113.3 493.6 114.1 494.0 114.7 494.5 115.1 494.9 115.2 495.3 114.7 495.8 113.8 496.2 113.5 496.7 114.1 497.1 114.6 497.5 114.0 498.0 113.7 498.4 114.6 498.8 114.8 499.3 114.2 499.7 113.6 500.1 113.4 500.6 113.9 501.0 113.9 501.4 114.1 501.9 115.4 502.3 115.7 502.7 115.0 503.2 114.2 503.6 113.7 504.0 114.1 504.5 114.5 504.9 114.4 505.3 114.3 505.8 114.1 506.2 114.0 506.6 114.7 507.1 114.9 507.5 114.2 507.9 114.4 508.4 115.4 508.8 114.8" stroke="#2e0a86" stroke-width="2.30" fill="none" stroke-linejoin="round" stroke-linecap="round"/>
<path d="M327.0 114.7 327.4 114.7 327.9 115.0 328.3 115.0 328.7 114.6 329.2 114.1 329.6 113.9 330.0 114.1 330.5 114.3 330.9 114.6 331.3 114.4 331.8 114.1 332.2 114.4 332.6 114.7 333.1 114.4 333.5 114.1 333.9 114.3 334.4 114.7 334.8 114.9 335.2 114.6 335.7 114.0 336.1 114.0 336.5 114.0 337.0 113.1 337.4 112.7 337.8 112.0 338.3 111.7 338.7 111.8 339.1 111.0 339.6 110.3 340.0 110.1 340.5 109.6 340.9 109.2 341.3 109.5 341.8 110.0 342.2 109.5 342.6 108.8 343.1 108.6 343.5 108.5 343.9 108.1 344.4 107.6 344.8 107.6 345.2 107.9 345.7 108.0 346.1 107.7 346.5 107.3 347.0 106.8 347.4 106.6 347.8 106.4 348.3 106.4 348.7 106.6 349.1 106.3 349.6 106.1 350.0 106.2 350.4 106.5 350.9 106.1 351.3 105.7 351.7 106.0 352.2 106.5 352.6 107.1 353.0 107.1 353.5 106.2 353.9 105.7 354.3 106.3 354.8 106.2 355.2 105.6 355.6 106.1 356.1 106.3 356.5 105.8 356.9 106.0 357.4 105.9 357.8 105.5 358.2 105.4 358.7 105.5 359.1 105.8 359.5 106.2 360.0 106.6 360.4 106.5 360.8 106.1 361.3 105.9 361.7 105.6 362.1 105.5 362.6 105.3 363.0 105.4 363.4 105.7 363.9 105.6 364.3 105.4 364.7 105.0 365.2 105.2 365.6 106.0 366.1 106.1 366.5 105.8 366.9 106.1 367.4 106.5 367.8 106.5 368.2 105.8 368.7 105.4 369.1 105.4 369.5 105.2 370.0 105.4 370.4 105.8 370.8 106.1 371.3 105.7 371.7 104.8 372.1 104.6 372.6 104.5 373.0 104.1 373.4 104.7 373.9 105.7 374.3 105.8 374.7 105.7 375.2 105.3 375.6 104.8 376.0 105.0 376.5 105.5 376.9 105.9 377.3 105.9 377.8 105.7 378.2 106.1 378.6 106.0 379.1 105.2 379.5 105.1 379.9 104.9 380.4 104.8 380.8 105.4 381.2 106.0 381.7 106.0 382.1 105.7 382.5 105.8 383.0 105.8 383.4 105.3 383.8 105.0 384.3 105.9 384.7 106.6 385.1 105.7 385.6 104.9 386.0 105.2 386.4 106.1 386.9 106.6 387.3 106.6 387.7 106.4 388.2 106.0 388.6 105.8 389.0 105.6 389.5 106.1 389.9 106.8 390.3 106.8 390.8 107.2 391.2 107.2 391.6 107.2 392.1 107.6 392.5 108.2 393.0 108.8 393.4 109.9 393.8 110.8 394.3 110.6 394.7 110.5 395.1 111.1 395.6 111.4 396.0 111.6 396.4 112.0 396.9 112.0 397.3 111.9 397.7 112.2 398.2 112.7 398.6 112.6 399.0 112.6 399.5 113.0 399.9 113.1 400.3 113.1 400.8 113.3 401.2 113.1 401.6 112.9 402.1 113.2 402.5 113.8 402.9 114.6 403.4 114.2 403.8 113.7 404.2 114.3 404.7 114.8 405.1 114.7 405.5 114.4 406.0 114.5 406.4 114.4 406.8 113.8 407.3 113.3 407.7 113.1 408.1 112.8 408.6 113.4 409.0 114.4 409.4 114.4 409.9 113.9 410.3 113.6 410.7 113.4 411.2 113.4 411.6 113.0 412.0 113.2 412.5 114.4 412.9 114.9 413.3 114.4 413.8 114.1 414.2 113.9 414.6 113.8 415.1 113.9 415.5 114.3 415.9 114.2 416.4 113.8 416.8 114.5 417.2 115.0 417.7 114.6 418.1 114.2 418.6 114.3 419.0 114.6 419.4 115.0 419.9 114.6 420.3 113.9 420.7 114.3 421.2 114.8 421.6 115.0 422.0 115.0 422.5 114.6 422.9 114.0 423.3 113.7 423.8 114.3 424.2 114.9 424.6 114.9 425.1 114.8 425.5 114.7 425.9 114.4 426.4 114.1 426.8 113.7 427.2 113.6 427.7 113.9 428.1 114.2 428.5 114.4 429.0 114.7 429.4 113.9 429.8 113.4 430.3 114.3 430.7 114.8 431.1 114.5 431.6 114.3 432.0 114.8 432.4 114.7 432.9 114.2 433.3 114.3 433.7 114.0 434.2 113.8 434.6 114.5 435.0 114.8 435.5 113.8 435.9 113.7 436.3 114.3 436.8 114.5 437.2 114.5 437.6 114.2 438.1 114.1 438.5 114.6 438.9 114.6 439.4 113.9 439.8 113.8 440.2 114.4 440.7 114.6 441.1 114.3 441.5 113.8 442.0 113.8 442.4 114.3 442.8 114.7 443.3 114.4 443.7 113.9 444.2 113.8 444.6 114.3 445.0 114.5 445.5 113.9 445.9 114.1 446.3 114.9 446.8 115.3 447.2 115.2 447.6 115.0 448.1 114.3 448.5 113.4 448.9 113.3 449.4 113.7 449.8 114.1 450.2 114.1 450.7 114.4 451.1 114.4 451.5 113.5 452.0 113.9 452.4 115.1 452.8 114.8 453.3 113.8 453.7 113.9 454.1 114.5 454.6 114.9 455.0 114.5 455.4 114.0 455.9 114.0 456.3 114.3 456.7 114.1 457.2 113.8 457.6 114.5 458.0 114.8 458.5 114.2 458.9 114.7 459.3 115.3 459.8 115.0 460.2 114.5 460.6 114.2 461.1 114.1 461.5 114.1 461.9 113.9 462.4 113.9 462.8 113.7 463.2 113.8 463.7 114.2 464.1 114.2 464.5 114.2 465.0 114.0 465.4 114.3 465.8 114.2 466.3 113.6 466.7 113.6 467.1 113.6 467.6 113.9 468.0 114.2 468.4 113.6 468.9 113.5 469.3 114.4 469.7 114.7 470.2 114.3 470.6 114.3 471.1 114.6 471.5 114.6 471.9 114.2 472.4 114.3 472.8 114.9 473.2 115.2 473.7 115.4 474.1 115.7 474.5 115.0 475.0 114.7 475.4 115.0 475.8 114.8 476.3 114.4 476.7 114.3 477.1 114.1 477.6 113.6 478.0 113.4 478.4 113.3 478.9 113.4 479.3 114.2 479.7 114.2 480.2 113.9 480.6 114.0 481.0 114.1 481.5 114.7 481.9 114.8 482.3 114.2 482.8 114.5 483.2 114.9 483.6 114.8 484.1 114.4 484.5 113.7 484.9 113.2 485.4 113.4 485.8 114.1 486.2 114.8 486.7 114.8 487.1 114.9 487.5 114.6 488.0 113.6 488.4 113.2 488.8 113.6 489.3 113.8 489.7 113.5 490.1 114.0 490.6 114.9 491.0 115.3 491.4 115.0 491.9 114.2 492.3 113.8 492.7 114.0 493.2 114.0 493.6 114.1 494.0 114.3 494.5 114.8 494.9 115.3 495.3 115.4 495.8 114.9 496.2 114.6 496.7 114.5 497.1 114.1 497.5 113.5 498.0 113.4 498.4 113.9 498.8 114.5 499.3 114.7 499.7 114.6 500.1 114.4 500.6 114.5 501.0 114.9 501.4 114.7 501.9 114.4 502.3 114.5 502.7 114.5 503.2 114.7 503.6 114.8 504.0 114.2 504.5 114.0 504.9 114.2 505.3 114.7 505.8 115.3 506.2 115.4 506.6 114.5 507.1 113.7 507.5 114.1 507.9 114.7 508.4 114.6 508.8 114.3" stroke="#0a88f0" stroke-width="2.30" fill="none" stroke-linejoin="round" stroke-linecap="round"/>
<path d="M327.0 113.7 327.4 114.4 327.9 114.9 328.3 115.3 328.7 114.7 329.2 115.0 329.6 115.1 330.0 115.2 330.5 114.3 330.9 115.1 331.3 114.8 331.8 114.4 332.2 114.4 332.6 114.7 333.1 114.2 333.5 113.9 333.9 114.8 334.4 115.3 334.8 114.7 335.2 115.2 335.7 114.6 336.1 114.2 336.5 113.8 337.0 114.3 337.4 115.7 337.8 114.7 338.3 113.7 338.7 114.8 339.1 114.6 339.6 114.5 340.0 114.4 340.5 114.3 340.9 114.6 341.3 113.7 341.8 114.1 342.2 114.6 342.6 115.3 343.1 115.1 343.5 115.9 343.9 115.5 344.4 113.7 344.8 115.1 345.2 115.4 345.7 114.9 346.1 113.2 346.5 114.6 347.0 114.3 347.4 115.0 347.8 115.5 348.3 115.2 348.7 114.2 349.1 115.3 349.6 114.8 350.0 115.4 350.4 114.6 350.9 114.9 351.3 114.8 351.7 114.7 352.2 115.7 352.6 115.3 353.0 115.0 353.5 114.0 353.9 114.4 354.3 114.8 354.8 115.1 355.2 113.8 355.6 115.3 356.1 114.1 356.5 114.0 356.9 115.4 357.4 114.4 357.8 114.7 358.2 115.4 358.7 115.1 359.1 114.1 359.5 114.4 360.0 114.4 360.4 115.0 360.8 114.9 361.3 115.4 361.7 115.1 362.1 115.3 362.6 114.2 363.0 114.6 363.4 113.8 363.9 113.7 364.3 113.7 364.7 114.3 365.2 115.7 365.6 114.1 366.1 114.8 366.5 114.7 366.9 114.5 367.4 114.7 367.8 115.4 368.2 114.1 368.7 114.4 369.1 114.2 369.5 114.6 370.0 116.4 370.4 115.9 370.8 116.0 371.3 114.0 371.7 113.9 372.1 115.3 372.6 114.0 373.0 115.0 373.4 114.0 373.9 115.5 374.3 114.7 374.7 114.1 375.2 116.5 375.6 114.9 376.0 114.1 376.5 114.2 376.9 115.5 377.3 113.3 377.8 115.3 378.2 114.0 378.6 114.9 379.1 113.2 379.5 114.7 379.9 115.1 380.4 115.0 380.8 114.6 381.2 114.3 381.7 114.6 382.1 113.7 382.5 114.2 383.0 115.5 383.4 114.4 383.8 114.7 384.3 115.6 384.7 114.9 385.1 114.8 385.6 115.4 386.0 115.0 386.4 114.5 386.9 114.9 387.3 115.6 387.7 115.8 388.2 113.3 388.6 115.7 389.0 115.2 389.5 114.6 389.9 115.3 390.3 113.9 390.8 115.0 391.2 115.1 391.6 114.6 392.1 113.4 392.5 114.8 393.0 114.2 393.4 115.0 393.8 115.2 394.3 115.8 394.7 114.9 395.1 115.2 395.6 115.2 396.0 114.4 396.4 115.0 396.9 116.4 397.3 114.5 397.7 115.2 398.2 114.8 398.6 115.3 399.0 114.3 399.5 115.7 399.9 114.8 400.3 114.4 400.8 114.5 401.2 115.1 401.6 114.3 402.1 115.3 402.5 113.7 402.9 114.7 403.4 115.6 403.8 115.7 404.2 114.9 404.7 114.5 405.1 114.8 405.5 115.3 406.0 114.9 406.4 115.1 406.8 115.0 407.3 113.7 407.7 114.8 408.1 114.9 408.6 114.5 409.0 115.1 409.4 114.3 409.9 114.5 410.3 114.5 410.7 115.9 411.2 114.1 411.6 114.7 412.0 115.4 412.5 115.2 412.9 114.0 413.3 114.8 413.8 113.7 414.2 115.1 414.6 115.2 415.1 114.5 415.5 114.1 415.9 114.4 416.4 114.3 416.8 113.8 417.2 114.9 417.7 115.4 418.1 114.5 418.6 114.2 419.0 114.3 419.4 115.5 419.9 114.2 420.3 114.1 420.7 115.2 421.2 114.9 421.6 115.5 422.0 115.0 422.5 114.3 422.9 115.5 423.3 114.0 423.8 115.1 424.2 114.6 424.6 115.5 425.1 113.8 425.5 115.0 425.9 114.6 426.4 114.9 426.8 115.1 427.2 114.5 427.7 114.7 428.1 115.7 428.5 114.8 429.0 116.2 429.4 114.8 429.8 113.9 430.3 113.7 430.7 115.6 431.1 114.5 431.6 114.1 432.0 115.8 432.4 114.6 432.9 113.8 433.3 115.2 433.7 114.8 434.2 114.3 434.6 114.9 435.0 114.3 435.5 114.2 435.9 115.3 436.3 115.0 436.8 114.7 437.2 112.8 437.6 114.3 438.1 114.7 438.5 115.5 438.9 115.1 439.4 115.9 439.8 113.5 440.2 114.3 440.7 114.9 441.1 114.0 441.5 114.8 442.0 115.0 442.4 115.1 442.8 115.3 443.3 113.7 443.7 113.3 444.2 114.6 444.6 114.9 445.0 114.2 445.5 114.4 445.9 114.5 446.3 115.2 446.8 115.0 447.2 115.3 447.6 115.0 448.1 116.4 448.5 114.6 448.9 114.8 449.4 114.9 449.8 115.7 450.2 116.3 450.7 115.0 451.1 115.0 451.5 115.6 452.0 114.5 452.4 114.6 452.8 113.1 453.3 115.0 453.7 113.7 454.1 115.3 454.6 114.8 455.0 114.1 455.4 114.7 455.9 114.7 456.3 114.6 456.7 114.7 457.2 114.9 457.6 114.9 458.0 114.7 458.5 115.0 458.9 114.8 459.3 114.9 459.8 114.8 460.2 114.4 460.6 114.3 461.1 114.7 461.5 114.5 461.9 115.5 462.4 115.0 462.8 113.9 463.2 115.2 463.7 114.7 464.1 115.1 464.5 114.5 465.0 114.9 465.4 115.0 465.8 114.0 466.3 115.2 466.7 114.4 467.1 114.2 467.6 114.6 468.0 114.2 468.4 113.8 468.9 115.1 469.3 115.3 469.7 114.4 470.2 114.8 470.6 115.7 471.1 114.5 471.5 114.7 471.9 114.9 472.4 115.4 472.8 114.1 473.2 115.2 473.7 114.9 474.1 114.6 474.5 115.3 475.0 114.3 475.4 116.0 475.8 114.5 476.3 114.2 476.7 114.8 477.1 113.7 477.6 113.4 478.0 114.0 478.4 115.2 478.9 115.3 479.3 115.1 479.7 115.3 480.2 114.3 480.6 115.2 481.0 114.7 481.5 116.3 481.9 115.6 482.3 114.5 482.8 114.8 483.2 113.6 483.6 115.4 484.1 116.0 484.5 115.0 484.9 115.3 485.4 113.8 485.8 115.2 486.2 114.6 486.7 115.3 487.1 114.2 487.5 114.6 488.0 113.6 488.4 115.2 488.8 112.6 489.3 116.0 489.7 116.1 490.1 114.6 490.6 113.8 491.0 116.1 491.4 114.5 491.9 113.8 492.3 114.7 492.7 114.8 493.2 115.7 493.6 114.8 494.0 114.9 494.5 114.5 494.9 115.0 495.3 114.2 495.8 114.9 496.2 114.1 496.7 115.3 497.1 114.4 497.5 114.8 498.0 115.1 498.4 113.6 498.8 114.2 499.3 114.5 499.7 114.7 500.1 115.0 500.6 115.2 501.0 115.6 501.4 115.1 501.9 114.4 502.3 114.4 502.7 115.0 503.2 115.4 503.6 114.9 504.0 115.3 504.5 116.2 504.9 113.7 505.3 114.6 505.8 115.1 506.2 115.8 506.6 114.1 507.1 114.7 507.5 115.3 507.9 115.4 508.4 113.7 508.8 114.4" stroke="#333333" stroke-width="2.30" fill="none" stroke-linejoin="round" stroke-linecap="round"/>
<path d="M327.0 115.0 327.4 116.0 327.9 115.1 328.3 115.7 328.7 114.6 329.2 114.4 329.6 115.3 330.0 115.0 330.5 115.4 330.9 115.6 331.3 115.5 331.8 114.6 332.2 114.4 332.6 114.7 333.1 115.4 333.5 116.3 333.9 115.3 334.4 114.0 334.8 115.2 335.2 115.8 335.7 115.4 336.1 114.5 336.5 115.3 337.0 115.6 337.4 115.8 337.8 114.1 338.3 114.8 338.7 115.6 339.1 116.5 339.6 116.0 340.0 114.6 340.5 115.9 340.9 115.0 341.3 115.2 341.8 114.9 342.2 115.5 342.6 116.3 343.1 114.7 343.5 115.8 343.9 115.3 344.4 115.8 344.8 115.8 345.2 115.2 345.7 115.7 346.1 115.9 346.5 114.6 347.0 116.1 347.4 115.3 347.8 116.2 348.3 113.6 348.7 115.3 349.1 115.0 349.6 114.9 350.0 114.1 350.4 115.2 350.9 115.1 351.3 114.6 351.7 114.7 352.2 115.8 352.6 115.1 353.0 115.9 353.5 116.6 353.9 115.3 354.3 115.3 354.8 114.3 355.2 114.0 355.6 115.1 356.1 114.9 356.5 115.7 356.9 115.9 357.4 115.1 357.8 115.5 358.2 114.8 358.7 114.6 359.1 114.3 359.5 115.5 360.0 115.9 360.4 114.0 360.8 114.7 361.3 115.6 361.7 115.5 362.1 115.5 362.6 114.6 363.0 116.1 363.4 114.6 363.9 115.4 364.3 115.8 364.7 115.7 365.2 115.6 365.6 115.2 366.1 115.1 366.5 114.2 366.9 115.8 367.4 116.3 367.8 113.6 368.2 115.5 368.7 115.2 369.1 114.8 369.5 115.0 370.0 114.2 370.4 115.7 370.8 115.2 371.3 115.6 371.7 116.1 372.1 115.6 372.6 114.7 373.0 116.0 373.4 115.2 373.9 115.3 374.3 114.8 374.7 115.3 375.2 115.0 375.6 114.8 376.0 114.9 376.5 116.0 376.9 115.9 377.3 114.8 377.8 113.9 378.2 115.4 378.6 114.7 379.1 114.8 379.5 115.6 379.9 116.4 380.4 115.6 380.8 115.3 381.2 115.4 381.7 115.4 382.1 115.0 382.5 115.5 383.0 115.3 383.4 115.6 383.8 115.4 384.3 116.0 384.7 115.7 385.1 115.5 385.6 115.0 386.0 116.3 386.4 116.4 386.9 116.1 387.3 115.9 387.7 114.6 388.2 115.3 388.6 117.1 389.0 114.9 389.5 114.7 389.9 114.8 390.3 113.9 390.8 115.4 391.2 115.4 391.6 114.4 392.1 116.1 392.5 114.8 393.0 115.4 393.4 114.7 393.8 115.1 394.3 115.8 394.7 113.9 395.1 116.0 395.6 114.8 396.0 115.7 396.4 116.3 396.9 115.9 397.3 114.5 397.7 116.7 398.2 116.3 398.6 116.3 399.0 114.8 399.5 115.0 399.9 114.9 400.3 115.6 400.8 115.8 401.2 114.1 401.6 116.1 402.1 115.9 402.5 115.4 402.9 115.1 403.4 113.5 403.8 114.9 404.2 115.9 404.7 113.5 405.1 115.1 405.5 114.6 406.0 115.2 406.4 115.4 406.8 115.4 407.3 114.0 407.7 115.1 408.1 115.3 408.6 115.9 409.0 116.0 409.4 115.0 409.9 116.2 410.3 115.3 410.7 115.8 411.2 115.5 411.6 115.0 412.0 115.5 412.5 115.5 412.9 115.3 413.3 115.6 413.8 114.8 414.2 115.5 414.6 115.8 415.1 114.5 415.5 115.2 415.9 115.7 416.4 116.4 416.8 115.0 417.2 114.9 417.7 116.2 418.1 114.6 418.6 115.6 419.0 115.3 419.4 116.4 419.9 115.8 420.3 115.4 420.7 116.0 421.2 115.0 421.6 115.1 422.0 114.4 422.5 115.3 422.9 115.3 423.3 115.3 423.8 114.6 424.2 116.1 424.6 114.5 425.1 116.4 425.5 114.8 425.9 115.4 426.4 115.1 426.8 114.8 427.2 116.0 427.7 114.5 428.1 116.6 428.5 114.8 429.0 114.9 429.4 116.1 429.8 114.4 430.3 116.3 430.7 116.3 431.1 114.5 431.6 116.2 432.0 115.7 432.4 115.2 432.9 115.6 433.3 116.0 433.7 115.5 434.2 115.5 434.6 115.3 435.0 115.3 435.5 114.8 435.9 115.2 436.3 114.8 436.8 115.4 437.2 113.9 437.6 115.2 438.1 114.7 438.5 115.0 438.9 115.2 439.4 114.8 439.8 116.2 440.2 115.8 440.7 116.0 441.1 116.2 441.5 114.7 442.0 115.4 442.4 115.4 442.8 115.4 443.3 114.7 443.7 114.9 444.2 114.4 444.6 114.9 445.0 114.9 445.5 115.1 445.9 115.4 446.3 113.8 446.8 114.6 447.2 115.0 447.6 114.9 448.1 115.4 448.5 114.3 448.9 115.2 449.4 115.2 449.8 115.0 450.2 115.5 450.7 115.8 451.1 115.1 451.5 115.5 452.0 114.9 452.4 115.2 452.8 115.7 453.3 114.1 453.7 115.0 454.1 115.0 454.6 113.9 455.0 115.1 455.4 116.6 455.9 117.0 456.3 116.1 456.7 115.4 457.2 115.5 457.6 115.2 458.0 114.7 458.5 114.3 458.9 115.7 459.3 115.3 459.8 114.6 460.2 114.5 460.6 115.3 461.1 114.8 461.5 114.8 461.9 115.6 462.4 115.2 462.8 114.3 463.2 114.7 463.7 115.2 464.1 115.0 464.5 115.1 465.0 114.9 465.4 114.8 465.8 115.8 466.3 114.5 466.7 115.4 467.1 115.2 467.6 115.0 468.0 115.5 468.4 115.8 468.9 114.6 469.3 114.8 469.7 115.2 470.2 114.8 470.6 114.9 471.1 115.4 471.5 115.2 471.9 114.6 472.4 114.3 472.8 114.5 473.2 115.3 473.7 114.9 474.1 115.8 474.5 115.6 475.0 115.5 475.4 114.7 475.8 115.4 476.3 114.9 476.7 115.1 477.1 114.3 477.6 115.2 478.0 115.4 478.4 114.8 478.9 115.1 479.3 114.0 479.7 114.8 480.2 116.0 480.6 115.7 481.0 114.7 481.5 115.0 481.9 113.7 482.3 114.6 482.8 116.4 483.2 114.7 483.6 115.9 484.1 115.2 484.5 114.8 484.9 114.7 485.4 115.4 485.8 115.4 486.2 115.0 486.7 114.9 487.1 115.2 487.5 114.8 488.0 114.4 488.4 114.8 488.8 114.8 489.3 114.6 489.7 115.5 490.1 115.9 490.6 115.6 491.0 115.9 491.4 113.9 491.9 115.2 492.3 115.2 492.7 116.0 493.2 114.1 493.6 114.7 494.0 116.1 494.5 115.1 494.9 115.4 495.3 115.9 495.8 114.6 496.2 116.0 496.7 115.0 497.1 116.6 497.5 115.3 498.0 115.2 498.4 114.2 498.8 115.5 499.3 114.4 499.7 115.1 500.1 114.0 500.6 114.5 501.0 115.0 501.4 115.9 501.9 115.0 502.3 115.4 502.7 114.8 503.2 115.6 503.6 115.6 504.0 115.7 504.5 114.8 504.9 115.8 505.3 115.8 505.8 115.6 506.2 114.7 506.6 114.2 507.1 115.0 507.5 115.2 507.9 114.8 508.4 115.8 508.8 115.1" stroke="#0a8a0a" stroke-width="2.30" fill="none" stroke-linejoin="round" stroke-linecap="round"/>
<path d="M327.0 113.5 327.4 114.1 327.9 112.7 328.3 112.6 328.7 112.9 329.2 112.8 329.6 113.5 330.0 113.7 330.5 113.9 330.9 113.1 331.3 114.0 331.8 114.4 332.2 114.2 332.6 114.6 333.1 115.3 333.5 113.6 333.9 115.1 334.4 113.3 334.8 114.0 335.2 114.7 335.7 115.0 336.1 114.5 336.5 114.5 337.0 114.9 337.4 114.1 337.8 114.5 338.3 113.5 338.7 112.9 339.1 112.5 339.6 115.1 340.0 114.5 340.5 112.7 340.9 113.5 341.3 113.6 341.8 113.1 342.2 113.4 342.6 113.7 343.1 114.7 343.5 114.2 343.9 112.9 344.4 114.8 344.8 114.6 345.2 114.1 345.7 114.0 346.1 114.3 346.5 114.1 347.0 113.5 347.4 115.3 347.8 114.6 348.3 114.3 348.7 113.4 349.1 113.2 349.6 114.6 350.0 114.2 350.4 114.4 350.9 113.3 351.3 113.1 351.7 113.1 352.2 113.7 352.6 114.0 353.0 115.0 353.5 113.5 353.9 113.2 354.3 114.4 354.8 114.5 355.2 112.9 355.6 114.4 356.1 114.8 356.5 113.8 356.9 114.1 357.4 114.6 357.8 114.5 358.2 113.9 358.7 113.8 359.1 114.2 359.5 113.5 360.0 113.8 360.4 113.5 360.8 114.4 361.3 114.5 361.7 114.7 362.1 113.7 362.6 115.1 363.0 115.6 363.4 113.5 363.9 114.2 364.3 114.4 364.7 112.6 365.2 113.7 365.6 113.1 366.1 113.6 366.5 113.0 366.9 113.6 367.4 113.8 367.8 113.7 368.2 114.7 368.7 113.8 369.1 114.4 369.5 114.3 370.0 113.6 370.4 113.8 370.8 114.5 371.3 114.4 371.7 114.8 372.1 113.4 372.6 114.3 373.0 113.6 373.4 114.1 373.9 114.5 374.3 115.1 374.7 113.0 375.2 113.4 375.6 114.7 376.0 114.3 376.5 115.1 376.9 114.6 377.3 114.1 377.8 114.4 378.2 115.5 378.6 113.7 379.1 114.0 379.5 113.0 379.9 113.7 380.4 114.2 380.8 113.6 381.2 114.0 381.7 113.1 382.1 113.8 382.5 114.0 383.0 114.0 383.4 115.0 383.8 112.8 384.3 114.7 384.7 114.5 385.1 112.7 385.6 113.2 386.0 114.3 386.4 115.2 386.9 113.4 387.3 113.8 387.7 113.1 388.2 113.2 388.6 114.1 389.0 115.0 389.5 113.7 389.9 113.1 390.3 114.2 390.8 114.0 391.2 112.7 391.6 114.2 392.1 114.7 392.5 114.1 393.0 114.1 393.4 113.1 393.8 114.0 394.3 114.2 394.7 113.2 395.1 113.9 395.6 113.8 396.0 114.5 396.4 114.2 396.9 113.9 397.3 113.9 397.7 115.1 398.2 114.3 398.6 114.0 399.0 111.9 399.5 114.3 399.9 113.2 400.3 114.3 400.8 113.6 401.2 112.1 401.6 114.4 402.1 115.4 402.5 113.9 402.9 115.2 403.4 113.1 403.8 113.3 404.2 114.4 404.7 113.4 405.1 115.1 405.5 114.8 406.0 113.5 406.4 114.3 406.8 114.8 407.3 114.6 407.7 114.7 408.1 113.9 408.6 113.6 409.0 114.5 409.4 113.0 409.9 114.1 410.3 114.5 410.7 113.0 411.2 113.6 411.6 115.0 412.0 113.5 412.5 114.0 412.9 114.0 413.3 114.3 413.8 113.5 414.2 114.3 414.6 112.1 415.1 112.1 415.5 115.6 415.9 115.3 416.4 112.9 416.8 113.9 417.2 113.5 417.7 114.0 418.1 114.1 418.6 113.7 419.0 115.0 419.4 113.3 419.9 113.1 420.3 114.1 420.7 114.3 421.2 112.0 421.6 114.4 422.0 113.4 422.5 114.6 422.9 114.8 423.3 113.5 423.8 114.6 424.2 114.1 424.6 112.9 425.1 113.6 425.5 112.9 425.9 115.1 426.4 113.5 426.8 113.9 427.2 114.4 427.7 113.0 428.1 113.6 428.5 113.4 429.0 114.1 429.4 113.7 429.8 113.6 430.3 113.2 430.7 113.8 431.1 114.0 431.6 114.1 432.0 113.4 432.4 113.7 432.9 114.3 433.3 114.0 433.7 112.6 434.2 113.4 434.6 114.1 435.0 114.1 435.5 115.0 435.9 114.0 436.3 113.2 436.8 113.5 437.2 114.1 437.6 113.4 438.1 113.8 438.5 113.4 438.9 114.0 439.4 114.2 439.8 114.0 440.2 114.9 440.7 112.7 441.1 114.1 441.5 114.0 442.0 114.0 442.4 113.3 442.8 113.5 443.3 115.1 443.7 114.5 444.2 114.3 444.6 114.6 445.0 113.0 445.5 114.8 445.9 113.0 446.3 113.2 446.8 113.8 447.2 114.6 447.6 113.3 448.1 114.6 448.5 115.1 448.9 113.7 449.4 114.2 449.8 113.1 450.2 113.6 450.7 113.3 451.1 113.8 451.5 113.8 452.0 113.6 452.4 115.1 452.8 115.1 453.3 114.2 453.7 114.0 454.1 114.5 454.6 114.1 455.0 112.3 455.4 113.8 455.9 114.0 456.3 114.6 456.7 114.6 457.2 113.0 457.6 113.1 458.0 113.4 458.5 114.0 458.9 112.3 459.3 114.2 459.8 113.5 460.2 112.9 460.6 113.4 461.1 114.2 461.5 113.4 461.9 112.4 462.4 113.3 462.8 114.1 463.2 114.2 463.7 113.0 464.1 114.5 464.5 114.8 465.0 114.5 465.4 114.3 465.8 113.8 466.3 113.7 466.7 115.0 467.1 113.8 467.6 113.9 468.0 115.5 468.4 113.9 468.9 114.2 469.3 113.9 469.7 114.8 470.2 113.5 470.6 114.0 471.1 114.6 471.5 112.8 471.9 114.5 472.4 113.1 472.8 114.1 473.2 115.1 473.7 113.7 474.1 114.8 474.5 115.2 475.0 113.9 475.4 114.8 475.8 114.1 476.3 114.2 476.7 113.5 477.1 113.4 477.6 113.9 478.0 114.5 478.4 113.1 478.9 112.6 479.3 114.5 479.7 114.4 480.2 114.1 480.6 113.4 481.0 114.4 481.5 114.2 481.9 112.9 482.3 113.1 482.8 114.5 483.2 113.6 483.6 114.9 484.1 115.2 484.5 113.3 484.9 115.4 485.4 113.6 485.8 114.0 486.2 114.6 486.7 115.1 487.1 114.1 487.5 114.2 488.0 113.5 488.4 114.8 488.8 114.7 489.3 114.7 489.7 113.0 490.1 114.6 490.6 114.5 491.0 114.9 491.4 112.4 491.9 114.6 492.3 113.5 492.7 114.0 493.2 113.9 493.6 113.1 494.0 114.5 494.5 115.6 494.9 115.1 495.3 114.8 495.8 114.3 496.2 114.1 496.7 113.6 497.1 113.8 497.5 113.8 498.0 113.3 498.4 113.2 498.8 112.9 499.3 113.4 499.7 114.3 500.1 115.2 500.6 113.4 501.0 112.9 501.4 114.0 501.9 112.9 502.3 115.0 502.7 113.8 503.2 114.7 503.6 114.6 504.0 114.4 504.5 114.2 504.9 114.9 505.3 113.5 505.8 115.0 506.2 114.0 506.6 114.1 507.1 114.0 507.5 113.4 507.9 114.2 508.4 113.0 508.8 113.6" stroke="#f43c08" stroke-width="2.30" fill="none" stroke-linejoin="round" stroke-linecap="round"/>
<path d="M327.0 114.5 327.4 115.6 327.9 114.8 328.3 115.7 328.7 114.8 329.2 114.0 329.6 115.3 330.0 114.3 330.5 115.0 330.9 115.5 331.3 115.2 331.8 114.9 332.2 114.0 332.6 114.7 333.1 114.2 333.5 115.6 333.9 115.1 334.4 115.3 334.8 115.5 335.2 114.3 335.7 114.4 336.1 114.6 336.5 114.6 337.0 114.2 337.4 114.8 337.8 113.5 338.3 114.8 338.7 114.5 339.1 114.7 339.6 116.4 340.0 114.4 340.5 115.3 340.9 113.9 341.3 115.0 341.8 115.3 342.2 114.9 342.6 114.7 343.1 115.1 343.5 115.5 343.9 116.4 344.4 113.9 344.8 115.0 345.2 115.6 345.7 115.2 346.1 115.8 346.5 115.6 347.0 114.6 347.4 114.8 347.8 113.9 348.3 114.2 348.7 114.3 349.1 115.8 349.6 115.3 350.0 114.1 350.4 114.5 350.9 114.1 351.3 114.5 351.7 114.2 352.2 114.0 352.6 116.0 353.0 113.5 353.5 113.5 353.9 115.9 354.3 114.8 354.8 114.5 355.2 115.2 355.6 114.2 356.1 114.6 356.5 113.5 356.9 113.6 357.4 115.7 357.8 115.5 358.2 114.6 358.7 114.3 359.1 115.3 359.5 115.1 360.0 114.8 360.4 114.7 360.8 114.1 361.3 114.6 361.7 114.6 362.1 114.5 362.6 114.0 363.0 115.3 363.4 114.1 363.9 114.5 364.3 115.2 364.7 114.8 365.2 115.5 365.6 115.7 366.1 115.6 366.5 114.8 366.9 113.9 367.4 114.6 367.8 114.4 368.2 114.1 368.7 115.9 369.1 114.3 369.5 115.7 370.0 115.8 370.4 114.4 370.8 114.5 371.3 114.0 371.7 114.7 372.1 114.2 372.6 116.6 373.0 114.8 373.4 114.0 373.9 114.7 374.3 115.5 374.7 115.0 375.2 113.2 375.6 116.5 376.0 115.1 376.5 114.4 376.9 114.2 377.3 114.3 377.8 114.6 378.2 115.2 378.6 115.3 379.1 115.0 379.5 114.4 379.9 115.6 380.4 114.9 380.8 114.6 381.2 113.0 381.7 114.9 382.1 115.2 382.5 115.4 383.0 113.8 383.4 114.9 383.8 114.6 384.3 114.7 384.7 114.7 385.1 114.7 385.6 114.3 386.0 114.4 386.4 112.7 386.9 114.7 387.3 114.7 387.7 113.8 388.2 114.7 388.6 115.5 389.0 114.0 389.5 113.7 389.9 116.1 390.3 114.2 390.8 113.4 391.2 114.1 391.6 115.2 392.1 114.0 392.5 114.2 393.0 113.5 393.4 115.2 393.8 114.0 394.3 113.1 394.7 114.6 395.1 113.6 395.6 115.7 396.0 114.8 396.4 114.6 396.9 115.2 397.3 114.0 397.7 114.1 398.2 115.5 398.6 114.8 399.0 113.4 399.5 115.9 399.9 114.5 400.3 114.9 400.8 114.8 401.2 115.3 401.6 114.9 402.1 113.5 402.5 115.3 402.9 113.7 403.4 115.0 403.8 114.6 404.2 114.3 404.7 114.2 405.1 114.4 405.5 114.0 406.0 115.2 406.4 115.2 406.8 114.9 407.3 113.8 407.7 115.3 408.1 113.3 408.6 115.3 409.0 115.6 409.4 114.4 409.9 114.9 410.3 115.2 410.7 115.1 411.2 113.7 411.6 115.0 412.0 114.5 412.5 114.8 412.9 113.8 413.3 114.9 413.8 114.9 414.2 116.5 414.6 114.7 415.1 114.3 415.5 115.1 415.9 115.6 416.4 114.3 416.8 113.4 417.2 114.9 417.7 114.6 418.1 113.5 418.6 115.1 419.0 115.0 419.4 114.8 419.9 114.1 420.3 114.4 420.7 115.9 421.2 114.0 421.6 114.6 422.0 114.4 422.5 114.1 422.9 113.8 423.3 114.9 423.8 114.9 424.2 115.5 424.6 115.7 425.1 113.8 425.5 113.3 425.9 114.7 426.4 114.3 426.8 114.1 427.2 113.9 427.7 114.2 428.1 115.6 428.5 114.4 429.0 116.1 429.4 114.1 429.8 115.0 430.3 114.8 430.7 115.1 431.1 116.0 431.6 115.0 432.0 115.6 432.4 114.9 432.9 114.5 433.3 114.8 433.7 114.1 434.2 114.8 434.6 115.4 435.0 113.6 435.5 116.1 435.9 113.0 436.3 115.1 436.8 114.7 437.2 114.3 437.6 114.3 438.1 115.3 438.5 114.1 438.9 115.3 439.4 115.9 439.8 113.2 440.2 113.0 440.7 114.0 441.1 114.8 441.5 114.6 442.0 113.7 442.4 113.3 442.8 114.5 443.3 114.6 443.7 114.2 444.2 115.7 444.6 113.2 445.0 114.6 445.5 114.3 445.9 114.0 446.3 113.7 446.8 113.5 447.2 114.6 447.6 113.9 448.1 113.8 448.5 113.5 448.9 114.3 449.4 113.9 449.8 115.6 450.2 114.3 450.7 114.2 451.1 114.8 451.5 113.8 452.0 114.9 452.4 114.8 452.8 114.4 453.3 114.2 453.7 114.5 454.1 114.0 454.6 115.4 455.0 112.8 455.4 114.6 455.9 114.9 456.3 113.8 456.7 114.7 457.2 114.3 457.6 114.1 458.0 113.5 458.5 113.1 458.9 115.5 459.3 114.1 459.8 115.5 460.2 115.2 460.6 114.2 461.1 115.1 461.5 113.0 461.9 113.5 462.4 115.2 462.8 114.2 463.2 114.7 463.7 114.2 464.1 115.0 464.5 114.2 465.0 115.1 465.4 115.8 465.8 115.1 466.3 115.1 466.7 114.1 467.1 113.0 467.6 114.2 468.0 113.0 468.4 114.4 468.9 115.7 469.3 115.6 469.7 114.7 470.2 114.6 470.6 114.8 471.1 114.8 471.5 114.8 471.9 115.1 472.4 115.8 472.8 113.7 473.2 113.1 473.7 114.7 474.1 113.2 474.5 114.3 475.0 115.0 475.4 114.6 475.8 115.1 476.3 114.6 476.7 113.7 477.1 114.7 477.6 115.3 478.0 114.8 478.4 113.4 478.9 115.2 479.3 114.1 479.7 114.9 480.2 114.9 480.6 114.0 481.0 114.6 481.5 114.9 481.9 114.4 482.3 114.9 482.8 114.9 483.2 114.1 483.6 113.9 484.1 114.8 484.5 113.6 484.9 114.8 485.4 113.7 485.8 114.1 486.2 115.2 486.7 115.5 487.1 114.6 487.5 114.4 488.0 113.7 488.4 114.9 488.8 115.8 489.3 114.3 489.7 116.1 490.1 114.8 490.6 114.0 491.0 114.6 491.4 115.0 491.9 113.5 492.3 114.2 492.7 114.5 493.2 115.1 493.6 114.9 494.0 115.1 494.5 114.9 494.9 115.4 495.3 115.0 495.8 115.3 496.2 114.1 496.7 115.2 497.1 114.5 497.5 114.9 498.0 114.2 498.4 114.1 498.8 114.9 499.3 114.6 499.7 114.9 500.1 115.3 500.6 115.1 501.0 114.7 501.4 116.1 501.9 114.7 502.3 114.6 502.7 113.7 503.2 114.9 503.6 114.3 504.0 114.7 504.5 115.1 504.9 114.4 505.3 114.8 505.8 114.9 506.2 114.8 506.6 116.4 507.1 114.0 507.5 115.4 507.9 115.6 508.4 114.8 508.8 115.0" stroke="#740000" stroke-width="2.30" fill="none" stroke-linejoin="round" stroke-linecap="round"/>
<path d="M325.75 183.00 L325.75 289.55" stroke="#1a1a1a" stroke-width="1.50" fill="none"/>
<path d="M325.00 288.90 L515.80 288.90" stroke="#111" stroke-width="1.30" fill="none"/>
<path d="M325.75 242.70 L329.70 242.70" stroke="#1a1a1a" stroke-width="1.40" fill="none"/>
<path d="M325.75 196.60 L329.70 196.60" stroke="#1a1a1a" stroke-width="1.40" fill="none"/>
<path d="M420.10 288.90 L420.10 285.70" stroke="#111" stroke-width="1.20" fill="none"/>
<path d="M515.20 288.90 L515.20 285.70" stroke="#111" stroke-width="1.20" fill="none"/>
<text x="316.50" y="292.80" font-size="10.70" text-anchor="end" font-family="Liberation Sans" font-weight="normal">0</text>
<text x="316.50" y="246.50" font-size="10.70" text-anchor="end" font-family="Liberation Sans" font-weight="normal">2000</text>
<text x="316.50" y="200.40" font-size="10.70" text-anchor="end" font-family="Liberation Sans" font-weight="normal">4000</text>
<text x="326.00" y="305.90" font-size="10.70" text-anchor="middle" font-family="Liberation Sans" font-weight="normal">0</text>
<text x="420.30" y="305.90" font-size="10.70" text-anchor="middle" font-family="Liberation Sans" font-weight="normal">500</text>
<text x="515.20" y="305.90" font-size="10.70" text-anchor="middle" font-family="Liberation Sans" font-weight="normal">1000</text>
<text x="420.20" y="321.50" font-size="10.70" text-anchor="middle" font-family="Liberation Sans" font-weight="normal">Channel</text>
<text transform="translate(288.40,236.20) rotate(-90)" font-size="10.70" text-anchor="middle" font-family="Liberation Sans">Counts</text>
<path d="M326.0 280.1 326.4 280.2 326.9 279.9 327.3 279.7 327.7 279.9 328.2 280.1 328.6 279.9 329.0 279.7 329.4 279.7 329.9 280.1 330.3 280.5 330.7 280.5 331.2 280.1 331.6 280.0 332.0 280.2 332.5 280.3 332.9 280.0 333.3 279.8 333.8 279.8 334.2 279.8 334.6 279.6 335.1 279.5 335.5 279.8 335.9 280.1 336.3 280.2 336.8 279.7 337.2 276.7 337.6 273.7 338.1 270.5 338.5 267.6 338.9 265.1 339.4 262.7 339.8 260.3 340.2 258.1 340.7 256.3 341.1 254.4 341.5 252.5 341.9 250.9 342.4 249.4 342.8 247.4 343.2 245.3 343.7 243.6 344.1 242.4 344.5 241.0 345.0 239.4 345.4 238.0 345.8 236.9 346.3 235.7 346.7 234.4 347.1 233.1 347.5 232.0 348.0 230.9 348.4 229.8 348.8 228.7 349.3 227.4 349.7 226.0 350.1 224.8 350.6 223.6 351.0 222.5 351.4 221.4 351.9 220.6 352.3 220.0 352.7 219.3 353.2 218.2 353.6 217.2 354.0 216.7 354.4 216.7 354.9 216.6 355.3 215.8 355.7 214.7 356.2 213.8 356.6 213.1 357.0 212.1 357.5 210.9 357.9 210.0 358.3 209.7 358.8 209.4 359.2 208.7 359.6 207.6 360.0 206.7 360.5 206.5 360.9 206.5 361.3 206.4 361.8 206.0 362.2 205.3 362.6 204.4 363.1 203.6 363.5 203.1 363.9 202.7 364.4 202.2 364.8 201.9 365.2 201.6 365.7 201.1 366.1 200.4 366.5 199.9 366.9 199.8 367.4 200.0 367.8 200.1 368.2 199.6 368.7 199.0 369.1 198.7 369.5 198.4 370.0 198.1 370.4 197.7 370.8 197.3 371.3 197.2 371.7 197.2 372.1 197.2 372.5 196.6 373.0 195.7 373.4 195.3 373.8 195.3 374.3 195.0 374.7 194.5 375.1 194.2 375.6 194.0 376.0 193.8 376.4 193.5 376.9 193.2 377.3 192.8 377.7 192.7 378.1 192.7 378.6 192.5 379.0 192.1 379.4 191.8 379.9 191.8 380.3 191.8 380.7 191.7 381.2 191.6 381.6 191.4 382.0 191.3 382.5 191.2 382.9 191.0 383.3 190.7 383.8 190.4 384.2 190.0 384.6 189.6 385.0 189.0 385.5 188.6 385.9 188.7 386.3 189.0 386.8 189.6 387.2 190.0 387.6 190.1 388.1 189.8 388.5 189.3 388.9 188.9 389.4 188.3 389.8 187.9 390.2 188.0 390.6 188.2 391.1 188.3 391.5 188.1 391.9 189.1 392.4 190.7 392.8 192.4 393.2 194.0 393.7 195.6 394.1 197.7 394.5 200.1 395.0 202.4 395.4 204.5 395.8 206.4 396.2 208.2 396.7 209.6 397.1 210.6 397.5 212.1 398.0 214.1 398.4 216.1 398.8 217.7 399.3 219.2 399.7 220.9 400.1 222.5 400.6 224.2 401.0 225.9 401.4 227.1 401.9 228.0 402.3 229.2 402.7 231.0 403.1 232.8 403.6 233.9 404.0 234.8 404.4 236.1 404.9 237.7 405.3 239.3 405.7 240.6 406.2 241.5 406.6 242.3 407.0 243.3 407.5 244.7 407.9 245.8 408.3 246.6 408.7 247.6 409.2 248.8 409.6 250.0 410.0 251.0 410.5 251.8 410.9 252.6 411.3 253.4 411.8 254.2 412.2 254.9 412.6 255.4 413.1 256.2 413.5 257.0 413.9 257.6 414.4 258.2 414.8 258.9 415.2 259.8 415.6 260.6 416.1 261.2 416.5 261.7 416.9 262.1 417.4 262.6 417.8 263.4 418.2 264.2 418.7 264.8 419.1 265.4 419.5 266.4 420.0 267.3 420.4 267.7 420.8 267.5 421.2 267.6 421.7 267.9 422.1 268.3 422.5 268.7 423.0 269.0 423.4 269.4 423.8 269.6 424.3 269.8 424.7 270.3 425.1 270.7 425.6 271.1 426.0 271.5 426.4 271.6 426.8 271.5 427.3 271.7 427.7 272.1 428.1 272.6 428.6 273.2 429.0 273.7 429.4 274.0 429.9 273.8 430.3 273.7 430.7 274.1 431.2 274.8 431.6 275.3 432.0 275.7 432.5 276.0 432.9 276.2 433.3 276.3 433.7 276.5 434.2 276.8 434.6 277.0 435.0 276.9 435.5 276.7 435.9 276.6 436.3 276.5 436.8 276.4 437.2 276.6 437.6 277.1 438.1 277.7 438.5 277.9 438.9 277.9 439.3 277.9 439.8 277.9 440.2 278.0 440.6 278.0 441.1 277.9 441.5 277.6 441.9 277.6 442.4 277.7 442.8 278.1 443.2 278.5 443.7 278.9 444.1 279.1 444.5 279.2 445.0 279.0 445.4 278.7 445.8 278.5 446.2 278.9 446.7 279.4 447.1 279.6 447.5 279.5 448.0 279.4 448.4 279.3 448.8 279.1 449.3 278.9 449.7 279.1 450.1 279.6 450.6 279.9 451.0 280.1 451.4 280.1 451.8 280.1 452.3 280.0 452.7 279.8 453.1 279.8 453.6 280.0 454.0 280.4 454.4 280.7 454.9 280.4 455.3 279.9 455.7 279.6 456.2 279.9 456.6 280.6 457.0 281.0 457.4 280.7 457.9 280.0 458.3 279.5 458.7 279.7 459.2 280.3 459.6 280.9 460.0 281.0 460.5 280.6 460.9 279.8 461.3 279.0 461.8 278.7 462.2 279.0 462.6 279.5 463.1 279.9 463.5 280.1 463.9 280.3 464.3 280.2 464.8 280.2 465.2 280.4 465.6 280.8 466.1 280.9 466.5 280.6 466.9 280.2 467.4 279.9 467.8 280.1 468.2 280.5 468.7 280.7 469.1 280.6 469.5 280.4 469.9 280.4 470.4 280.6 470.8 280.8 471.2 280.9 471.7 281.1 472.1 281.0 472.5 280.7 473.0 280.6 473.4 280.5 473.8 280.2 474.3 280.2 474.7 280.4 475.1 280.5 475.5 280.5 476.0 280.6 476.4 280.8 476.8 280.8 477.3 280.8 477.7 280.8 478.1 281.0 478.6 281.3 479.0 281.3 479.4 281.1 479.9 280.9 480.3 280.9 480.7 281.2 481.2 281.4 481.6 281.4 482.0 281.2 482.4 281.1 482.9 280.9 483.3 280.6 483.7 280.6 484.2 280.9 484.6 281.0 485.0 280.9 485.5 280.7 485.9 280.8 486.3 281.1 486.8 281.2 487.2 281.2 487.6 281.1 488.0 281.2 488.5 281.2 488.9 281.2 489.3 281.1 489.8 280.9 490.2 280.8 490.6 280.8 491.1 280.8 491.5 280.7 491.9 280.7 492.4 280.9 492.8 281.1 493.2 281.1 493.7 281.0 494.1 281.1 494.5 281.4 494.9 281.6 495.4 281.5 495.8 281.1 496.2 280.8 496.7 280.8 497.1 281.2 497.5 281.7 498.0 281.8 498.4 281.5 498.8 281.3 499.3 281.3 499.7 281.2 500.1 280.9 500.5 280.7 501.0 280.6 501.4 280.4 501.8 280.1 502.3 280.0 502.7 280.3 503.1 280.7 503.6 281.0 504.0 281.2 504.4 281.3 504.9 281.2 505.3 281.1 505.7 281.4 506.1 281.6 506.6 281.5 507.0 281.2 507.4 281.0 507.9 280.9 508.3 280.7 508.7 280.6 509.2 280.8 509.6 281.1 510.0 281.1 510.5 281.0 510.9 281.1 511.3 281.1 511.8 280.7 512.2 280.0 512.6 279.8 513.0 280.1 513.5 280.6 513.9 281.1 514.3 281.6 514.8 281.8 515.2 281.8" stroke="#ff0000" stroke-width="2.30" fill="none" stroke-linejoin="round" stroke-linecap="round"/>
<path d="M326.0 280.0 326.4 280.1 326.9 280.3 327.3 280.4 327.7 280.2 328.2 279.9 328.6 279.8 329.0 279.9 329.4 280.3 329.9 280.5 330.3 280.4 330.7 280.2 331.2 279.9 331.6 279.7 332.0 279.5 332.5 279.7 332.9 280.5 333.3 281.1 333.8 280.9 334.2 280.3 334.6 279.8 335.1 279.6 335.5 279.4 335.9 279.2 336.3 279.4 336.8 279.8 337.2 280.1 337.6 280.3 338.1 279.8 338.5 279.0 338.9 277.7 339.4 276.3 339.8 275.5 340.2 275.4 340.7 275.4 341.1 274.8 341.5 273.9 341.9 273.1 342.4 272.5 342.8 271.9 343.2 271.2 343.7 270.5 344.1 270.2 344.5 270.1 345.0 269.9 345.4 269.5 345.8 268.8 346.3 267.9 346.7 266.9 347.1 266.4 347.5 266.2 348.0 265.7 348.4 264.8 348.8 263.9 349.3 263.2 349.7 262.6 350.1 262.3 350.6 262.2 351.0 262.0 351.4 261.5 351.9 260.9 352.3 260.6 352.7 260.5 353.2 260.2 353.6 259.7 354.0 259.2 354.4 258.7 354.9 258.1 355.3 257.4 355.7 256.7 356.2 256.3 356.6 256.1 357.0 255.8 357.5 255.4 357.9 255.0 358.3 254.6 358.8 254.1 359.2 253.5 359.6 252.7 360.0 252.2 360.5 252.2 360.9 252.4 361.3 252.3 361.8 251.7 362.2 250.9 362.6 250.3 363.1 250.1 363.5 250.4 363.9 250.8 364.4 251.3 364.8 251.1 365.2 250.3 365.7 249.4 366.1 248.7 366.5 248.3 366.9 248.0 367.4 247.8 367.8 247.7 368.2 247.3 368.7 246.7 369.1 246.3 369.5 246.4 370.0 246.6 370.4 246.4 370.8 246.0 371.3 245.6 371.7 245.3 372.1 245.1 372.5 245.0 373.0 245.2 373.4 245.3 373.8 245.1 374.3 244.7 374.7 244.4 375.1 244.2 375.6 243.9 376.0 243.7 376.4 243.7 376.9 244.1 377.3 244.3 377.7 244.0 378.1 243.4 378.6 242.7 379.0 242.4 379.4 242.2 379.9 242.0 380.3 241.8 380.7 241.6 381.2 241.5 381.6 241.3 382.0 240.9 382.5 240.8 382.9 240.8 383.3 240.8 383.8 240.5 384.2 240.2 384.6 240.1 385.0 240.1 385.5 239.9 385.9 239.8 386.3 240.1 386.8 240.3 387.2 240.3 387.6 239.9 388.1 239.5 388.5 239.3 388.9 238.9 389.4 238.2 389.8 237.8 390.2 237.7 390.6 237.7 391.1 237.4 391.5 237.2 391.9 238.2 392.4 239.4 392.8 240.4 393.2 241.2 393.7 241.9 394.1 242.7 394.5 243.3 395.0 243.8 395.4 244.4 395.8 245.0 396.2 245.8 396.7 246.4 397.1 246.9 397.5 247.8 398.0 248.6 398.4 249.2 398.8 249.4 399.3 249.8 399.7 250.9 400.1 252.1 400.6 252.8 401.0 252.9 401.4 252.9 401.9 252.8 402.3 253.0 402.7 253.7 403.1 254.9 403.6 256.0 404.0 256.8 404.4 257.3 404.9 257.6 405.3 257.9 405.7 258.5 406.2 259.0 406.6 259.4 407.0 259.6 407.5 259.8 407.9 260.3 408.3 260.9 408.7 261.6 409.2 262.2 409.6 262.6 410.0 262.6 410.5 262.6 410.9 263.0 411.3 263.6 411.8 264.0 412.2 264.1 412.6 264.1 413.1 264.2 413.5 264.6 413.9 265.0 414.4 265.3 414.8 265.5 415.2 265.8 415.6 266.4 416.1 267.1 416.5 267.7 416.9 268.0 417.4 268.2 417.8 268.5 418.2 268.7 418.7 268.7 419.1 268.7 419.5 268.9 420.0 269.3 420.4 269.6 420.8 270.0 421.2 270.4 421.7 270.8 422.1 271.0 422.5 271.0 423.0 271.0 423.4 271.3 423.8 271.7 424.3 272.1 424.7 272.4 425.1 272.6 425.6 272.7 426.0 272.6 426.4 272.4 426.8 272.4 427.3 272.5 427.7 272.7 428.1 273.3 428.6 273.9 429.0 274.2 429.4 274.2 429.9 274.1 430.3 274.1 430.7 274.5 431.2 275.0 431.6 275.4 432.0 275.3 432.5 275.0 432.9 274.7 433.3 274.4 433.7 274.4 434.2 275.0 434.6 275.9 435.0 276.4 435.5 276.4 435.9 276.4 436.3 276.4 436.8 276.5 437.2 276.4 437.6 276.6 438.1 276.9 438.5 277.4 438.9 277.6 439.3 277.6 439.8 277.5 440.2 277.5 440.6 277.7 441.1 278.0 441.5 278.2 441.9 278.2 442.4 278.2 442.8 278.3 443.2 278.2 443.7 278.1 444.1 278.1 444.5 278.6 445.0 279.3 445.4 279.7 445.8 279.7 446.2 279.4 446.7 279.0 447.1 278.7 447.5 278.5 448.0 278.4 448.4 278.6 448.8 278.8 449.3 279.1 449.7 279.6 450.1 280.1 450.6 280.5 451.0 280.4 451.4 280.3 451.8 280.4 452.3 280.3 452.7 280.0 453.1 279.7 453.6 279.9 454.0 280.2 454.4 280.4 454.9 280.2 455.3 279.7 455.7 279.6 456.2 280.0 456.6 280.9 457.0 281.4 457.4 281.5 457.9 281.3 458.3 280.9 458.7 280.7 459.2 280.7 459.6 280.7 460.0 280.9 460.5 281.0 460.9 280.9 461.3 280.8 461.8 281.2 462.2 281.8 462.6 282.3 463.1 282.5 463.5 282.5 463.9 282.3 464.3 282.2 464.8 282.4 465.2 282.4 465.6 282.1 466.1 281.9 466.5 282.2 466.9 282.4 467.4 282.0 467.8 281.4 468.2 281.1 468.7 281.4 469.1 282.0 469.5 282.2 469.9 282.1 470.4 281.8 470.8 282.1 471.2 282.7 471.7 283.0 472.1 282.9 472.5 282.6 473.0 282.6 473.4 282.8 473.8 283.0 474.3 282.8 474.7 282.5 475.1 282.3 475.5 282.4 476.0 282.4 476.4 282.0 476.8 281.7 477.3 281.7 477.7 281.9 478.1 282.0 478.6 282.2 479.0 282.4 479.4 282.4 479.9 282.4 480.3 282.5 480.7 282.6 481.2 282.6 481.6 282.8 482.0 282.9 482.4 282.6 482.9 282.3 483.3 282.1 483.7 282.4 484.2 283.0 484.6 283.4 485.0 283.4 485.5 282.9 485.9 282.5 486.3 282.5 486.8 282.9 487.2 283.4 487.6 283.6 488.0 283.4 488.5 282.9 488.9 282.7 489.3 283.0 489.8 283.6 490.2 284.0 490.6 283.8 491.1 283.2 491.5 282.5 491.9 282.4 492.4 283.2 492.8 284.3 493.2 284.9 493.7 284.6 494.1 284.1 494.5 283.5 494.9 283.0 495.4 282.8 495.8 283.0 496.2 283.4 496.7 283.7 497.1 283.7 497.5 283.7 498.0 283.6 498.4 283.4 498.8 283.0 499.3 282.7 499.7 282.7 500.1 282.8 500.5 282.9 501.0 283.1 501.4 283.2 501.8 283.4 502.3 283.5 502.7 283.4 503.1 283.3 503.6 283.1 504.0 282.9 504.4 283.0 504.9 283.4 505.3 283.9 505.7 284.1 506.1 283.9 506.6 283.5 507.0 283.2 507.4 283.1 507.9 283.3 508.3 283.7 508.7 283.6 509.2 283.3 509.6 283.2 510.0 283.5 510.5 283.9 510.9 283.7 511.3 283.3 511.8 283.4 512.2 283.7 512.6 283.7 513.0 283.4 513.5 283.2 513.9 283.1 514.3 282.6 514.8 282.2 515.2 282.5" stroke="#0c0c24" stroke-width="2.30" fill="none" stroke-linejoin="round" stroke-linecap="round"/>
<path d="M326.0 286.2 326.4 286.3 326.9 285.8 327.3 285.7 327.7 286.6 328.2 287.3 328.6 287.5 329.0 287.3 329.4 286.7 329.9 286.4 330.3 286.6 330.7 286.7 331.2 286.3 331.6 285.9 332.0 286.1 332.5 286.1 332.9 285.7 333.3 285.6 333.8 286.1 334.2 287.0 334.6 287.0 335.1 286.6 335.5 286.8 335.9 286.5 336.3 286.1 336.8 286.2 337.2 287.1 337.6 287.8 338.1 285.9 338.5 284.0 338.9 284.0 339.4 283.2 339.8 282.6 340.2 282.8 340.7 281.7 341.1 280.7 341.5 280.4 341.9 280.1 342.4 280.0 342.8 279.5 343.2 279.5 343.7 280.1 344.1 279.3 344.5 277.5 345.0 277.1 345.4 277.5 345.8 277.6 346.3 276.9 346.7 276.7 347.1 277.4 347.5 277.4 348.0 276.1 348.4 275.0 348.8 275.0 349.3 275.5 349.7 276.3 350.1 276.2 350.6 275.8 351.0 275.8 351.4 275.3 351.9 274.6 352.3 274.9 352.7 274.4 353.2 273.7 353.6 274.5 354.0 274.8 354.4 274.5 354.9 274.3 355.3 274.1 355.7 274.3 356.2 273.8 356.6 273.7 357.0 274.8 357.5 274.7 357.9 274.1 358.3 274.0 358.8 274.4 359.2 274.7 359.6 274.6 360.0 274.2 360.5 273.3 360.9 273.0 361.3 273.5 361.8 273.7 362.2 273.2 362.6 272.8 363.1 273.2 363.5 273.8 363.9 273.6 364.4 273.1 364.8 273.4 365.2 273.7 365.7 273.7 366.1 273.7 366.5 273.9 366.9 273.9 367.4 273.0 367.8 272.5 368.2 273.1 368.7 273.1 369.1 272.7 369.5 273.0 370.0 273.0 370.4 272.4 370.8 272.8 371.3 273.6 371.7 273.4 372.1 272.8 372.5 273.0 373.0 273.6 373.4 273.8 373.8 273.4 374.3 272.7 374.7 272.5 375.1 273.0 375.6 272.9 376.0 272.4 376.4 272.4 376.9 272.4 377.3 272.6 377.7 272.8 378.1 272.6 378.6 273.2 379.0 274.1 379.4 273.5 379.9 273.0 380.3 272.9 380.7 272.8 381.2 272.4 381.6 272.2 382.0 272.8 382.5 273.0 382.9 272.5 383.3 272.4 383.8 272.5 384.2 272.2 384.6 272.1 385.0 271.9 385.5 272.1 385.9 273.3 386.3 273.9 386.8 273.5 387.2 272.7 387.6 272.2 388.1 272.4 388.5 272.1 388.9 272.0 389.4 272.9 389.8 273.1 390.2 272.2 390.6 271.9 391.1 272.3 391.5 273.1 391.9 273.7 392.4 274.3 392.8 274.9 393.2 276.1 393.7 276.7 394.1 277.7 394.5 279.2 395.0 279.7 395.4 279.8 395.8 280.5 396.2 281.2 396.7 281.6 397.1 282.3 397.5 283.0 398.0 283.1 398.4 283.4 398.8 284.5 399.3 285.4 399.7 285.0 400.1 284.2 400.6 284.2 401.0 284.9 401.4 285.0 401.9 285.0 402.3 285.4 402.7 285.3 403.1 284.6 403.6 284.5 404.0 285.1 404.4 285.9 404.9 286.4 405.3 285.8 405.7 286.1 406.2 286.9 406.6 286.4 407.0 286.3 407.5 286.3 407.9 285.7 408.3 285.6 408.7 286.3 409.2 287.1 409.6 287.0 410.0 286.6 410.5 286.6 410.9 286.3 411.3 286.5 411.8 286.9 412.2 286.8 412.6 286.7 413.1 286.3 413.5 286.1 413.9 286.5 414.4 286.6 414.8 287.0 415.2 287.5 415.6 287.4 416.1 287.0 416.5 286.2 416.9 285.7 417.4 285.7 417.8 286.2 418.2 286.3 418.7 286.0 419.1 286.3 419.5 286.5 420.0 286.7 420.4 287.0 420.8 287.1 421.2 286.8 421.7 286.1 422.1 285.6 422.5 285.5 423.0 285.9 423.4 286.3 423.8 286.6 424.3 287.0 424.7 287.3 425.1 287.1 425.6 286.3 426.0 286.0 426.4 286.0 426.8 286.3 427.3 287.1 427.7 287.5 428.1 287.2 428.6 286.6 429.0 285.9 429.4 285.8 429.9 285.6 430.3 285.3 430.7 285.9 431.2 286.8 431.6 287.1 432.0 286.3 432.5 285.5 432.9 285.9 433.3 286.3 433.7 286.1 434.2 285.9 434.6 285.6 435.0 285.6 435.5 286.0 435.9 285.8 436.3 285.4 436.8 286.4 437.2 287.3 437.6 287.3 438.1 286.8 438.5 286.0 438.9 285.9 439.3 286.7 439.8 287.6 440.2 288.0 440.6 286.7 441.1 285.5 441.5 285.9 441.9 286.8 442.4 287.1 442.8 286.8 443.2 286.0 443.7 286.1 444.1 286.6 444.5 286.8 445.0 286.5 445.4 286.0 445.8 286.1 446.2 286.7 446.7 286.6 447.1 286.0 447.5 286.2 448.0 286.7 448.4 286.7 448.8 286.5 449.3 286.2 449.7 286.2 450.1 286.4 450.6 286.0 451.0 285.9 451.4 285.7 451.8 285.7 452.3 285.8 452.7 285.8 453.1 286.3 453.6 287.0 454.0 286.9 454.4 286.4 454.9 286.2 455.3 285.9 455.7 285.5 456.2 286.2 456.6 286.9 457.0 286.1 457.4 285.7 457.9 286.2 458.3 286.7 458.7 286.4 459.2 285.9 459.6 285.9 460.0 286.3 460.5 286.0 460.9 285.5 461.3 285.9 461.8 286.5 462.2 286.4 462.6 286.3 463.1 286.2 463.5 285.9 463.9 286.8 464.3 287.8 464.8 286.9 465.2 286.1 465.6 286.6 466.1 287.1 466.5 286.8 466.9 286.4 467.4 286.3 467.8 287.2 468.2 287.4 468.7 286.1 469.1 285.6 469.5 286.0 469.9 286.1 470.4 286.5 470.8 286.6 471.2 285.9 471.7 285.7 472.1 285.9 472.5 286.8 473.0 287.1 473.4 286.2 473.8 285.9 474.3 285.9 474.7 285.7 475.1 285.9 475.5 285.9 476.0 285.9 476.4 286.1 476.8 285.5 477.3 285.1 477.7 285.8 478.1 286.4 478.6 286.6 479.0 286.5 479.4 286.6 479.9 286.3 480.3 286.2 480.7 286.9 481.2 287.4 481.6 286.9 482.0 286.3 482.4 286.2 482.9 286.1 483.3 285.8 483.7 286.4 484.2 286.8 484.6 286.7 485.0 286.8 485.5 287.0 485.9 286.9 486.3 286.8 486.8 286.7 487.2 286.3 487.6 286.3 488.0 286.6 488.5 286.5 488.9 286.1 489.3 285.7 489.8 285.7 490.2 285.4 490.6 285.5 491.1 286.6 491.5 287.3 491.9 286.9 492.4 286.5 492.8 286.1 493.2 285.6 493.7 285.7 494.1 286.6 494.5 287.0 494.9 286.9 495.4 286.6 495.8 286.5 496.2 286.6 496.7 286.8 497.1 287.1 497.5 286.8 498.0 286.0 498.4 285.6 498.8 285.7 499.3 285.8 499.7 286.2 500.1 286.0 500.5 285.8 501.0 286.3 501.4 285.8 501.8 285.6 502.3 286.4 502.7 286.3 503.1 285.8 503.6 285.9 504.0 286.2 504.4 286.0 504.9 285.7 505.3 286.0 505.7 286.4 506.1 286.1 506.6 285.5 507.0 285.4 507.4 285.4 507.9 285.4 508.3 285.7 508.7 286.2 509.2 286.3 509.6 286.2 510.0 286.1 510.5 285.6 510.9 285.2 511.3 285.7 511.8 286.4 512.2 287.0 512.6 287.5 513.0 287.3 513.5 286.7 513.9 286.6 514.3 286.2 514.8 286.2 515.2 286.5" stroke="#2e0a86" stroke-width="2.30" fill="none" stroke-linejoin="round" stroke-linecap="round"/>
<path d="M326.0 286.9 326.4 287.9 326.9 287.9 327.3 287.4 327.7 287.3 328.2 287.0 328.6 287.0 329.0 287.4 329.4 287.6 329.9 287.4 330.3 286.2 330.7 285.9 331.2 286.4 331.6 286.6 332.0 286.5 332.5 286.4 332.9 286.8 333.3 286.7 333.8 287.1 334.2 287.2 334.6 286.9 335.1 287.2 335.5 287.2 335.9 287.0 336.3 287.6 336.8 288.2 337.2 288.0 337.6 287.3 338.1 286.6 338.5 285.9 338.9 285.7 339.4 284.9 339.8 283.8 340.2 283.0 340.7 282.4 341.1 282.2 341.5 282.1 341.9 281.3 342.4 280.6 342.8 280.3 343.2 279.9 343.7 280.0 344.1 280.9 344.5 281.1 345.0 280.3 345.4 279.6 345.8 279.4 346.3 279.0 346.7 278.5 347.1 278.9 347.5 279.0 348.0 278.2 348.4 277.8 348.8 277.7 349.3 277.6 349.7 277.9 350.1 278.1 350.6 278.2 351.0 277.7 351.4 276.9 351.9 276.5 352.3 276.7 352.7 277.2 353.2 277.6 353.6 277.8 354.0 277.6 354.4 277.3 354.9 277.0 355.3 276.5 355.7 276.9 356.2 276.9 356.6 276.4 357.0 276.5 357.5 276.9 357.9 277.0 358.3 277.1 358.8 277.2 359.2 277.2 359.6 276.6 360.0 276.1 360.5 276.3 360.9 276.3 361.3 275.9 361.8 275.3 362.2 275.7 362.6 276.7 363.1 277.0 363.5 277.0 363.9 276.8 364.4 276.7 364.8 277.3 365.2 277.7 365.7 277.2 366.1 275.9 366.5 275.6 366.9 275.6 367.4 275.3 367.8 275.6 368.2 275.5 368.7 275.2 369.1 275.5 369.5 276.3 370.0 276.1 370.4 275.0 370.8 275.0 371.3 276.3 371.7 276.6 372.1 276.5 372.5 276.8 373.0 276.5 373.4 276.2 373.8 276.2 374.3 275.7 374.7 275.6 375.1 276.1 375.6 276.0 376.0 276.1 376.4 276.5 376.9 276.0 377.3 275.6 377.7 275.9 378.1 276.0 378.6 275.8 379.0 276.1 379.4 276.5 379.9 276.7 380.3 277.0 380.7 276.8 381.2 276.5 381.6 277.0 382.0 277.1 382.5 276.2 382.9 275.7 383.3 276.0 383.8 275.7 384.2 275.9 384.6 276.6 385.0 276.2 385.5 276.2 385.9 276.3 386.3 276.0 386.8 275.9 387.2 275.5 387.6 274.7 388.1 275.0 388.5 276.1 388.9 276.5 389.4 276.6 389.8 276.3 390.2 275.8 390.6 275.7 391.1 275.4 391.5 275.2 391.9 275.7 392.4 277.4 392.8 278.4 393.2 279.0 393.7 280.1 394.1 280.9 394.5 280.6 395.0 280.2 395.4 281.3 395.8 282.3 396.2 283.0 396.7 283.3 397.1 283.2 397.5 283.8 398.0 284.8 398.4 285.2 398.8 284.9 399.3 284.9 399.7 285.0 400.1 285.4 400.6 285.7 401.0 285.7 401.4 285.9 401.9 286.4 402.3 286.5 402.7 286.0 403.1 286.0 403.6 285.7 404.0 285.4 404.4 286.0 404.9 286.4 405.3 286.8 405.7 287.4 406.2 287.4 406.6 287.0 407.0 287.0 407.5 286.8 407.9 286.5 408.3 286.7 408.7 287.4 409.2 287.6 409.6 286.0 410.0 285.4 410.5 286.8 410.9 287.0 411.3 286.6 411.8 287.0 412.2 286.9 412.6 286.1 413.1 285.9 413.5 286.5 413.9 286.3 414.4 285.7 414.8 286.0 415.2 286.3 415.6 286.2 416.1 286.7 416.5 287.4 416.9 287.4 417.4 287.6 417.8 287.1 418.2 286.3 418.7 286.6 419.1 286.3 419.5 285.6 420.0 285.7 420.4 286.6 420.8 287.3 421.2 286.9 421.7 286.9 422.1 287.1 422.5 286.8 423.0 286.5 423.4 286.4 423.8 287.3 424.3 288.1 424.7 287.9 425.1 287.2 425.6 286.7 426.0 286.8 426.4 286.7 426.8 286.5 427.3 287.2 427.7 287.3 428.1 287.0 428.6 287.1 429.0 286.8 429.4 286.1 429.9 285.3 430.3 285.8 430.7 287.1 431.2 286.9 431.6 286.9 432.0 287.5 432.5 287.0 432.9 286.9 433.3 287.4 433.7 287.4 434.2 287.2 434.6 287.0 435.0 286.7 435.5 286.8 435.9 287.3 436.3 287.2 436.8 287.2 437.2 287.3 437.6 286.6 438.1 285.5 438.5 285.6 438.9 286.8 439.3 287.3 439.8 286.9 440.2 286.6 440.6 286.7 441.1 287.3 441.5 287.7 441.9 287.5 442.4 287.5 442.8 287.1 443.2 286.7 443.7 286.3 444.1 286.6 444.5 287.0 445.0 286.8 445.4 286.9 445.8 286.7 446.2 285.8 446.7 285.9 447.1 286.8 447.5 286.9 448.0 286.8 448.4 286.7 448.8 286.6 449.3 286.8 449.7 287.4 450.1 287.5 450.6 287.1 451.0 286.7 451.4 286.5 451.8 286.3 452.3 286.3 452.7 286.6 453.1 286.7 453.6 286.5 454.0 286.6 454.4 286.8 454.9 286.8 455.3 286.7 455.7 286.6 456.2 286.2 456.6 286.2 457.0 286.8 457.4 287.5 457.9 287.6 458.3 287.0 458.7 286.7 459.2 286.8 459.6 287.5 460.0 288.2 460.5 288.1 460.9 287.8 461.3 287.3 461.8 287.0 462.2 287.1 462.6 287.4 463.1 287.2 463.5 287.0 463.9 287.3 464.3 287.4 464.8 287.8 465.2 287.9 465.6 287.0 466.1 286.6 466.5 286.8 466.9 287.1 467.4 286.9 467.8 286.4 468.2 286.4 468.7 286.3 469.1 286.1 469.5 286.1 469.9 285.7 470.4 286.0 470.8 286.5 471.2 286.5 471.7 287.2 472.1 287.1 472.5 286.6 473.0 287.5 473.4 287.9 473.8 287.3 474.3 286.9 474.7 287.1 475.1 287.2 475.5 286.8 476.0 286.4 476.4 286.6 476.8 286.5 477.3 286.2 477.7 286.7 478.1 288.0 478.6 288.1 479.0 286.9 479.4 286.5 479.9 286.3 480.3 285.9 480.7 286.2 481.2 286.5 481.6 286.6 482.0 286.9 482.4 287.5 482.9 287.1 483.3 286.3 483.7 286.5 484.2 287.1 484.6 287.7 485.0 287.9 485.5 286.8 485.9 286.3 486.3 287.3 486.8 287.9 487.2 287.4 487.6 286.7 488.0 286.8 488.5 287.1 488.9 286.8 489.3 287.0 489.8 287.8 490.2 287.6 490.6 286.9 491.1 287.2 491.5 287.5 491.9 286.7 492.4 286.2 492.8 286.7 493.2 287.3 493.7 287.2 494.1 286.9 494.5 286.6 494.9 286.3 495.4 286.9 495.8 287.2 496.2 287.0 496.7 286.8 497.1 286.6 497.5 286.5 498.0 286.7 498.4 286.5 498.8 286.8 499.3 287.1 499.7 287.0 500.1 287.7 500.5 288.3 501.0 287.7 501.4 287.3 501.8 287.1 502.3 286.8 502.7 287.0 503.1 287.6 503.6 287.2 504.0 286.4 504.4 286.2 504.9 286.7 505.3 287.2 505.7 287.4 506.1 287.5 506.6 287.6 507.0 287.0 507.4 286.0 507.9 286.0 508.3 286.5 508.7 287.4 509.2 287.5 509.6 286.8 510.0 286.2 510.5 286.0 510.9 286.5 511.3 287.0 511.8 287.1 512.2 287.1 512.6 286.9 513.0 287.2 513.5 287.6 513.9 287.2 514.3 286.8 514.8 286.7 515.2 287.1" stroke="#0a88f0" stroke-width="2.30" fill="none" stroke-linejoin="round" stroke-linecap="round"/>
<path d="M326.0 282.8 326.4 279.3 326.9 281.7 327.3 283.3 327.7 280.9 328.2 282.0 328.6 282.3 329.0 280.9 329.4 282.7 329.9 283.7 330.3 282.4 330.7 283.4 331.2 281.9 331.6 281.6 332.0 282.4 332.5 280.7 332.9 283.0 333.3 280.7 333.8 280.8 334.2 283.0 334.6 282.6 335.1 281.7 335.5 281.4 335.9 282.3 336.3 280.6 336.8 281.0 337.2 283.2 337.6 282.3 338.1 283.1 338.5 281.9 338.9 283.6 339.4 281.1 339.8 283.2 340.2 282.9 340.7 283.1 341.1 283.6 341.5 281.8 341.9 282.2 342.4 283.9 342.8 283.2 343.2 283.0 343.7 280.9 344.1 283.9 344.5 282.6 345.0 283.0 345.4 280.6 345.8 282.4 346.3 280.0 346.7 282.8 347.1 282.1 347.5 282.3 348.0 281.2 348.4 282.4 348.8 282.0 349.3 280.6 349.7 282.4 350.1 281.9 350.6 280.8 351.0 283.0 351.4 280.7 351.9 281.4 352.3 280.4 352.7 280.5 353.2 282.5 353.6 284.3 354.0 281.5 354.4 281.9 354.9 281.6 355.3 283.0 355.7 284.3 356.2 282.5 356.6 282.0 357.0 283.0 357.5 282.8 357.9 281.4 358.3 282.2 358.8 281.3 359.2 282.2 359.6 280.8 360.0 283.4 360.5 283.4 360.9 280.1 361.3 280.2 361.8 281.3 362.2 281.9 362.6 283.0 363.1 281.7 363.5 283.0 363.9 279.6 364.4 281.7 364.8 281.8 365.2 279.6 365.7 281.1 366.1 282.6 366.5 282.3 366.9 282.9 367.4 280.1 367.8 283.4 368.2 283.7 368.7 283.1 369.1 281.9 369.5 281.4 370.0 282.5 370.4 282.1 370.8 282.9 371.3 279.8 371.7 281.7 372.1 282.2 372.5 281.0 373.0 281.0 373.4 283.7 373.8 282.5 374.3 281.1 374.7 283.6 375.1 281.6 375.6 281.1 376.0 281.2 376.4 281.4 376.9 282.5 377.3 281.9 377.7 282.2 378.1 281.5 378.6 281.1 379.0 281.3 379.4 282.3 379.9 280.9 380.3 283.0 380.7 282.7 381.2 281.8 381.6 281.2 382.0 281.4 382.5 281.6 382.9 282.2 383.3 283.0 383.8 280.4 384.2 281.7 384.6 282.7 385.0 280.0 385.5 280.8 385.9 282.1 386.3 281.2 386.8 283.8 387.2 282.8 387.6 282.1 388.1 281.9 388.5 281.9 388.9 281.8 389.4 281.6 389.8 280.7 390.2 281.5 390.6 282.3 391.1 281.0 391.5 280.9 391.9 281.3 392.4 282.9 392.8 282.1 393.2 282.6 393.7 281.5 394.1 282.9 394.5 280.3 395.0 282.7 395.4 282.1 395.8 284.2 396.2 282.6 396.7 281.6 397.1 282.2 397.5 281.3 398.0 282.4 398.4 281.6 398.8 282.7 399.3 282.9 399.7 280.9 400.1 283.4 400.6 279.4 401.0 280.8 401.4 282.7 401.9 281.9 402.3 283.8 402.7 281.8 403.1 281.9 403.6 282.8 404.0 280.5 404.4 282.5 404.9 280.7 405.3 281.6 405.7 282.8 406.2 282.5 406.6 281.2 407.0 283.3 407.5 280.7 407.9 282.4 408.3 282.7 408.7 281.6 409.2 280.8 409.6 281.1 410.0 282.2 410.5 283.7 410.9 281.8 411.3 280.2 411.8 281.5 412.2 280.4 412.6 283.2 413.1 282.0 413.5 282.5 413.9 280.0 414.4 280.5 414.8 280.8 415.2 281.7 415.6 281.8 416.1 281.4 416.5 282.9 416.9 280.9 417.4 283.0 417.8 282.5 418.2 281.1 418.7 281.6 419.1 283.8 419.5 282.4 420.0 280.8 420.4 281.9 420.8 281.6 421.2 282.6 421.7 281.3 422.1 282.8 422.5 281.7 423.0 281.4 423.4 283.0 423.8 282.3 424.3 280.3 424.7 282.1 425.1 282.0 425.6 282.3 426.0 283.1 426.4 280.6 426.8 282.6 427.3 281.6 427.7 282.8 428.1 281.1 428.6 281.4 429.0 283.4 429.4 280.7 429.9 281.7 430.3 278.8 430.7 280.9 431.2 281.0 431.6 281.7 432.0 281.8 432.5 282.6 432.9 280.9 433.3 283.8 433.7 283.9 434.2 281.4 434.6 282.7 435.0 283.8 435.5 281.7 435.9 282.3 436.3 283.1 436.8 283.2 437.2 282.3 437.6 282.0 438.1 282.6 438.5 282.0 438.9 283.1 439.3 281.9 439.8 281.7 440.2 281.3 440.6 282.4 441.1 281.6 441.5 280.1 441.9 282.6 442.4 281.5 442.8 282.6 443.2 281.9 443.7 282.1 444.1 282.0 444.5 282.3 445.0 281.9 445.4 279.8 445.8 282.1 446.2 282.5 446.7 279.8 447.1 281.6 447.5 282.3 448.0 282.7 448.4 283.6 448.8 282.9 449.3 282.7 449.7 282.1 450.1 282.4 450.6 282.0 451.0 282.6 451.4 280.1 451.8 281.9 452.3 283.6 452.7 281.5 453.1 280.7 453.6 281.5 454.0 281.9 454.4 282.9 454.9 280.2 455.3 281.7 455.7 283.2 456.2 282.4 456.6 281.2 457.0 283.2 457.4 282.1 457.9 281.9 458.3 282.1 458.7 281.5 459.2 282.9 459.6 283.1 460.0 282.2 460.5 281.9 460.9 282.1 461.3 281.7 461.8 280.9 462.2 281.6 462.6 282.0 463.1 281.9 463.5 283.4 463.9 280.5 464.3 281.6 464.8 282.7 465.2 281.4 465.6 281.5 466.1 282.0 466.5 281.9 466.9 282.1 467.4 281.3 467.8 281.6 468.2 281.0 468.7 280.4 469.1 281.2 469.5 280.5 469.9 281.8 470.4 282.0 470.8 282.1 471.2 282.0 471.7 282.6 472.1 282.2 472.5 282.1 473.0 283.0 473.4 282.1 473.8 281.2 474.3 282.7 474.7 280.8 475.1 279.3 475.5 281.6 476.0 281.0 476.4 282.3 476.8 281.7 477.3 280.2 477.7 280.9 478.1 283.1 478.6 281.9 479.0 281.7 479.4 281.6 479.9 282.0 480.3 282.9 480.7 282.2 481.2 281.6 481.6 282.0 482.0 282.3 482.4 282.4 482.9 281.8 483.3 283.3 483.7 279.7 484.2 279.8 484.6 281.7 485.0 282.1 485.5 282.2 485.9 280.6 486.3 281.9 486.8 281.5 487.2 282.9 487.6 282.8 488.0 281.0 488.5 280.1 488.9 282.3 489.3 282.0 489.8 280.5 490.2 282.1 490.6 282.9 491.1 281.2 491.5 280.8 491.9 282.2 492.4 282.5 492.8 282.0 493.2 280.4 493.7 281.8 494.1 281.4 494.5 281.9 494.9 282.1 495.4 281.0 495.8 281.4 496.2 281.1 496.7 281.7 497.1 282.5 497.5 280.9 498.0 282.3 498.4 281.9 498.8 281.1 499.3 282.7 499.7 279.7 500.1 283.5 500.5 283.1 501.0 281.7 501.4 281.0 501.8 281.2 502.3 280.0 502.7 283.5 503.1 280.8 503.6 282.2 504.0 280.6 504.4 282.0 504.9 282.2 505.3 281.6 505.7 283.0 506.1 281.9 506.6 282.5 507.0 281.8 507.4 281.0 507.9 281.8 508.3 282.1 508.7 281.5 509.2 281.5 509.6 281.0 510.0 281.7 510.5 281.3 510.9 280.4 511.3 281.5 511.8 282.2 512.2 281.2 512.6 281.0 513.0 282.1 513.5 281.4 513.9 282.8 514.3 281.2 514.8 281.1 515.2 280.7" stroke="#333333" stroke-width="2.30" fill="none" stroke-linejoin="round" stroke-linecap="round"/>
<path d="M326.0 283.1 326.4 283.8 326.9 284.7 327.3 284.1 327.7 283.8 328.2 284.5 328.6 284.0 329.0 284.1 329.4 282.8 329.9 283.7 330.3 283.9 330.7 283.2 331.2 283.6 331.6 283.0 332.0 282.8 332.5 284.3 332.9 282.2 333.3 282.7 333.8 283.4 334.2 283.0 334.6 284.2 335.1 284.0 335.5 283.8 335.9 284.5 336.3 283.7 336.8 284.3 337.2 283.8 337.6 283.6 338.1 284.1 338.5 284.2 338.9 283.8 339.4 282.9 339.8 283.9 340.2 284.1 340.7 284.2 341.1 283.1 341.5 283.4 341.9 284.0 342.4 283.7 342.8 283.6 343.2 284.2 343.7 283.5 344.1 284.0 344.5 282.9 345.0 283.9 345.4 283.2 345.8 283.4 346.3 285.1 346.7 284.5 347.1 283.9 347.5 283.4 348.0 283.3 348.4 282.6 348.8 283.2 349.3 282.0 349.7 283.8 350.1 283.7 350.6 283.0 351.0 283.6 351.4 282.6 351.9 283.3 352.3 283.8 352.7 284.2 353.2 283.8 353.6 283.1 354.0 283.3 354.4 284.7 354.9 282.4 355.3 284.3 355.7 282.3 356.2 283.0 356.6 284.1 357.0 283.4 357.5 283.1 357.9 284.1 358.3 284.2 358.8 283.2 359.2 283.8 359.6 284.8 360.0 283.6 360.5 283.8 360.9 283.8 361.3 283.8 361.8 283.1 362.2 282.5 362.6 283.8 363.1 283.0 363.5 283.4 363.9 283.2 364.4 283.5 364.8 283.4 365.2 283.3 365.7 283.5 366.1 284.0 366.5 282.8 366.9 283.9 367.4 283.1 367.8 284.3 368.2 283.8 368.7 283.6 369.1 283.5 369.5 283.4 370.0 284.3 370.4 283.5 370.8 284.1 371.3 284.0 371.7 283.5 372.1 283.2 372.5 284.3 373.0 284.3 373.4 284.1 373.8 283.0 374.3 283.8 374.7 283.5 375.1 284.0 375.6 283.4 376.0 283.0 376.4 283.7 376.9 283.0 377.3 284.4 377.7 283.6 378.1 283.9 378.6 284.2 379.0 285.0 379.4 283.9 379.9 282.8 380.3 282.7 380.7 282.8 381.2 283.8 381.6 283.0 382.0 284.2 382.5 283.4 382.9 283.0 383.3 284.4 383.8 283.7 384.2 284.0 384.6 283.3 385.0 283.9 385.5 284.4 385.9 283.6 386.3 283.2 386.8 284.6 387.2 284.2 387.6 283.2 388.1 282.8 388.5 283.8 388.9 284.5 389.4 284.4 389.8 283.4 390.2 283.8 390.6 284.3 391.1 284.0 391.5 283.2 391.9 283.6 392.4 284.5 392.8 284.5 393.2 283.6 393.7 283.9 394.1 283.9 394.5 284.0 395.0 282.5 395.4 284.5 395.8 284.1 396.2 283.2 396.7 284.1 397.1 282.9 397.5 282.0 398.0 282.6 398.4 284.0 398.8 283.4 399.3 282.8 399.7 284.2 400.1 283.6 400.6 282.7 401.0 283.0 401.4 282.7 401.9 283.5 402.3 284.2 402.7 284.2 403.1 283.6 403.6 284.1 404.0 282.4 404.4 283.4 404.9 283.5 405.3 284.4 405.7 283.5 406.2 284.8 406.6 283.2 407.0 282.9 407.5 282.0 407.9 283.6 408.3 284.0 408.7 283.7 409.2 283.9 409.6 284.0 410.0 283.3 410.5 283.7 410.9 284.3 411.3 283.5 411.8 283.7 412.2 282.6 412.6 283.0 413.1 283.3 413.5 283.1 413.9 282.5 414.4 283.4 414.8 284.3 415.2 283.6 415.6 283.5 416.1 284.0 416.5 284.5 416.9 283.7 417.4 283.3 417.8 283.9 418.2 284.2 418.7 282.9 419.1 284.5 419.5 283.8 420.0 283.7 420.4 284.2 420.8 283.8 421.2 283.9 421.7 283.2 422.1 283.6 422.5 283.0 423.0 284.2 423.4 282.0 423.8 283.1 424.3 283.6 424.7 283.3 425.1 283.5 425.6 283.0 426.0 284.3 426.4 282.7 426.8 283.6 427.3 283.6 427.7 283.9 428.1 283.2 428.6 283.7 429.0 282.8 429.4 283.7 429.9 283.9 430.3 282.8 430.7 283.4 431.2 283.1 431.6 284.0 432.0 284.2 432.5 284.5 432.9 283.9 433.3 283.5 433.7 282.7 434.2 283.0 434.6 284.3 435.0 283.4 435.5 283.3 435.9 283.3 436.3 283.1 436.8 283.4 437.2 283.7 437.6 283.4 438.1 284.2 438.5 282.7 438.9 283.7 439.3 283.0 439.8 282.8 440.2 282.2 440.6 284.7 441.1 283.2 441.5 283.4 441.9 283.3 442.4 283.5 442.8 284.6 443.2 283.6 443.7 283.8 444.1 283.6 444.5 283.0 445.0 284.3 445.4 283.6 445.8 284.6 446.2 285.0 446.7 283.3 447.1 283.6 447.5 284.4 448.0 283.5 448.4 283.3 448.8 283.9 449.3 284.1 449.7 283.2 450.1 283.3 450.6 283.6 451.0 284.1 451.4 282.3 451.8 284.1 452.3 283.8 452.7 283.8 453.1 284.5 453.6 284.6 454.0 284.0 454.4 283.5 454.9 282.7 455.3 283.6 455.7 284.3 456.2 284.0 456.6 283.9 457.0 284.8 457.4 283.6 457.9 284.0 458.3 284.0 458.7 283.9 459.2 284.4 459.6 284.1 460.0 283.4 460.5 284.0 460.9 283.2 461.3 284.0 461.8 283.6 462.2 283.3 462.6 283.9 463.1 282.8 463.5 283.3 463.9 282.5 464.3 283.8 464.8 282.6 465.2 283.4 465.6 284.0 466.1 283.4 466.5 282.8 466.9 283.8 467.4 283.9 467.8 282.5 468.2 284.0 468.7 283.6 469.1 284.0 469.5 282.4 469.9 283.7 470.4 283.9 470.8 285.1 471.2 284.2 471.7 284.4 472.1 283.4 472.5 284.4 473.0 284.0 473.4 284.6 473.8 283.8 474.3 283.7 474.7 284.1 475.1 283.0 475.5 283.6 476.0 285.0 476.4 283.0 476.8 283.6 477.3 283.1 477.7 283.1 478.1 284.0 478.6 283.9 479.0 284.4 479.4 283.8 479.9 282.4 480.3 282.0 480.7 283.5 481.2 283.7 481.6 284.3 482.0 283.6 482.4 282.9 482.9 283.3 483.3 283.5 483.7 283.1 484.2 283.5 484.6 283.3 485.0 283.7 485.5 283.9 485.9 284.3 486.3 283.7 486.8 284.1 487.2 284.1 487.6 283.6 488.0 283.5 488.5 282.5 488.9 285.0 489.3 282.7 489.8 283.3 490.2 283.1 490.6 283.4 491.1 284.1 491.5 283.3 491.9 282.8 492.4 283.9 492.8 284.1 493.2 284.2 493.7 283.3 494.1 284.3 494.5 283.2 494.9 282.8 495.4 283.9 495.8 284.3 496.2 283.6 496.7 283.2 497.1 283.6 497.5 283.6 498.0 284.1 498.4 282.9 498.8 283.9 499.3 283.6 499.7 283.9 500.1 283.6 500.5 283.0 501.0 283.7 501.4 283.7 501.8 283.9 502.3 282.9 502.7 285.6 503.1 282.8 503.6 283.5 504.0 284.2 504.4 283.2 504.9 284.1 505.3 282.7 505.7 283.3 506.1 283.7 506.6 282.9 507.0 281.8 507.4 283.1 507.9 284.0 508.3 282.9 508.7 283.3 509.2 283.9 509.6 283.4 510.0 283.6 510.5 284.2 510.9 282.9 511.3 284.0 511.8 282.8 512.2 283.2 512.6 283.2 513.0 283.9 513.5 283.2 513.9 282.7 514.3 283.7 514.8 282.3 515.2 282.5" stroke="#0a8a0a" stroke-width="2.30" fill="none" stroke-linejoin="round" stroke-linecap="round"/>
<path d="M326.0 282.6 326.4 282.8 326.9 284.2 327.3 283.9 327.7 282.4 328.2 282.7 328.6 280.7 329.0 281.7 329.4 282.6 329.9 283.2 330.3 281.1 330.7 281.1 331.2 282.9 331.6 283.2 332.0 280.8 332.5 282.6 332.9 283.9 333.3 282.2 333.8 283.4 334.2 283.5 334.6 281.2 335.1 281.6 335.5 280.5 335.9 280.7 336.3 281.9 336.8 282.2 337.2 282.9 337.6 281.6 338.1 279.8 338.5 282.2 338.9 283.4 339.4 282.7 339.8 282.9 340.2 284.8 340.7 284.1 341.1 282.0 341.5 279.3 341.9 283.8 342.4 280.1 342.8 282.9 343.2 281.0 343.7 282.7 344.1 281.1 344.5 282.8 345.0 281.2 345.4 281.7 345.8 281.2 346.3 282.7 346.7 282.5 347.1 282.5 347.5 281.0 348.0 282.0 348.4 280.8 348.8 281.7 349.3 282.4 349.7 282.3 350.1 284.1 350.6 281.3 351.0 280.7 351.4 281.2 351.9 282.8 352.3 281.6 352.7 283.9 353.2 279.4 353.6 280.9 354.0 280.5 354.4 280.5 354.9 282.0 355.3 281.5 355.7 280.0 356.2 282.6 356.6 283.9 357.0 280.3 357.5 282.2 357.9 281.7 358.3 281.2 358.8 282.7 359.2 280.8 359.6 281.1 360.0 280.9 360.5 283.0 360.9 280.7 361.3 280.2 361.8 282.9 362.2 281.2 362.6 281.1 363.1 283.0 363.5 282.9 363.9 282.4 364.4 284.4 364.8 282.4 365.2 281.8 365.7 280.2 366.1 280.3 366.5 281.9 366.9 283.0 367.4 282.7 367.8 282.3 368.2 281.8 368.7 281.9 369.1 283.3 369.5 283.5 370.0 281.9 370.4 282.3 370.8 283.1 371.3 282.9 371.7 282.9 372.1 282.7 372.5 281.6 373.0 284.0 373.4 280.4 373.8 282.2 374.3 282.8 374.7 284.4 375.1 284.2 375.6 280.9 376.0 283.3 376.4 281.8 376.9 281.4 377.3 283.6 377.7 283.2 378.1 280.6 378.6 281.4 379.0 281.1 379.4 282.1 379.9 279.7 380.3 282.1 380.7 282.2 381.2 282.1 381.6 282.4 382.0 283.3 382.5 281.6 382.9 281.8 383.3 281.9 383.8 282.1 384.2 283.2 384.6 280.9 385.0 281.6 385.5 283.1 385.9 283.7 386.3 283.2 386.8 281.0 387.2 285.3 387.6 281.9 388.1 283.2 388.5 283.0 388.9 283.4 389.4 281.5 389.8 282.1 390.2 283.5 390.6 282.9 391.1 281.1 391.5 282.0 391.9 283.8 392.4 280.6 392.8 278.6 393.2 281.2 393.7 282.4 394.1 282.1 394.5 280.2 395.0 282.1 395.4 283.1 395.8 283.6 396.2 280.3 396.7 281.3 397.1 280.4 397.5 282.5 398.0 282.8 398.4 282.6 398.8 282.8 399.3 280.6 399.7 282.4 400.1 281.4 400.6 282.2 401.0 280.9 401.4 280.8 401.9 282.7 402.3 281.6 402.7 281.8 403.1 281.6 403.6 281.8 404.0 284.5 404.4 281.1 404.9 280.0 405.3 280.7 405.7 282.3 406.2 281.5 406.6 280.0 407.0 281.3 407.5 281.6 407.9 283.6 408.3 281.9 408.7 282.6 409.2 283.1 409.6 281.7 410.0 283.2 410.5 281.5 410.9 280.0 411.3 283.5 411.8 282.9 412.2 280.8 412.6 282.2 413.1 282.8 413.5 282.9 413.9 282.1 414.4 280.5 414.8 282.9 415.2 284.0 415.6 282.0 416.1 282.7 416.5 281.2 416.9 281.9 417.4 282.0 417.8 282.3 418.2 282.1 418.7 282.6 419.1 282.4 419.5 280.6 420.0 280.7 420.4 282.9 420.8 283.9 421.2 281.9 421.7 283.5 422.1 281.8 422.5 281.0 423.0 281.0 423.4 280.1 423.8 282.8 424.3 282.3 424.7 283.8 425.1 282.5 425.6 280.1 426.0 281.8 426.4 277.2 426.8 283.2 427.3 280.2 427.7 282.4 428.1 282.3 428.6 282.1 429.0 281.7 429.4 280.3 429.9 282.3 430.3 282.9 430.7 282.3 431.2 281.8 431.6 282.2 432.0 282.6 432.5 282.9 432.9 281.2 433.3 284.2 433.7 281.7 434.2 281.3 434.6 284.5 435.0 280.7 435.5 283.6 435.9 280.8 436.3 282.3 436.8 282.6 437.2 281.3 437.6 283.3 438.1 283.2 438.5 283.2 438.9 280.9 439.3 279.4 439.8 283.1 440.2 280.3 440.6 283.2 441.1 277.8 441.5 284.6 441.9 280.9 442.4 282.4 442.8 280.8 443.2 279.6 443.7 283.1 444.1 279.9 444.5 284.4 445.0 280.9 445.4 283.2 445.8 280.7 446.2 282.3 446.7 281.9 447.1 281.7 447.5 281.1 448.0 281.1 448.4 283.2 448.8 282.7 449.3 284.5 449.7 280.3 450.1 282.2 450.6 283.7 451.0 280.0 451.4 281.4 451.8 280.8 452.3 281.7 452.7 281.9 453.1 283.8 453.6 283.2 454.0 283.4 454.4 283.3 454.9 283.3 455.3 281.9 455.7 284.3 456.2 282.0 456.6 282.9 457.0 283.7 457.4 282.6 457.9 283.9 458.3 282.3 458.7 281.5 459.2 280.1 459.6 283.9 460.0 282.4 460.5 281.4 460.9 282.5 461.3 280.1 461.8 281.9 462.2 282.1 462.6 282.8 463.1 280.9 463.5 282.3 463.9 282.9 464.3 282.5 464.8 279.3 465.2 281.9 465.6 283.2 466.1 283.0 466.5 284.0 466.9 282.3 467.4 281.8 467.8 281.7 468.2 282.7 468.7 281.2 469.1 281.3 469.5 281.8 469.9 282.6 470.4 282.4 470.8 279.6 471.2 283.3 471.7 282.0 472.1 285.5 472.5 279.7 473.0 283.5 473.4 285.0 473.8 282.8 474.3 281.8 474.7 282.1 475.1 281.8 475.5 281.8 476.0 284.3 476.4 281.3 476.8 284.1 477.3 283.6 477.7 283.7 478.1 283.5 478.6 281.6 479.0 284.0 479.4 280.9 479.9 283.2 480.3 282.2 480.7 283.3 481.2 282.7 481.6 280.5 482.0 282.0 482.4 282.4 482.9 281.8 483.3 281.6 483.7 280.8 484.2 280.8 484.6 282.9 485.0 283.5 485.5 279.5 485.9 284.7 486.3 283.3 486.8 284.5 487.2 281.7 487.6 282.2 488.0 284.0 488.5 280.9 488.9 282.0 489.3 280.6 489.8 282.7 490.2 284.0 490.6 284.2 491.1 284.0 491.5 282.6 491.9 282.9 492.4 280.9 492.8 281.3 493.2 281.7 493.7 282.0 494.1 284.6 494.5 280.5 494.9 282.7 495.4 280.2 495.8 285.3 496.2 281.6 496.7 280.7 497.1 283.0 497.5 281.2 498.0 283.2 498.4 282.2 498.8 280.6 499.3 280.6 499.7 281.8 500.1 282.1 500.5 282.2 501.0 281.0 501.4 283.0 501.8 283.7 502.3 283.7 502.7 281.9 503.1 283.0 503.6 279.2 504.0 281.1 504.4 279.6 504.9 279.9 505.3 282.3 505.7 279.7 506.1 281.3 506.6 279.7 507.0 283.3 507.4 278.8 507.9 280.6 508.3 280.9 508.7 282.2 509.2 283.6 509.6 281.1 510.0 280.8 510.5 280.1 510.9 282.5 511.3 282.7 511.8 282.0 512.2 283.2 512.6 283.1 513.0 282.9 513.5 281.2 513.9 282.8 514.3 281.6 514.8 281.2 515.2 281.6" stroke="#f43c08" stroke-width="2.30" fill="none" stroke-linejoin="round" stroke-linecap="round"/>
<path d="M326.0 280.5 326.4 281.3 326.9 278.6 327.3 279.5 327.7 280.3 328.2 280.9 328.6 282.1 329.0 281.3 329.4 280.7 329.9 280.8 330.3 280.9 330.7 280.8 331.2 280.2 331.6 279.8 332.0 281.1 332.5 280.8 332.9 280.0 333.3 281.4 333.8 279.7 334.2 280.4 334.6 280.7 335.1 281.3 335.5 282.7 335.9 277.9 336.3 280.8 336.8 283.9 337.2 280.5 337.6 279.5 338.1 281.7 338.5 281.1 338.9 282.2 339.4 281.3 339.8 280.8 340.2 282.1 340.7 280.4 341.1 280.2 341.5 279.2 341.9 281.8 342.4 279.2 342.8 281.0 343.2 283.0 343.7 281.4 344.1 280.4 344.5 283.1 345.0 283.5 345.4 279.7 345.8 279.8 346.3 277.9 346.7 281.0 347.1 279.9 347.5 282.5 348.0 280.2 348.4 282.2 348.8 283.0 349.3 281.0 349.7 284.1 350.1 279.5 350.6 282.1 351.0 279.6 351.4 282.3 351.9 283.5 352.3 280.8 352.7 282.3 353.2 282.6 353.6 279.9 354.0 279.9 354.4 281.3 354.9 281.4 355.3 282.0 355.7 279.9 356.2 281.3 356.6 280.4 357.0 280.5 357.5 281.0 357.9 282.4 358.3 281.5 358.8 282.6 359.2 280.3 359.6 281.8 360.0 280.8 360.5 279.7 360.9 280.5 361.3 281.9 361.8 280.0 362.2 282.0 362.6 279.6 363.1 279.3 363.5 281.5 363.9 280.4 364.4 282.6 364.8 280.5 365.2 282.1 365.7 279.7 366.1 283.0 366.5 281.5 366.9 281.7 367.4 281.9 367.8 280.5 368.2 280.8 368.7 281.8 369.1 280.6 369.5 283.6 370.0 280.0 370.4 279.9 370.8 281.8 371.3 280.9 371.7 281.2 372.1 283.5 372.5 280.2 373.0 279.2 373.4 282.7 373.8 281.6 374.3 280.7 374.7 279.8 375.1 281.2 375.6 282.3 376.0 281.1 376.4 282.5 376.9 280.8 377.3 282.0 377.7 279.9 378.1 283.2 378.6 279.8 379.0 278.2 379.4 281.4 379.9 278.7 380.3 282.3 380.7 279.1 381.2 283.6 381.6 281.7 382.0 281.5 382.5 282.7 382.9 284.0 383.3 280.6 383.8 281.6 384.2 280.3 384.6 277.9 385.0 279.4 385.5 281.8 385.9 280.5 386.3 281.7 386.8 280.8 387.2 281.3 387.6 279.3 388.1 279.8 388.5 281.2 388.9 280.5 389.4 280.8 389.8 281.6 390.2 279.4 390.6 282.5 391.1 280.2 391.5 282.7 391.9 282.6 392.4 279.5 392.8 282.4 393.2 278.7 393.7 280.2 394.1 281.6 394.5 281.0 395.0 279.5 395.4 281.0 395.8 282.6 396.2 280.6 396.7 280.2 397.1 282.4 397.5 280.3 398.0 278.1 398.4 280.8 398.8 278.6 399.3 280.0 399.7 282.3 400.1 279.4 400.6 281.3 401.0 279.3 401.4 280.1 401.9 281.8 402.3 280.0 402.7 281.1 403.1 280.4 403.6 281.4 404.0 280.7 404.4 282.4 404.9 279.8 405.3 280.5 405.7 280.1 406.2 280.5 406.6 280.0 407.0 277.5 407.5 280.1 407.9 282.2 408.3 283.2 408.7 282.5 409.2 284.3 409.6 280.1 410.0 280.7 410.5 280.0 410.9 280.2 411.3 280.6 411.8 280.1 412.2 279.6 412.6 282.2 413.1 281.6 413.5 282.2 413.9 279.2 414.4 281.9 414.8 279.9 415.2 282.0 415.6 280.9 416.1 282.6 416.5 280.5 416.9 280.7 417.4 281.7 417.8 281.0 418.2 282.0 418.7 278.5 419.1 283.6 419.5 283.1 420.0 282.5 420.4 281.5 420.8 280.9 421.2 281.8 421.7 280.4 422.1 280.4 422.5 280.7 423.0 283.9 423.4 281.8 423.8 279.5 424.3 281.4 424.7 280.6 425.1 280.4 425.6 281.5 426.0 282.0 426.4 282.0 426.8 281.9 427.3 281.9 427.7 282.2 428.1 280.3 428.6 281.5 429.0 282.0 429.4 281.3 429.9 281.9 430.3 280.3 430.7 282.5 431.2 282.5 431.6 282.6 432.0 281.3 432.5 282.1 432.9 282.2 433.3 280.6 433.7 280.6 434.2 279.2 434.6 281.0 435.0 280.5 435.5 280.0 435.9 281.9 436.3 281.7 436.8 281.5 437.2 281.6 437.6 282.2 438.1 281.1 438.5 281.1 438.9 283.9 439.3 280.4 439.8 280.6 440.2 282.0 440.6 281.2 441.1 281.5 441.5 281.9 441.9 282.5 442.4 281.2 442.8 281.0 443.2 283.4 443.7 281.0 444.1 278.9 444.5 281.9 445.0 281.8 445.4 281.7 445.8 279.1 446.2 281.5 446.7 279.8 447.1 281.0 447.5 279.7 448.0 282.1 448.4 281.0 448.8 280.7 449.3 282.0 449.7 279.3 450.1 284.3 450.6 281.1 451.0 280.5 451.4 280.6 451.8 282.1 452.3 280.3 452.7 281.6 453.1 282.2 453.6 281.5 454.0 279.5 454.4 281.7 454.9 281.3 455.3 281.5 455.7 282.7 456.2 281.5 456.6 280.7 457.0 283.1 457.4 282.5 457.9 281.0 458.3 284.0 458.7 279.2 459.2 280.4 459.6 281.8 460.0 281.2 460.5 280.2 460.9 280.5 461.3 280.0 461.8 283.1 462.2 278.9 462.6 280.3 463.1 280.1 463.5 280.6 463.9 280.6 464.3 283.7 464.8 281.8 465.2 281.3 465.6 278.8 466.1 279.7 466.5 280.8 466.9 281.4 467.4 281.5 467.8 278.2 468.2 280.6 468.7 283.2 469.1 283.7 469.5 282.1 469.9 279.9 470.4 282.9 470.8 281.7 471.2 276.9 471.7 281.4 472.1 281.8 472.5 282.5 473.0 279.6 473.4 281.8 473.8 280.6 474.3 283.2 474.7 278.7 475.1 279.9 475.5 282.4 476.0 281.0 476.4 281.3 476.8 280.4 477.3 280.9 477.7 282.9 478.1 281.4 478.6 282.2 479.0 282.4 479.4 280.7 479.9 279.8 480.3 282.4 480.7 280.2 481.2 282.6 481.6 283.6 482.0 280.3 482.4 280.3 482.9 281.8 483.3 280.3 483.7 280.7 484.2 281.0 484.6 282.1 485.0 280.2 485.5 278.3 485.9 281.0 486.3 283.9 486.8 282.4 487.2 281.6 487.6 280.7 488.0 279.4 488.5 280.7 488.9 283.4 489.3 283.5 489.8 281.2 490.2 281.3 490.6 280.8 491.1 282.4 491.5 280.6 491.9 281.6 492.4 281.0 492.8 279.7 493.2 281.5 493.7 281.8 494.1 282.0 494.5 280.8 494.9 283.9 495.4 279.1 495.8 279.5 496.2 281.6 496.7 279.1 497.1 278.2 497.5 279.2 498.0 281.3 498.4 283.4 498.8 282.2 499.3 278.5 499.7 281.7 500.1 280.7 500.5 281.2 501.0 284.1 501.4 280.6 501.8 280.0 502.3 278.1 502.7 283.3 503.1 282.1 503.6 280.9 504.0 281.7 504.4 281.7 504.9 282.1 505.3 281.6 505.7 282.5 506.1 280.7 506.6 283.0 507.0 280.9 507.4 281.0 507.9 279.1 508.3 281.4 508.7 280.4 509.2 281.4 509.6 281.2 510.0 280.3 510.5 283.2 510.9 282.2 511.3 280.5 511.8 281.5 512.2 279.4 512.6 280.9 513.0 282.8 513.5 279.5 513.9 279.5 514.3 278.2 514.8 278.7 515.2 279.9" stroke="#740000" stroke-width="2.30" fill="none" stroke-linejoin="round" stroke-linecap="round"/>
<path d="M336.00 353.00 L336.00 459.95" stroke="#333" stroke-width="2.00" fill="none"/>
<path d="M335.00 459.30 L518.80 459.30" stroke="#111" stroke-width="1.30" fill="none"/>
<path d="M336.00 406.40 L340.20 406.40" stroke="#333" stroke-width="1.40" fill="none"/>
<path d="M336.00 353.00 L340.20 353.00" stroke="#333" stroke-width="1.40" fill="none"/>
<path d="M427.30 459.30 L427.30 456.10" stroke="#111" stroke-width="1.20" fill="none"/>
<path d="M518.20 459.30 L518.20 456.10" stroke="#111" stroke-width="1.20" fill="none"/>
<text x="327.20" y="463.60" font-size="10.70" text-anchor="end" font-family="Liberation Sans" font-weight="normal">100</text>
<text x="327.20" y="410.20" font-size="10.70" text-anchor="end" font-family="Liberation Sans" font-weight="normal">600</text>
<text x="327.20" y="357.40" font-size="10.70" text-anchor="end" font-family="Liberation Sans" font-weight="normal">1100</text>
<text x="336.30" y="476.60" font-size="10.70" text-anchor="middle" font-family="Liberation Sans" font-weight="normal">0</text>
<text x="427.00" y="476.60" font-size="10.70" text-anchor="middle" font-family="Liberation Sans" font-weight="normal">500</text>
<text x="518.30" y="476.60" font-size="10.70" text-anchor="middle" font-family="Liberation Sans" font-weight="normal">1000</text>
<text x="427.00" y="491.00" font-size="10.70" text-anchor="middle" font-family="Liberation Sans" font-weight="normal">Channel</text>
<text transform="translate(297.70,407.00) rotate(-90)" font-size="10.70" text-anchor="middle" font-family="Liberation Sans">Counts</text>
<path d="M337.0 443.8 337.7 442.4 338.5 445.0 339.2 445.1 339.9 444.0 340.6 445.4 341.4 445.5 342.1 439.0 342.8 441.6 343.5 442.1 344.3 438.7 345.0 438.6 345.7 440.8 346.5 433.9 347.2 434.9 347.9 436.0 348.6 434.1 349.4 434.7 350.1 436.1 350.8 432.7 351.6 441.8 352.3 435.7 353.0 436.6 353.7 436.0 354.5 431.6 355.2 436.3 355.9 433.7 356.6 437.1 357.4 436.1 358.1 436.1 358.8 433.3 359.6 433.7 360.3 434.4 361.0 432.1 361.7 432.0 362.5 437.8 363.2 434.4 363.9 435.9 364.7 438.3 365.4 434.4 366.1 439.7 366.8 434.8 367.6 436.2 368.3 433.9 369.0 436.7 369.7 436.9 370.5 436.0 371.2 431.2 371.9 435.3 372.7 433.3 373.4 434.2 374.1 430.4 374.8 433.5 375.6 436.1 376.3 434.9 377.0 435.6 377.8 437.8 378.5 438.3 379.2 436.9 379.9 437.2 380.7 437.5 381.4 432.0 382.1 427.2 382.8 432.8 383.6 436.6 384.3 437.4 385.0 431.6 385.8 437.5 386.5 438.6 387.2 433.2 387.9 430.9 388.7 434.4 389.4 434.8 390.1 434.7 390.9 434.3 391.6 433.0 392.3 431.1 393.0 436.3 393.8 433.8 394.5 433.3 395.2 432.7 395.9 432.6 396.7 435.2 397.4 433.8 398.1 432.8 398.9 437.1 399.6 437.2 400.3 438.0 401.0 437.3 401.8 441.7 402.5 447.3 403.2 443.6 403.9 447.5 404.7 451.3 405.4 452.2 406.1 447.4 406.9 450.6 407.6 448.7 408.3 451.2 409.0 450.3 409.8 450.0 410.5 449.1 411.2 449.4 412.0 449.6 412.7 449.8 413.4 448.5 414.1 450.3 414.9 452.8 415.6 447.7 416.3 449.3 417.0 447.9 417.8 451.8 418.5 447.9 419.2 450.4 420.0 448.6 420.7 449.8 421.4 450.8 422.1 446.9 422.9 446.8 423.6 450.6 424.3 448.7 425.1 449.8 425.8 449.1 426.5 447.9 427.2 447.4 428.0 451.2 428.7 449.7 429.4 449.6 430.1 449.4 430.9 450.6 431.6 451.0 432.3 447.5 433.1 445.3 433.8 451.8 434.5 447.6 435.2 450.4 436.0 449.3 436.7 449.7 437.4 454.2 438.2 449.5 438.9 452.9 439.6 451.9 440.3 453.0 441.1 452.2 441.8 451.2 442.5 450.0 443.2 449.4 444.0 450.7 444.7 449.5 445.4 453.9 446.2 447.0 446.9 449.5 447.6 450.7 448.3 447.7 449.1 451.0 449.8 450.6 450.5 446.5 451.3 446.5 452.0 451.0 452.7 449.6 453.4 445.6 454.2 447.2 454.9 448.2 455.6 451.5 456.3 447.7 457.1 450.2 457.8 451.2 458.5 446.9 459.3 452.2 460.0 453.9 460.7 448.1 461.4 446.4 462.2 451.2 462.9 451.6 463.6 449.9 464.3 449.6 465.1 450.7 465.8 445.7 466.5 449.5 467.3 447.8 468.0 451.6 468.7 447.3 469.4 448.6 470.2 449.8 470.9 445.4 471.6 446.5 472.4 450.0 473.1 453.4 473.8 452.0 474.5 452.0 475.3 452.6 476.0 451.7 476.7 449.8 477.4 447.5 478.2 446.6 478.9 452.1 479.6 446.8 480.4 447.0 481.1 450.8 481.8 448.5 482.5 450.5 483.3 448.2 484.0 450.1 484.7 447.5 485.5 449.5 486.2 449.1 486.9 452.1 487.6 448.9 488.4 446.9 489.1 448.1 489.8 451.4 490.5 450.0 491.3 449.6 492.0 449.7 492.7 450.9 493.5 447.8 494.2 449.3 494.9 453.0 495.6 445.2 496.4 448.5 497.1 447.1 497.8 450.0 498.6 450.2 499.3 449.3 500.0 449.4 500.7 446.9 501.5 449.3 502.2 453.1 502.9 451.0 503.6 452.1 504.4 448.6 505.1 451.1 505.8 446.3 506.6 448.3 507.3 450.0 508.0 446.1 508.7 451.3 509.5 447.5 510.2 454.4 510.9 450.9 511.7 447.5 512.4 449.1 513.1 449.7 513.8 447.7 514.6 452.1 515.3 448.1 516.0 446.2 516.7 445.6 517.5 450.1 518.2 447.5" stroke="#ff0000" stroke-width="2.30" fill="none" stroke-linejoin="round" stroke-linecap="round"/>
<path d="M337.0 445.7 337.7 449.6 338.5 440.0 339.2 443.8 339.9 444.5 340.6 446.6 341.4 447.4 342.1 444.3 342.8 445.1 343.5 446.4 344.3 440.7 345.0 440.6 345.7 434.3 346.5 429.5 347.2 432.4 347.9 432.9 348.6 433.9 349.4 432.1 350.1 433.3 350.8 433.2 351.6 437.1 352.3 433.4 353.0 432.4 353.7 433.4 354.5 433.9 355.2 435.5 355.9 431.6 356.6 437.2 357.4 433.4 358.1 434.7 358.8 435.1 359.6 431.1 360.3 430.0 361.0 432.0 361.7 428.7 362.5 435.5 363.2 430.9 363.9 433.7 364.7 433.2 365.4 429.1 366.1 432.2 366.8 433.3 367.6 436.3 368.3 431.4 369.0 433.7 369.7 433.8 370.5 430.9 371.2 435.1 371.9 434.6 372.7 431.6 373.4 434.2 374.1 433.9 374.8 431.5 375.6 429.7 376.3 433.6 377.0 433.9 377.8 434.7 378.5 435.3 379.2 436.6 379.9 434.8 380.7 433.3 381.4 432.1 382.1 437.2 382.8 431.3 383.6 428.6 384.3 434.5 385.0 430.9 385.8 440.2 386.5 436.0 387.2 432.8 387.9 428.8 388.7 431.8 389.4 433.2 390.1 430.5 390.9 435.0 391.6 436.3 392.3 429.8 393.0 432.4 393.8 433.5 394.5 426.9 395.2 435.0 395.9 432.1 396.7 425.8 397.4 432.1 398.1 429.3 398.9 434.6 399.6 432.6 400.3 430.4 401.0 433.7 401.8 437.1 402.5 435.2 403.2 437.3 403.9 442.4 404.7 441.2 405.4 438.9 406.1 439.1 406.9 438.2 407.6 436.7 408.3 443.0 409.0 441.2 409.8 436.3 410.5 437.8 411.2 435.2 412.0 433.6 412.7 444.2 413.4 440.7 414.1 442.4 414.9 435.9 415.6 437.1 416.3 433.6 417.0 437.5 417.8 440.0 418.5 435.4 419.2 440.7 420.0 437.5 420.7 436.5 421.4 441.3 422.1 438.7 422.9 441.0 423.6 437.0 424.3 436.1 425.1 436.0 425.8 437.4 426.5 439.4 427.2 436.6 428.0 441.0 428.7 435.5 429.4 441.0 430.1 442.3 430.9 439.5 431.6 439.9 432.3 437.3 433.1 436.3 433.8 439.2 434.5 433.6 435.2 440.3 436.0 440.5 436.7 440.0 437.4 441.1 438.2 437.5 438.9 437.0 439.6 436.0 440.3 440.9 441.1 440.9 441.8 438.9 442.5 439.6 443.2 438.7 444.0 441.4 444.7 439.1 445.4 437.3 446.2 437.9 446.9 436.6 447.6 442.0 448.3 441.3 449.1 438.8 449.8 439.4 450.5 441.6 451.3 444.4 452.0 438.5 452.7 441.5 453.4 438.4 454.2 439.3 454.9 441.5 455.6 435.6 456.3 436.9 457.1 438.8 457.8 441.3 458.5 436.3 459.3 440.9 460.0 435.3 460.7 439.3 461.4 435.8 462.2 440.2 462.9 438.6 463.6 439.5 464.3 439.0 465.1 435.0 465.8 437.0 466.5 436.8 467.3 438.9 468.0 442.0 468.7 439.7 469.4 438.2 470.2 440.2 470.9 442.1 471.6 434.7 472.4 437.1 473.1 438.3 473.8 440.7 474.5 437.5 475.3 436.1 476.0 437.3 476.7 438.1 477.4 439.3 478.2 440.0 478.9 441.5 479.6 437.8 480.4 440.6 481.1 438.6 481.8 436.8 482.5 433.8 483.3 436.0 484.0 436.3 484.7 439.5 485.5 435.2 486.2 444.2 486.9 436.1 487.6 436.4 488.4 441.3 489.1 439.1 489.8 441.0 490.5 441.1 491.3 435.4 492.0 439.6 492.7 439.9 493.5 438.7 494.2 438.3 494.9 441.6 495.6 441.1 496.4 439.6 497.1 440.4 497.8 438.5 498.6 440.1 499.3 439.0 500.0 439.8 500.7 441.0 501.5 443.8 502.2 434.6 502.9 442.3 503.6 439.4 504.4 440.7 505.1 437.8 505.8 437.8 506.6 437.3 507.3 438.2 508.0 438.4 508.7 439.9 509.5 436.0 510.2 436.3 510.9 438.3 511.7 434.5 512.4 435.6 513.1 441.3 513.8 437.2 514.6 435.5 515.3 443.4 516.0 441.4 516.7 437.3 517.5 438.2 518.2 437.9" stroke="#0c0c24" stroke-width="2.30" fill="none" stroke-linejoin="round" stroke-linecap="round"/>
<path d="M337.0 453.5 337.7 452.1 338.5 457.7 339.2 452.0 339.9 450.2 340.6 455.8 341.4 455.2 342.1 449.2 342.8 448.0 343.5 454.9 344.3 441.0 345.0 436.6 345.7 435.3 346.5 428.8 347.2 426.0 347.9 418.8 348.6 411.5 349.4 409.0 350.1 403.3 350.8 403.1 351.6 398.8 352.3 393.2 353.0 395.7 353.7 390.0 354.5 389.8 355.2 385.9 355.9 381.7 356.6 376.0 357.4 383.1 358.1 377.0 358.8 383.1 359.6 375.7 360.3 376.6 361.0 375.1 361.7 377.0 362.5 378.4 363.2 375.4 363.9 374.0 364.7 373.7 365.4 372.1 366.1 371.7 366.8 368.7 367.6 369.0 368.3 371.9 369.0 369.6 369.7 358.7 370.5 365.9 371.2 367.3 371.9 365.6 372.7 364.6 373.4 365.5 374.1 367.6 374.8 367.1 375.6 364.8 376.3 367.9 377.0 366.2 377.8 368.4 378.5 367.5 379.2 364.7 379.9 367.7 380.7 370.9 381.4 372.6 382.1 369.8 382.8 374.0 383.6 369.3 384.3 367.7 385.0 366.0 385.8 372.9 386.5 365.8 387.2 363.1 387.9 367.3 388.7 364.9 389.4 368.2 390.1 362.7 390.9 369.6 391.6 370.2 392.3 366.8 393.0 365.4 393.8 367.9 394.5 370.2 395.2 364.9 395.9 363.9 396.7 368.3 397.4 365.8 398.1 362.9 398.9 362.4 399.6 362.1 400.3 360.2 401.0 378.7 401.8 377.8 402.5 387.8 403.2 392.4 403.9 394.3 404.7 398.1 405.4 411.0 406.1 413.5 406.9 410.9 407.6 416.2 408.3 418.5 409.0 420.2 409.8 427.6 410.5 429.8 411.2 428.0 412.0 432.6 412.7 437.2 413.4 438.4 414.1 445.0 414.9 446.4 415.6 447.0 416.3 442.0 417.0 449.5 417.8 440.2 418.5 446.2 419.2 449.4 420.0 446.8 420.7 442.8 421.4 444.8 422.1 443.3 422.9 450.1 423.6 448.0 424.3 444.4 425.1 451.9 425.8 445.6 426.5 448.2 427.2 441.1 428.0 446.1 428.7 449.1 429.4 447.7 430.1 444.3 430.9 450.4 431.6 444.7 432.3 451.4 433.1 445.3 433.8 447.7 434.5 448.9 435.2 449.2 436.0 450.5 436.7 448.7 437.4 444.0 438.2 449.3 438.9 445.8 439.6 447.2 440.3 447.3 441.1 448.8 441.8 451.8 442.5 445.5 443.2 447.3 444.0 446.2 444.7 446.3 445.4 445.4 446.2 449.1 446.9 448.1 447.6 450.6 448.3 439.4 449.1 450.5 449.8 450.3 450.5 442.2 451.3 451.6 452.0 448.6 452.7 444.7 453.4 449.4 454.2 445.3 454.9 448.0 455.6 450.1 456.3 451.6 457.1 448.7 457.8 448.1 458.5 442.7 459.3 443.9 460.0 449.3 460.7 450.7 461.4 449.0 462.2 445.7 462.9 447.6 463.6 445.6 464.3 448.5 465.1 443.7 465.8 448.4 466.5 450.7 467.3 445.6 468.0 451.7 468.7 438.6 469.4 450.4 470.2 445.3 470.9 447.7 471.6 449.5 472.4 450.4 473.1 443.8 473.8 449.3 474.5 443.8 475.3 449.0 476.0 447.9 476.7 449.6 477.4 445.8 478.2 447.8 478.9 445.5 479.6 448.7 480.4 449.6 481.1 450.2 481.8 448.1 482.5 451.7 483.3 450.1 484.0 452.0 484.7 449.7 485.5 447.9 486.2 450.1 486.9 451.9 487.6 448.2 488.4 449.7 489.1 446.6 489.8 451.6 490.5 447.0 491.3 443.6 492.0 451.1 492.7 445.1 493.5 452.5 494.2 447.0 494.9 445.3 495.6 446.1 496.4 450.5 497.1 444.7 497.8 450.7 498.6 446.0 499.3 451.2 500.0 449.2 500.7 449.2 501.5 455.6 502.2 445.3 502.9 451.1 503.6 444.6 504.4 447.8 505.1 445.9 505.8 447.3 506.6 449.0 507.3 445.5 508.0 450.5 508.7 446.4 509.5 451.2 510.2 447.1 510.9 448.4 511.7 449.0 512.4 448.4 513.1 451.7 513.8 457.1 514.6 449.0 515.3 445.2 516.0 449.1 516.7 450.2 517.5 447.6 518.2 456.0" stroke="#2e0a86" stroke-width="2.30" fill="none" stroke-linejoin="round" stroke-linecap="round"/>
<path d="M337.0 438.5 337.7 441.6 338.5 436.4 339.2 443.5 339.9 445.2 340.6 445.0 341.4 439.6 342.1 441.8 342.8 439.8 343.5 438.3 344.3 438.5 345.0 434.3 345.7 432.1 346.5 432.3 347.2 430.7 347.9 434.8 348.6 432.9 349.4 435.0 350.1 434.0 350.8 431.9 351.6 430.1 352.3 431.6 353.0 435.1 353.7 434.6 354.5 432.6 355.2 434.4 355.9 432.5 356.6 430.0 357.4 437.4 358.1 433.9 358.8 430.8 359.6 428.6 360.3 435.3 361.0 433.5 361.7 434.6 362.5 437.1 363.2 438.2 363.9 433.1 364.7 436.0 365.4 433.5 366.1 426.8 366.8 436.2 367.6 433.7 368.3 433.2 369.0 433.7 369.7 432.0 370.5 437.7 371.2 440.1 371.9 436.5 372.7 432.6 373.4 429.6 374.1 435.0 374.8 431.3 375.6 432.9 376.3 435.1 377.0 431.6 377.8 433.2 378.5 429.4 379.2 431.6 379.9 435.1 380.7 432.8 381.4 436.5 382.1 432.7 382.8 434.4 383.6 433.6 384.3 429.8 385.0 435.7 385.8 433.9 386.5 434.2 387.2 437.2 387.9 431.4 388.7 434.5 389.4 433.2 390.1 436.3 390.9 432.8 391.6 432.5 392.3 432.7 393.0 433.6 393.8 433.6 394.5 433.1 395.2 434.4 395.9 432.4 396.7 432.7 397.4 430.8 398.1 432.3 398.9 435.1 399.6 431.6 400.3 433.6 401.0 432.8 401.8 436.4 402.5 439.8 403.2 439.7 403.9 439.3 404.7 441.6 405.4 439.2 406.1 441.3 406.9 434.9 407.6 436.0 408.3 446.0 409.0 439.4 409.8 441.3 410.5 438.9 411.2 440.3 412.0 434.7 412.7 437.1 413.4 438.6 414.1 442.4 414.9 440.3 415.6 436.5 416.3 439.0 417.0 440.3 417.8 436.8 418.5 440.5 419.2 444.0 420.0 441.5 420.7 438.1 421.4 437.6 422.1 440.0 422.9 438.7 423.6 445.3 424.3 438.1 425.1 439.9 425.8 438.2 426.5 435.0 427.2 437.5 428.0 439.0 428.7 438.8 429.4 442.8 430.1 434.7 430.9 436.9 431.6 440.9 432.3 437.0 433.1 436.0 433.8 439.7 434.5 438.5 435.2 437.9 436.0 436.9 436.7 439.2 437.4 437.0 438.2 438.5 438.9 440.0 439.6 438.0 440.3 439.5 441.1 438.2 441.8 440.8 442.5 442.6 443.2 438.7 444.0 440.2 444.7 436.6 445.4 440.0 446.2 435.8 446.9 439.8 447.6 436.4 448.3 434.6 449.1 437.4 449.8 439.5 450.5 434.5 451.3 439.4 452.0 440.4 452.7 438.7 453.4 436.3 454.2 441.8 454.9 433.3 455.6 439.1 456.3 433.4 457.1 434.2 457.8 437.5 458.5 439.0 459.3 441.1 460.0 440.8 460.7 441.1 461.4 442.0 462.2 439.2 462.9 436.2 463.6 439.0 464.3 438.3 465.1 437.5 465.8 438.0 466.5 441.7 467.3 437.3 468.0 438.5 468.7 437.3 469.4 440.3 470.2 438.6 470.9 439.0 471.6 436.0 472.4 442.2 473.1 437.1 473.8 438.3 474.5 436.8 475.3 438.5 476.0 436.3 476.7 443.1 477.4 435.4 478.2 440.9 478.9 437.8 479.6 439.6 480.4 440.2 481.1 441.8 481.8 437.2 482.5 432.8 483.3 445.6 484.0 439.6 484.7 439.7 485.5 437.9 486.2 436.8 486.9 435.5 487.6 436.3 488.4 442.2 489.1 441.4 489.8 437.4 490.5 438.8 491.3 438.1 492.0 436.8 492.7 442.1 493.5 437.6 494.2 443.0 494.9 437.9 495.6 438.9 496.4 436.4 497.1 436.4 497.8 440.9 498.6 435.1 499.3 439.6 500.0 438.6 500.7 438.2 501.5 440.5 502.2 437.4 502.9 438.4 503.6 442.7 504.4 437.7 505.1 438.4 505.8 440.2 506.6 437.6 507.3 441.5 508.0 440.7 508.7 443.8 509.5 438.1 510.2 440.0 510.9 439.2 511.7 441.8 512.4 438.9 513.1 437.7 513.8 437.3 514.6 435.2 515.3 443.0 516.0 441.7 516.7 431.5 517.5 437.6 518.2 439.1" stroke="#0a88f0" stroke-width="2.30" fill="none" stroke-linejoin="round" stroke-linecap="round"/>
<path d="M337.0 433.7 337.7 437.6 338.5 440.7 339.2 432.3 339.9 435.1 340.6 434.7 341.4 437.3 342.1 435.7 342.8 431.3 343.5 431.1 344.3 433.6 345.0 435.3 345.7 427.8 346.5 429.7 347.2 424.2 347.9 421.1 348.6 426.6 349.4 420.9 350.1 426.7 350.8 426.5 351.6 428.0 352.3 422.3 353.0 425.5 353.7 423.1 354.5 428.0 355.2 430.2 355.9 424.4 356.6 420.6 357.4 422.6 358.1 424.7 358.8 420.6 359.6 431.5 360.3 432.2 361.0 422.9 361.7 427.7 362.5 426.2 363.2 428.6 363.9 430.0 364.7 424.6 365.4 429.5 366.1 421.9 366.8 424.8 367.6 431.2 368.3 422.8 369.0 422.1 369.7 422.8 370.5 422.2 371.2 425.6 371.9 425.2 372.7 426.4 373.4 424.8 374.1 425.1 374.8 423.4 375.6 423.5 376.3 423.4 377.0 427.5 377.8 435.0 378.5 424.2 379.2 427.5 379.9 423.5 380.7 421.8 381.4 418.0 382.1 427.8 382.8 424.9 383.6 420.9 384.3 426.5 385.0 430.7 385.8 423.9 386.5 422.0 387.2 422.8 387.9 426.1 388.7 433.5 389.4 424.7 390.1 429.6 390.9 418.4 391.6 421.4 392.3 422.4 393.0 422.7 393.8 426.2 394.5 430.5 395.2 429.3 395.9 423.3 396.7 424.8 397.4 425.7 398.1 424.5 398.9 424.0 399.6 431.4 400.3 425.3 401.0 433.5 401.8 432.7 402.5 437.9 403.2 437.8 403.9 447.5 404.7 444.3 405.4 441.4 406.1 440.0 406.9 445.2 407.6 438.8 408.3 438.5 409.0 443.0 409.8 442.4 410.5 435.8 411.2 437.4 412.0 445.4 412.7 437.3 413.4 440.3 414.1 438.9 414.9 435.2 415.6 440.5 416.3 445.9 417.0 439.0 417.8 442.0 418.5 439.0 419.2 443.8 420.0 439.1 420.7 443.9 421.4 446.1 422.1 438.7 422.9 445.7 423.6 446.0 424.3 439.8 425.1 442.2 425.8 439.0 426.5 439.0 427.2 441.4 428.0 442.1 428.7 441.8 429.4 437.9 430.1 443.0 430.9 443.1 431.6 445.6 432.3 445.6 433.1 442.6 433.8 444.4 434.5 440.7 435.2 446.1 436.0 439.1 436.7 439.1 437.4 440.1 438.2 438.5 438.9 438.9 439.6 442.3 440.3 448.9 441.1 437.8 441.8 443.8 442.5 442.6 443.2 446.8 444.0 446.2 444.7 439.9 445.4 442.9 446.2 448.2 446.9 445.9 447.6 437.6 448.3 437.8 449.1 441.3 449.8 441.1 450.5 445.1 451.3 446.1 452.0 441.1 452.7 446.3 453.4 447.1 454.2 443.7 454.9 437.3 455.6 448.0 456.3 443.8 457.1 442.1 457.8 441.7 458.5 438.8 459.3 439.0 460.0 438.5 460.7 444.4 461.4 443.6 462.2 438.8 462.9 446.2 463.6 445.0 464.3 443.3 465.1 444.8 465.8 444.2 466.5 443.8 467.3 442.3 468.0 440.6 468.7 443.6 469.4 440.4 470.2 441.5 470.9 445.2 471.6 444.9 472.4 441.7 473.1 444.4 473.8 443.9 474.5 442.5 475.3 446.1 476.0 442.1 476.7 444.9 477.4 440.0 478.2 440.8 478.9 440.9 479.6 437.3 480.4 443.4 481.1 443.8 481.8 443.3 482.5 441.0 483.3 442.7 484.0 437.3 484.7 437.3 485.5 434.6 486.2 440.5 486.9 440.0 487.6 439.5 488.4 437.5 489.1 442.7 489.8 444.7 490.5 440.5 491.3 436.2 492.0 441.8 492.7 439.9 493.5 440.4 494.2 444.4 494.9 437.4 495.6 440.8 496.4 440.3 497.1 441.9 497.8 441.2 498.6 440.6 499.3 443.5 500.0 442.1 500.7 446.0 501.5 448.4 502.2 440.8 502.9 437.7 503.6 448.6 504.4 438.2 505.1 440.6 505.8 436.8 506.6 440.0 507.3 448.2 508.0 438.6 508.7 439.9 509.5 439.6 510.2 441.9 510.9 445.2 511.7 447.6 512.4 442.6 513.1 443.5 513.8 442.7 514.6 438.6 515.3 440.7 516.0 437.4 516.7 439.7 517.5 444.0 518.2 439.2" stroke="#333333" stroke-width="2.30" fill="none" stroke-linejoin="round" stroke-linecap="round"/>
<path d="M337.0 442.6 337.7 439.4 338.5 439.5 339.2 437.8 339.9 437.0 340.6 436.0 341.4 442.5 342.1 444.2 342.8 441.2 343.5 439.7 344.3 438.7 345.0 436.4 345.7 434.8 346.5 428.5 347.2 432.4 347.9 433.5 348.6 431.6 349.4 430.3 350.1 434.2 350.8 438.8 351.6 433.8 352.3 432.8 353.0 435.2 353.7 437.0 354.5 437.1 355.2 431.9 355.9 430.5 356.6 430.1 357.4 433.8 358.1 428.0 358.8 438.6 359.6 432.0 360.3 433.3 361.0 438.9 361.7 430.9 362.5 434.0 363.2 432.0 363.9 435.8 364.7 432.0 365.4 434.8 366.1 431.5 366.8 436.1 367.6 432.4 368.3 430.2 369.0 432.7 369.7 427.7 370.5 438.8 371.2 435.4 371.9 435.0 372.7 434.4 373.4 437.7 374.1 434.1 374.8 433.4 375.6 432.3 376.3 434.6 377.0 438.8 377.8 430.8 378.5 436.6 379.2 434.5 379.9 435.3 380.7 438.5 381.4 436.0 382.1 430.8 382.8 433.6 383.6 429.4 384.3 434.3 385.0 430.8 385.8 438.3 386.5 435.1 387.2 426.2 387.9 437.9 388.7 432.1 389.4 431.7 390.1 437.3 390.9 440.0 391.6 440.2 392.3 432.0 393.0 430.5 393.8 437.8 394.5 434.7 395.2 430.3 395.9 438.7 396.7 433.3 397.4 434.1 398.1 428.6 398.9 433.4 399.6 432.8 400.3 433.3 401.0 430.8 401.8 433.2 402.5 436.7 403.2 435.7 403.9 437.8 404.7 437.8 405.4 438.4 406.1 439.9 406.9 438.5 407.6 442.4 408.3 439.9 409.0 435.2 409.8 437.0 410.5 438.5 411.2 436.6 412.0 441.2 412.7 431.9 413.4 438.9 414.1 439.3 414.9 434.0 415.6 433.6 416.3 444.6 417.0 438.9 417.8 438.6 418.5 434.9 419.2 440.3 420.0 436.2 420.7 436.4 421.4 439.5 422.1 441.4 422.9 437.9 423.6 433.5 424.3 437.6 425.1 433.5 425.8 441.2 426.5 436.6 427.2 434.9 428.0 435.1 428.7 437.1 429.4 439.6 430.1 439.2 430.9 439.6 431.6 433.3 432.3 435.1 433.1 439.3 433.8 436.3 434.5 438.7 435.2 434.1 436.0 427.2 436.7 437.7 437.4 438.6 438.2 441.7 438.9 437.5 439.6 439.0 440.3 443.3 441.1 440.8 441.8 437.8 442.5 435.4 443.2 436.7 444.0 436.3 444.7 442.6 445.4 439.6 446.2 439.9 446.9 443.0 447.6 438.7 448.3 436.4 449.1 433.0 449.8 438.1 450.5 438.5 451.3 437.6 452.0 441.9 452.7 436.4 453.4 439.1 454.2 434.8 454.9 436.5 455.6 429.5 456.3 438.9 457.1 437.1 457.8 437.0 458.5 434.4 459.3 434.6 460.0 435.0 460.7 435.4 461.4 440.0 462.2 431.8 462.9 446.7 463.6 440.0 464.3 436.8 465.1 444.1 465.8 435.1 466.5 438.0 467.3 427.5 468.0 442.0 468.7 436.6 469.4 438.3 470.2 435.5 470.9 433.9 471.6 438.7 472.4 438.0 473.1 442.2 473.8 440.7 474.5 431.0 475.3 438.9 476.0 432.6 476.7 433.6 477.4 436.5 478.2 443.7 478.9 430.9 479.6 433.7 480.4 434.3 481.1 437.6 481.8 438.2 482.5 435.3 483.3 432.8 484.0 437.6 484.7 435.8 485.5 440.3 486.2 440.7 486.9 441.1 487.6 431.7 488.4 434.3 489.1 432.7 489.8 437.4 490.5 438.3 491.3 438.6 492.0 438.5 492.7 440.3 493.5 437.7 494.2 436.9 494.9 441.5 495.6 441.5 496.4 434.2 497.1 438.9 497.8 433.7 498.6 435.8 499.3 440.5 500.0 439.6 500.7 435.3 501.5 442.7 502.2 443.3 502.9 437.3 503.6 435.6 504.4 432.9 505.1 438.6 505.8 442.8 506.6 441.3 507.3 441.0 508.0 439.3 508.7 438.5 509.5 433.3 510.2 437.0 510.9 438.7 511.7 435.6 512.4 435.8 513.1 435.9 513.8 438.7 514.6 435.2 515.3 439.6 516.0 436.5 516.7 434.4 517.5 438.0 518.2 438.8" stroke="#0a8a0a" stroke-width="2.30" fill="none" stroke-linejoin="round" stroke-linecap="round"/>
<path d="M337.0 442.9 337.7 445.1 338.5 444.6 339.2 443.6 339.9 450.2 340.6 448.0 341.4 446.9 342.1 447.2 342.8 439.6 343.5 445.7 344.3 438.9 345.0 439.1 345.7 443.1 346.5 432.7 347.2 430.8 347.9 432.7 348.6 442.9 349.4 433.1 350.1 439.2 350.8 434.7 351.6 430.2 352.3 437.6 353.0 439.7 353.7 435.7 354.5 439.0 355.2 433.5 355.9 438.9 356.6 439.4 357.4 433.5 358.1 434.6 358.8 435.5 359.6 430.1 360.3 437.3 361.0 435.1 361.7 435.6 362.5 432.3 363.2 429.7 363.9 433.2 364.7 432.5 365.4 439.9 366.1 436.0 366.8 433.2 367.6 438.0 368.3 428.0 369.0 435.7 369.7 434.9 370.5 431.0 371.2 430.1 371.9 434.7 372.7 436.4 373.4 439.0 374.1 432.5 374.8 429.7 375.6 436.5 376.3 435.5 377.0 433.9 377.8 438.5 378.5 437.9 379.2 441.4 379.9 439.9 380.7 439.9 381.4 437.8 382.1 430.2 382.8 438.9 383.6 439.6 384.3 436.8 385.0 436.2 385.8 433.8 386.5 433.8 387.2 440.8 387.9 433.8 388.7 426.3 389.4 435.9 390.1 434.0 390.9 433.0 391.6 438.1 392.3 427.3 393.0 437.3 393.8 434.9 394.5 433.6 395.2 433.9 395.9 433.7 396.7 443.6 397.4 436.8 398.1 431.5 398.9 440.0 399.6 437.3 400.3 437.9 401.0 434.4 401.8 434.8 402.5 438.7 403.2 437.8 403.9 439.7 404.7 436.5 405.4 441.0 406.1 441.4 406.9 437.5 407.6 439.3 408.3 441.9 409.0 440.6 409.8 438.2 410.5 436.1 411.2 441.8 412.0 442.8 412.7 442.5 413.4 445.2 414.1 437.1 414.9 443.5 415.6 437.6 416.3 441.0 417.0 439.1 417.8 433.9 418.5 442.2 419.2 443.2 420.0 435.3 420.7 443.5 421.4 447.0 422.1 436.3 422.9 440.9 423.6 442.9 424.3 442.6 425.1 448.0 425.8 443.5 426.5 444.5 427.2 440.8 428.0 438.6 428.7 437.1 429.4 442.9 430.1 441.7 430.9 445.6 431.6 450.6 432.3 441.9 433.1 442.0 433.8 437.2 434.5 438.6 435.2 439.2 436.0 435.4 436.7 443.5 437.4 440.3 438.2 442.9 438.9 440.7 439.6 442.6 440.3 436.4 441.1 430.3 441.8 432.0 442.5 438.8 443.2 448.0 444.0 439.1 444.7 437.0 445.4 436.4 446.2 441.0 446.9 441.4 447.6 448.0 448.3 441.2 449.1 441.6 449.8 444.9 450.5 440.1 451.3 439.6 452.0 444.9 452.7 441.2 453.4 447.6 454.2 441.2 454.9 443.5 455.6 438.8 456.3 438.3 457.1 439.9 457.8 434.5 458.5 441.0 459.3 444.8 460.0 439.3 460.7 439.2 461.4 442.9 462.2 437.4 462.9 438.5 463.6 440.2 464.3 439.1 465.1 435.2 465.8 441.3 466.5 436.8 467.3 440.5 468.0 438.1 468.7 438.2 469.4 443.6 470.2 433.5 470.9 434.0 471.6 436.1 472.4 448.6 473.1 441.3 473.8 444.5 474.5 446.7 475.3 443.8 476.0 437.0 476.7 439.4 477.4 437.6 478.2 439.4 478.9 439.8 479.6 438.8 480.4 439.3 481.1 447.2 481.8 441.2 482.5 439.7 483.3 446.8 484.0 440.9 484.7 442.6 485.5 439.9 486.2 434.3 486.9 441.5 487.6 439.0 488.4 434.3 489.1 440.8 489.8 441.3 490.5 436.8 491.3 440.4 492.0 438.5 492.7 442.9 493.5 439.7 494.2 443.3 494.9 439.7 495.6 436.6 496.4 440.5 497.1 442.6 497.8 433.5 498.6 437.7 499.3 442.3 500.0 444.4 500.7 437.1 501.5 437.9 502.2 435.7 502.9 435.2 503.6 441.4 504.4 441.6 505.1 439.2 505.8 441.3 506.6 434.2 507.3 439.6 508.0 437.2 508.7 442.1 509.5 429.7 510.2 441.2 510.9 443.7 511.7 442.9 512.4 443.4 513.1 436.8 513.8 433.6 514.6 442.6 515.3 443.8 516.0 439.3 516.7 445.8 517.5 441.3 518.2 441.0" stroke="#f43c08" stroke-width="2.30" fill="none" stroke-linejoin="round" stroke-linecap="round"/>
<path d="M337.0 441.6 337.7 437.0 338.5 436.3 339.2 433.1 339.9 439.1 340.6 429.9 341.4 426.9 342.1 434.3 342.8 425.2 343.5 435.1 344.3 432.8 345.0 420.1 345.7 435.2 346.5 431.0 347.2 430.3 347.9 426.9 348.6 415.4 349.4 428.4 350.1 429.7 350.8 429.8 351.6 426.8 352.3 431.7 353.0 428.5 353.7 433.2 354.5 421.5 355.2 431.4 355.9 420.1 356.6 414.8 357.4 428.0 358.1 426.1 358.8 427.9 359.6 430.4 360.3 413.6 361.0 425.3 361.7 426.9 362.5 433.1 363.2 426.6 363.9 428.9 364.7 421.5 365.4 434.9 366.1 426.8 366.8 429.7 367.6 427.4 368.3 428.9 369.0 425.4 369.7 429.0 370.5 430.4 371.2 429.1 371.9 426.0 372.7 427.5 373.4 432.2 374.1 419.5 374.8 428.8 375.6 419.4 376.3 423.6 377.0 422.9 377.8 425.3 378.5 435.2 379.2 425.8 379.9 430.5 380.7 420.9 381.4 422.2 382.1 431.7 382.8 429.9 383.6 428.9 384.3 425.7 385.0 432.1 385.8 428.3 386.5 425.9 387.2 424.0 387.9 428.8 388.7 427.1 389.4 429.0 390.1 432.7 390.9 421.5 391.6 429.5 392.3 426.0 393.0 418.2 393.8 426.8 394.5 426.9 395.2 429.2 395.9 427.8 396.7 425.3 397.4 426.9 398.1 430.6 398.9 424.1 399.6 428.2 400.3 428.6 401.0 420.7 401.8 425.8 402.5 419.9 403.2 423.0 403.9 419.1 404.7 413.5 405.4 420.2 406.1 429.7 406.9 429.6 407.6 434.1 408.3 427.3 409.0 426.0 409.8 423.3 410.5 419.0 411.2 430.0 412.0 437.1 412.7 428.4 413.4 420.6 414.1 436.8 414.9 425.4 415.6 420.7 416.3 437.0 417.0 426.6 417.8 411.3 418.5 431.7 419.2 426.9 420.0 432.8 420.7 426.0 421.4 423.5 422.1 426.8 422.9 434.2 423.6 434.3 424.3 420.5 425.1 424.8 425.8 420.7 426.5 423.9 427.2 428.2 428.0 428.8 428.7 435.5 429.4 436.3 430.1 429.0 430.9 419.8 431.6 429.3 432.3 418.7 433.1 428.6 433.8 422.7 434.5 427.7 435.2 431.2 436.0 425.5 436.7 422.1 437.4 433.1 438.2 422.2 438.9 427.9 439.6 426.1 440.3 431.7 441.1 422.2 441.8 425.6 442.5 426.4 443.2 422.4 444.0 424.4 444.7 431.0 445.4 429.6 446.2 426.7 446.9 430.7 447.6 430.0 448.3 421.2 449.1 427.9 449.8 427.8 450.5 432.8 451.3 437.6 452.0 415.3 452.7 428.7 453.4 423.5 454.2 428.5 454.9 428.6 455.6 429.5 456.3 428.0 457.1 413.7 457.8 430.7 458.5 426.1 459.3 423.9 460.0 431.2 460.7 424.6 461.4 420.2 462.2 426.7 462.9 415.1 463.6 417.2 464.3 439.0 465.1 426.9 465.8 425.5 466.5 425.6 467.3 434.5 468.0 433.1 468.7 430.0 469.4 424.2 470.2 435.2 470.9 430.3 471.6 423.1 472.4 429.1 473.1 428.2 473.8 425.9 474.5 437.1 475.3 433.0 476.0 430.4 476.7 436.9 477.4 428.8 478.2 427.8 478.9 428.4 479.6 424.9 480.4 428.7 481.1 430.5 481.8 432.8 482.5 435.0 483.3 426.0 484.0 420.4 484.7 431.5 485.5 431.2 486.2 426.0 486.9 422.7 487.6 427.3 488.4 422.1 489.1 422.6 489.8 430.3 490.5 427.0 491.3 427.3 492.0 431.5 492.7 424.6 493.5 429.7 494.2 431.2 494.9 420.8 495.6 429.3 496.4 425.5 497.1 421.8 497.8 428.1 498.6 432.4 499.3 430.9 500.0 425.3 500.7 430.9 501.5 429.2 502.2 430.9 502.9 428.0 503.6 434.5 504.4 427.5 505.1 423.8 505.8 418.6 506.6 430.1 507.3 426.6 508.0 428.8 508.7 428.4 509.5 433.3 510.2 426.4 510.9 430.6 511.7 429.4 512.4 424.6 513.1 435.4 513.8 423.9 514.6 427.9 515.3 429.5 516.0 430.2 516.7 422.4 517.5 415.5 518.2 436.0" stroke="#740000" stroke-width="2.30" fill="none" stroke-linejoin="round" stroke-linecap="round"/>
<path d="M336.80 382.50 L336.80 438.00" stroke="#740000" stroke-width="1.60" fill="none"/>
<path d="M533.00 470.40 L533.00 474.80" stroke="#9ed4f2" stroke-width="1.00" fill="none"/>
<text x="220.60" y="32.70" font-size="10.80" text-anchor="start" font-family="Liberation Serif" font-weight="bold" class="nb">(A)</text>
<text x="221.80" y="199.10" font-size="10.80" text-anchor="start" font-family="Liberation Serif" font-weight="bold" class="nb">(B)</text>
<text x="222.70" y="369.80" font-size="10.80" text-anchor="start" font-family="Liberation Serif" font-weight="normal">(C)</text>
<text x="489.70" y="33.00" font-size="10.80" text-anchor="start" font-family="Liberation Serif" font-weight="normal">(D)</text>
<text x="493.40" y="200.60" font-size="10.80" text-anchor="start" font-family="Liberation Serif" font-weight="bold" class="nb">(E)</text>
<text x="500.70" y="370.50" font-size="10.80" text-anchor="start" font-family="Liberation Serif" font-weight="bold" class="nb">(F)</text>
<path d="M118.50 519.60 L146.50 519.60" stroke="#ff0000" stroke-width="2.40" fill="none"/>
<text x="148.80" y="522.80" font-size="11.00" text-anchor="start" font-family="Liberation Sans" font-weight="normal">Toluene</text>
<path d="M193.00 519.60 L221.00 519.60" stroke="#0c0c24" stroke-width="2.40" fill="none"/>
<text x="222.90" y="522.80" font-size="11.00" text-anchor="start" font-family="Liberation Sans" font-weight="normal">AcOEt</text>
<path d="M267.30 519.60 L295.00 519.60" stroke="#2e0a86" stroke-width="2.40" fill="none"/>
<text x="297.10" y="522.80" font-size="11.00" text-anchor="start" font-family="Liberation Sans" font-weight="normal">EtOH</text>
<path d="M341.00 519.60 L369.30 519.60" stroke="#0a88f0" stroke-width="2.40" fill="none"/>
<text x="371.10" y="522.80" font-size="11.00" text-anchor="start" font-family="Liberation Sans" font-weight="normal">MeOH</text>
<path d="M118.50 540.00 L146.50 540.00" stroke="#333333" stroke-width="2.40" fill="none"/>
<text x="148.80" y="543.60" font-size="11.00" text-anchor="start" font-family="Liberation Sans" font-weight="normal">Glycerol</text>
<path d="M193.00 540.00 L221.00 540.00" stroke="#0a8a0a" stroke-width="2.40" fill="none"/>
<text x="222.90" y="543.60" font-size="11.00" text-anchor="start" font-family="Liberation Sans" font-weight="normal">Water</text>
<path d="M267.30 540.00 L295.00 540.00" stroke="#f43c08" stroke-width="2.40" fill="none"/>
<text x="297.10" y="543.60" font-size="11.00" text-anchor="start" font-family="Liberation Sans" font-weight="normal">PBS</text>
<path d="M341.00 540.00 L369.30 540.00" stroke="#740000" stroke-width="2.40" fill="none"/>
<text x="371.10" y="543.60" font-size="11.00" text-anchor="start" font-family="Liberation Sans" font-weight="normal">FBS</text>
</svg></body></html>
